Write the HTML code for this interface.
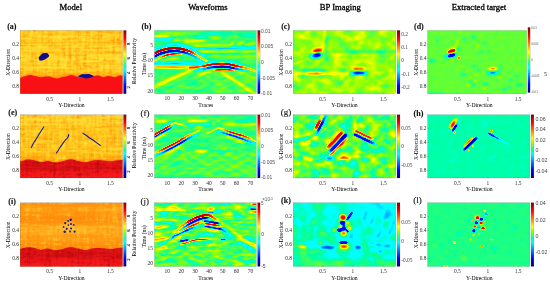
<!DOCTYPE html><html><head><meta charset="utf-8"><title>Figure</title><style>html,body{margin:0;padding:0;background:#fff;overflow:hidden}svg{display:block}</style></head><body><svg width="550" height="283" viewBox="0 0 550 283"><defs><linearGradient id="jetg" x1="0" y1="1" x2="0" y2="0">
<stop offset="0" stop-color="#000080"/><stop offset="0.125" stop-color="#0000ff"/><stop offset="0.375" stop-color="#00ffff"/>
<stop offset="0.4375" stop-color="#00ffb6"/><stop offset="0.5" stop-color="#55ff55"/><stop offset="0.5625" stop-color="#adff00"/><stop offset="0.625" stop-color="#ffff00"/><stop offset="0.875" stop-color="#ff0000"/><stop offset="1" stop-color="#800000"/>
</linearGradient><filter id="b0" filterUnits="userSpaceOnUse" x="0" y="0" width="550" height="283" color-interpolation-filters="sRGB"><feGaussianBlur stdDeviation="0.3"/></filter><filter id="b1" filterUnits="userSpaceOnUse" x="0" y="0" width="550" height="283" color-interpolation-filters="sRGB"><feGaussianBlur stdDeviation="0.5"/></filter><filter id="b2" filterUnits="userSpaceOnUse" x="0" y="0" width="550" height="283" color-interpolation-filters="sRGB"><feGaussianBlur stdDeviation="0.8"/></filter><filter id="b3" filterUnits="userSpaceOnUse" x="0" y="0" width="550" height="283" color-interpolation-filters="sRGB"><feGaussianBlur stdDeviation="1.2"/></filter><filter id="b4" filterUnits="userSpaceOnUse" x="0" y="0" width="550" height="283" color-interpolation-filters="sRGB"><feGaussianBlur stdDeviation="1.8"/></filter><filter id="b5" filterUnits="userSpaceOnUse" x="0" y="0" width="550" height="283" color-interpolation-filters="sRGB"><feGaussianBlur stdDeviation="2.5"/></filter><filter id="nzY" x="0" y="0" width="100%" height="100%" color-interpolation-filters="sRGB">
<feTurbulence type="fractalNoise" baseFrequency="0.32 0.04" numOctaves="2" seed="3"/>
<feColorMatrix type="matrix" values="1 0 0 0 0  1 0 0 0 0  1 0 0 0 0  0 0 0 0 1" result="a"/>
<feTurbulence type="fractalNoise" baseFrequency="0.04 0.42" numOctaves="2" seed="8"/>
<feColorMatrix type="matrix" values="1 0 0 0 0  1 0 0 0 0  1 0 0 0 0  0 0 0 0 1" result="b"/>
<feTurbulence type="fractalNoise" baseFrequency="0.3 0.35" numOctaves="1" seed="12"/>
<feColorMatrix type="matrix" values="1 0 0 0 0  1 0 0 0 0  1 0 0 0 0  0 0 0 0 1" result="c"/>
<feComposite in="a" in2="b" operator="arithmetic" k1="0" k2="0.5" k3="0.5" k4="0" result="ab"/>
<feComposite in="ab" in2="c" operator="arithmetic" k1="0" k2="0.7" k3="0.3" k4="0" result="n"/>
<feColorMatrix in="n" type="matrix" values="0 0 0 0 1  0 0 0 0 0.93  0 0 0 0 0.22  5.0 0 0 0 -2.5"/>
</filter><filter id="nzO" x="0" y="0" width="100%" height="100%" color-interpolation-filters="sRGB">
<feTurbulence type="fractalNoise" baseFrequency="0.32 0.04" numOctaves="2" seed="3"/>
<feColorMatrix type="matrix" values="1 0 0 0 0  1 0 0 0 0  1 0 0 0 0  0 0 0 0 1" result="a"/>
<feTurbulence type="fractalNoise" baseFrequency="0.04 0.42" numOctaves="2" seed="8"/>
<feColorMatrix type="matrix" values="1 0 0 0 0  1 0 0 0 0  1 0 0 0 0  0 0 0 0 1" result="b"/>
<feTurbulence type="fractalNoise" baseFrequency="0.3 0.35" numOctaves="1" seed="12"/>
<feColorMatrix type="matrix" values="1 0 0 0 0  1 0 0 0 0  1 0 0 0 0  0 0 0 0 1" result="c"/>
<feComposite in="a" in2="b" operator="arithmetic" k1="0" k2="0.5" k3="0.5" k4="0" result="ab"/>
<feComposite in="ab" in2="c" operator="arithmetic" k1="0" k2="0.7" k3="0.3" k4="0" result="n"/>
<feColorMatrix in="n" type="matrix" values="0 0 0 0 1  0 0 0 0 0.56  0 0 0 0 0.03  -5.0 0 0 0 2.5"/>
</filter><filter id="nzR" x="0" y="0" width="100%" height="100%" color-interpolation-filters="sRGB">
<feTurbulence type="fractalNoise" baseFrequency="0.32 0.04" numOctaves="2" seed="11"/>
<feColorMatrix type="matrix" values="1 0 0 0 0  1 0 0 0 0  1 0 0 0 0  0 0 0 0 1" result="a"/>
<feTurbulence type="fractalNoise" baseFrequency="0.04 0.42" numOctaves="2" seed="16"/>
<feColorMatrix type="matrix" values="1 0 0 0 0  1 0 0 0 0  1 0 0 0 0  0 0 0 0 1" result="b"/>
<feTurbulence type="fractalNoise" baseFrequency="0.3 0.35" numOctaves="1" seed="20"/>
<feColorMatrix type="matrix" values="1 0 0 0 0  1 0 0 0 0  1 0 0 0 0  0 0 0 0 1" result="c"/>
<feComposite in="a" in2="b" operator="arithmetic" k1="0" k2="0.5" k3="0.5" k4="0" result="ab"/>
<feComposite in="ab" in2="c" operator="arithmetic" k1="0" k2="0.7" k3="0.3" k4="0" result="n"/>
<feColorMatrix in="n" type="matrix" values="0 0 0 0 1  0 0 0 0 0.16  0 0 0 0 0.12  4.0 0 0 0 -2.0"/>
</filter><filter id="nzD" x="0" y="0" width="100%" height="100%" color-interpolation-filters="sRGB">
<feTurbulence type="fractalNoise" baseFrequency="0.32 0.04" numOctaves="2" seed="11"/>
<feColorMatrix type="matrix" values="1 0 0 0 0  1 0 0 0 0  1 0 0 0 0  0 0 0 0 1" result="a"/>
<feTurbulence type="fractalNoise" baseFrequency="0.04 0.42" numOctaves="2" seed="16"/>
<feColorMatrix type="matrix" values="1 0 0 0 0  1 0 0 0 0  1 0 0 0 0  0 0 0 0 1" result="b"/>
<feTurbulence type="fractalNoise" baseFrequency="0.3 0.35" numOctaves="1" seed="20"/>
<feColorMatrix type="matrix" values="1 0 0 0 0  1 0 0 0 0  1 0 0 0 0  0 0 0 0 1" result="c"/>
<feComposite in="a" in2="b" operator="arithmetic" k1="0" k2="0.5" k3="0.5" k4="0" result="ab"/>
<feComposite in="ab" in2="c" operator="arithmetic" k1="0" k2="0.7" k3="0.3" k4="0" result="n"/>
<feColorMatrix in="n" type="matrix" values="0 0 0 0 0.62  0 0 0 0 0  0 0 0 0 0  -4.0 0 0 0 2.0"/>
</filter><clipPath id="cp1"><rect x="20.2" y="30.4" width="102.3" height="63.4"/></clipPath><linearGradient id="ga" gradientUnits="userSpaceOnUse" x1="0" y1="30.4" x2="0" y2="93.8"><stop offset="0.000" stop-color="#ffc21a"/><stop offset="0.041" stop-color="#ffc81e"/><stop offset="0.088" stop-color="#ffd42a"/><stop offset="0.167" stop-color="#ffcc22"/><stop offset="0.191" stop-color="#ffbe18"/><stop offset="0.230" stop-color="#ffd228"/><stop offset="0.309" stop-color="#ffd62e"/><stop offset="0.347" stop-color="#ffc21a"/><stop offset="0.388" stop-color="#ffd42a"/><stop offset="0.467" stop-color="#ffd830"/><stop offset="0.530" stop-color="#ffca20"/><stop offset="0.593" stop-color="#ffd42a"/><stop offset="0.648" stop-color="#ffc61c"/><stop offset="0.688" stop-color="#ffb214"/><stop offset="0.751" stop-color="#ffaa10"/></linearGradient><clipPath id="rr1"><path d="M20.00 78.20 C20.67 77.93 22.33 77.13 24.00 76.60 C25.67 76.07 28.17 75.10 30.00 75.00 C31.83 74.90 33.17 75.63 35.00 76.00 C36.83 76.37 38.75 77.12 41.00 77.20 C43.25 77.28 45.97 76.30 48.50 76.50 C51.03 76.70 53.95 78.28 56.20 78.40 C58.45 78.52 60.30 77.52 62.00 77.20 C63.70 76.88 64.82 76.87 66.40 76.50 C67.98 76.13 69.90 75.00 71.50 75.00 C73.10 75.00 74.58 76.12 76.00 76.50 C77.42 76.88 78.33 77.13 80.00 77.30 C81.67 77.47 83.65 77.67 86.00 77.50 C88.35 77.33 92.10 76.63 94.10 76.30 C96.10 75.97 96.47 75.35 98.00 75.50 C99.53 75.65 101.57 77.12 103.30 77.20 C105.03 77.28 106.50 76.00 108.40 76.00 C110.30 76.00 112.80 77.28 114.70 77.20 C116.60 77.12 118.42 75.70 119.80 75.50 C121.18 75.30 122.47 75.92 123.00 76.00 L123.5 94.8 L19.2 94.8 Z"/></clipPath><clipPath id="cp2"><rect x="20.2" y="114.7" width="102.3" height="63.3"/></clipPath><linearGradient id="ge" gradientUnits="userSpaceOnUse" x1="0" y1="114.7" x2="0" y2="178.0"><stop offset="0.000" stop-color="#ffc41c"/><stop offset="0.036" stop-color="#ffd22c"/><stop offset="0.131" stop-color="#ffd430"/><stop offset="0.194" stop-color="#ffc21a"/><stop offset="0.273" stop-color="#ffca22"/><stop offset="0.352" stop-color="#ffc01a"/><stop offset="0.431" stop-color="#ffcc26"/><stop offset="0.510" stop-color="#ffc41e"/><stop offset="0.589" stop-color="#ffc820"/><stop offset="0.652" stop-color="#ffb616"/><stop offset="0.716" stop-color="#ffaa10"/></linearGradient><linearGradient id="gre" gradientUnits="userSpaceOnUse" x1="0" y1="114.7" x2="0" y2="178.0"><stop offset="0.700" stop-color="#e21216"/><stop offset="0.810" stop-color="#dc1014"/><stop offset="0.858" stop-color="#d40e12"/><stop offset="0.905" stop-color="#ee161a"/><stop offset="1.000" stop-color="#f8181c"/></linearGradient><clipPath id="rr2"><path d="M20.00 161.50 C20.67 161.32 22.63 160.72 24.00 160.40 C25.37 160.08 26.45 159.62 28.20 159.60 C29.95 159.58 32.38 159.87 34.50 160.30 C36.62 160.73 38.77 162.10 40.90 162.20 C43.03 162.30 44.97 160.83 47.30 160.90 C49.63 160.97 52.37 162.53 54.90 162.60 C57.43 162.67 60.48 161.73 62.50 161.30 C64.52 160.87 65.62 160.33 67.00 160.00 C68.38 159.67 69.55 159.30 70.80 159.30 C72.05 159.30 73.33 159.73 74.50 160.00 C75.67 160.27 76.18 160.53 77.80 160.90 C79.42 161.27 82.72 161.98 84.20 162.20 C85.68 162.42 85.57 162.40 86.70 162.20 C87.83 162.00 89.52 161.32 91.00 161.00 C92.48 160.68 94.27 160.43 95.60 160.30 C96.93 160.17 97.72 160.17 99.00 160.20 C100.28 160.23 101.32 160.32 103.30 160.50 C105.28 160.68 109.12 161.22 110.90 161.30 C112.68 161.38 112.93 161.17 114.00 161.00 C115.07 160.83 115.80 160.47 117.30 160.30 C118.80 160.13 122.05 160.05 123.00 160.00 L123.5 179.0 L19.2 179.0 Z"/></clipPath><clipPath id="cp3"><rect x="20.2" y="202.7" width="102.3" height="63.69999999999999"/></clipPath><linearGradient id="gi" gradientUnits="userSpaceOnUse" x1="0" y1="202.7" x2="0" y2="266.4"><stop offset="0.000" stop-color="#ff9010"/><stop offset="0.052" stop-color="#ff9412"/><stop offset="0.115" stop-color="#ffa218"/><stop offset="0.162" stop-color="#ff9812"/><stop offset="0.240" stop-color="#ff8c0e"/><stop offset="0.319" stop-color="#ff9210"/><stop offset="0.381" stop-color="#ffac20"/><stop offset="0.460" stop-color="#ffb024"/><stop offset="0.523" stop-color="#ff9a14"/><stop offset="0.586" stop-color="#ffa018"/><stop offset="0.648" stop-color="#ff900e"/><stop offset="0.727" stop-color="#ff860a"/></linearGradient><linearGradient id="gri" gradientUnits="userSpaceOnUse" x1="0" y1="202.7" x2="0" y2="266.4"><stop offset="0.695" stop-color="#dc1216"/><stop offset="0.790" stop-color="#d81014"/><stop offset="0.837" stop-color="#d00e12"/><stop offset="0.884" stop-color="#ea1418"/><stop offset="0.994" stop-color="#f4181c"/></linearGradient><clipPath id="rr3"><path d="M20.00 249.20 C20.67 249.02 22.63 248.42 24.00 248.10 C25.37 247.78 26.45 247.32 28.20 247.30 C29.95 247.28 32.38 247.57 34.50 248.00 C36.62 248.43 38.77 249.80 40.90 249.90 C43.03 250.00 44.97 248.53 47.30 248.60 C49.63 248.67 52.37 250.23 54.90 250.30 C57.43 250.37 60.48 249.43 62.50 249.00 C64.52 248.57 65.62 248.03 67.00 247.70 C68.38 247.37 69.55 247.00 70.80 247.00 C72.05 247.00 73.33 247.43 74.50 247.70 C75.67 247.97 76.18 248.23 77.80 248.60 C79.42 248.97 82.72 249.68 84.20 249.90 C85.68 250.12 85.57 250.10 86.70 249.90 C87.83 249.70 89.52 249.02 91.00 248.70 C92.48 248.38 94.27 248.13 95.60 248.00 C96.93 247.87 97.72 247.87 99.00 247.90 C100.28 247.93 101.32 248.02 103.30 248.20 C105.28 248.38 109.12 248.92 110.90 249.00 C112.68 249.08 112.93 248.87 114.00 248.70 C115.07 248.53 115.80 248.17 117.30 248.00 C118.80 247.83 122.05 247.75 123.00 247.70 L123.5 267.4 L19.2 267.4 Z"/></clipPath><clipPath id="cp4"><rect x="154.5" y="30.4" width="101.80000000000001" height="63.4"/></clipPath><filter id="jf4" filterUnits="userSpaceOnUse" x="153.5" y="29.4" width="103.80000000000001" height="65.4" color-interpolation-filters="sRGB">
<feTurbulence type="fractalNoise" baseFrequency="0.07 0.28" numOctaves="2" seed="4" result="n"/>
<feColorMatrix in="n" type="matrix" values="0.13 0 0 0 0.435  0.13 0 0 0 0.435  0.13 0 0 0 0.435  0 0 0 0 1" result="ng"/>
<feComposite in="SourceGraphic" in2="ng" operator="arithmetic" k1="0" k2="1" k3="1" k4="-0.5" result="s"/>
<feComponentTransfer in="s">
<feFuncR type="table" tableValues="0 0 0 0 0.5 1 1 1 0.5"/>
<feFuncG type="table" tableValues="0 0 0.5 1 1 1 0.5 0 0"/>
<feFuncB type="table" tableValues="0.5 1 1 1 0.5 0 0 0 0"/>
<feFuncA type="linear" slope="0" intercept="1"/>
</feComponentTransfer><feColorMatrix type="saturate" values="1.55"/></filter><linearGradient id="tg1" gradientUnits="userSpaceOnUse" x1="153" y1="0" x2="172" y2="0"><stop offset="0.000" stop-color="#cbcbcb" stop-opacity="0.6"/><stop offset="0.263" stop-color="#cbcbcb" stop-opacity="1"/><stop offset="0.684" stop-color="#cbcbcb" stop-opacity="1"/><stop offset="1.000" stop-color="#cbcbcb" stop-opacity="0"/></linearGradient><linearGradient id="tg2" gradientUnits="userSpaceOnUse" x1="153" y1="0" x2="184" y2="0"><stop offset="0.000" stop-color="#3b3b3b" stop-opacity="0.8"/><stop offset="0.710" stop-color="#3b3b3b" stop-opacity="0.8"/><stop offset="1.000" stop-color="#3b3b3b" stop-opacity="0"/></linearGradient><linearGradient id="tg3" gradientUnits="userSpaceOnUse" x1="171" y1="0" x2="182" y2="0"><stop offset="0.000" stop-color="#b1b1b1" stop-opacity="0"/><stop offset="0.273" stop-color="#b1b1b1" stop-opacity="1"/><stop offset="0.727" stop-color="#b1b1b1" stop-opacity="1"/><stop offset="1.000" stop-color="#b1b1b1" stop-opacity="0"/></linearGradient><linearGradient id="tg4" gradientUnits="userSpaceOnUse" x1="182" y1="0" x2="207" y2="0"><stop offset="0.000" stop-color="#b1b1b1" stop-opacity="0"/><stop offset="0.160" stop-color="#b1b1b1" stop-opacity="1"/><stop offset="0.800" stop-color="#b1b1b1" stop-opacity="1"/><stop offset="1.000" stop-color="#b1b1b1" stop-opacity="0"/></linearGradient><linearGradient id="tg5" gradientUnits="userSpaceOnUse" x1="194" y1="0" x2="209" y2="0"><stop offset="0.000" stop-color="#484848" stop-opacity="0"/><stop offset="0.267" stop-color="#484848" stop-opacity="0.8"/><stop offset="0.733" stop-color="#484848" stop-opacity="0.8"/><stop offset="1.000" stop-color="#484848" stop-opacity="0"/></linearGradient><linearGradient id="tg6" gradientUnits="userSpaceOnUse" x1="210" y1="0" x2="222" y2="0"><stop offset="0.000" stop-color="#b1b1b1" stop-opacity="0"/><stop offset="0.333" stop-color="#b1b1b1" stop-opacity="0.7"/><stop offset="0.667" stop-color="#b1b1b1" stop-opacity="0.7"/><stop offset="1.000" stop-color="#b1b1b1" stop-opacity="0"/></linearGradient><linearGradient id="tg7" gradientUnits="userSpaceOnUse" x1="224" y1="0" x2="241" y2="0"><stop offset="0.000" stop-color="#b1b1b1" stop-opacity="0"/><stop offset="0.353" stop-color="#b1b1b1" stop-opacity="0.5"/><stop offset="0.706" stop-color="#b1b1b1" stop-opacity="0.5"/><stop offset="1.000" stop-color="#b1b1b1" stop-opacity="0"/></linearGradient><linearGradient id="tg8" gradientUnits="userSpaceOnUse" x1="158" y1="0" x2="202" y2="0"><stop offset="0.000" stop-color="#a9a9a9" stop-opacity="0"/><stop offset="0.159" stop-color="#a9a9a9" stop-opacity="0.7"/><stop offset="0.841" stop-color="#a9a9a9" stop-opacity="0.7"/><stop offset="1.000" stop-color="#a9a9a9" stop-opacity="0"/></linearGradient><linearGradient id="tg9" gradientUnits="userSpaceOnUse" x1="204" y1="0" x2="257" y2="0"><stop offset="0.000" stop-color="#5d5d5d" stop-opacity="0"/><stop offset="0.151" stop-color="#5d5d5d" stop-opacity="0.7"/><stop offset="1.000" stop-color="#5d5d5d" stop-opacity="0.7"/></linearGradient><linearGradient id="tg10" gradientUnits="userSpaceOnUse" x1="178" y1="0" x2="202" y2="0"><stop offset="0.000" stop-color="#a9a9a9" stop-opacity="0"/><stop offset="0.250" stop-color="#a9a9a9" stop-opacity="0.7"/><stop offset="0.750" stop-color="#a9a9a9" stop-opacity="0.7"/><stop offset="1.000" stop-color="#a9a9a9" stop-opacity="0"/></linearGradient><linearGradient id="tg11" gradientUnits="userSpaceOnUse" x1="188" y1="0" x2="258" y2="0"><stop offset="0.000" stop-color="#454545" stop-opacity="0"/><stop offset="0.114" stop-color="#454545" stop-opacity="0.8"/><stop offset="0.386" stop-color="#454545" stop-opacity="1"/><stop offset="0.743" stop-color="#454545" stop-opacity="1"/><stop offset="1.000" stop-color="#454545" stop-opacity="0.8"/></linearGradient><linearGradient id="tg12" gradientUnits="userSpaceOnUse" x1="190" y1="0" x2="234" y2="0"><stop offset="0.000" stop-color="#b1b1b1" stop-opacity="0"/><stop offset="0.136" stop-color="#b1b1b1" stop-opacity="1"/><stop offset="1.000" stop-color="#b1b1b1" stop-opacity="0.8"/></linearGradient><linearGradient id="tg13" gradientUnits="userSpaceOnUse" x1="192" y1="0" x2="258" y2="0"><stop offset="0.000" stop-color="#b5b5b5" stop-opacity="0"/><stop offset="0.091" stop-color="#b5b5b5" stop-opacity="1"/><stop offset="1.000" stop-color="#b5b5b5" stop-opacity="1"/></linearGradient><linearGradient id="tg14" gradientUnits="userSpaceOnUse" x1="192" y1="0" x2="258" y2="0"><stop offset="0.000" stop-color="#4f4f4f" stop-opacity="0"/><stop offset="0.091" stop-color="#4f4f4f" stop-opacity="0.8"/><stop offset="1.000" stop-color="#4f4f4f" stop-opacity="0.8"/></linearGradient><linearGradient id="tg15" gradientUnits="userSpaceOnUse" x1="208" y1="0" x2="258" y2="0"><stop offset="0.000" stop-color="#acacac" stop-opacity="0"/><stop offset="0.120" stop-color="#acacac" stop-opacity="0.8"/><stop offset="1.000" stop-color="#acacac" stop-opacity="0.8"/></linearGradient><linearGradient id="tg16" gradientUnits="userSpaceOnUse" x1="150" y1="0" x2="211" y2="0"><stop offset="0.000" stop-color="#454545" stop-opacity="0.9"/><stop offset="0.689" stop-color="#454545" stop-opacity="0.9"/><stop offset="0.885" stop-color="#454545" stop-opacity="0.6"/><stop offset="1.000" stop-color="#454545" stop-opacity="0"/></linearGradient><linearGradient id="tg17" gradientUnits="userSpaceOnUse" x1="150" y1="0" x2="206" y2="0"><stop offset="0.000" stop-color="#000000" stop-opacity="1"/><stop offset="0.482" stop-color="#000000" stop-opacity="1"/><stop offset="0.607" stop-color="#000000" stop-opacity="0.7"/><stop offset="0.750" stop-color="#000000" stop-opacity="0.4"/><stop offset="0.857" stop-color="#000000" stop-opacity="0.3"/><stop offset="1.000" stop-color="#000000" stop-opacity="0"/></linearGradient><linearGradient id="tg18" gradientUnits="userSpaceOnUse" x1="150" y1="0" x2="211" y2="0"><stop offset="0.000" stop-color="#ffffff" stop-opacity="1"/><stop offset="0.574" stop-color="#ffffff" stop-opacity="1"/><stop offset="0.689" stop-color="#ffffff" stop-opacity="0.75"/><stop offset="0.787" stop-color="#ffffff" stop-opacity="0.42"/><stop offset="0.934" stop-color="#ffffff" stop-opacity="0.38"/><stop offset="1.000" stop-color="#ffffff" stop-opacity="0"/></linearGradient><linearGradient id="tg19" gradientUnits="userSpaceOnUse" x1="150" y1="0" x2="183" y2="0"><stop offset="0.000" stop-color="#ffffff" stop-opacity="0.35"/><stop offset="0.303" stop-color="#ffffff" stop-opacity="0.42"/><stop offset="0.424" stop-color="#ffffff" stop-opacity="0.65"/><stop offset="0.576" stop-color="#ffffff" stop-opacity="0.9"/><stop offset="0.788" stop-color="#ffffff" stop-opacity="0.85"/><stop offset="0.909" stop-color="#ffffff" stop-opacity="0.5"/><stop offset="1.000" stop-color="#ffffff" stop-opacity="0"/></linearGradient><linearGradient id="tg20" gradientUnits="userSpaceOnUse" x1="150" y1="0" x2="183" y2="0"><stop offset="0.000" stop-color="#3b3b3b" stop-opacity="0.3"/><stop offset="0.303" stop-color="#3b3b3b" stop-opacity="0.4"/><stop offset="0.758" stop-color="#3b3b3b" stop-opacity="0.4"/><stop offset="1.000" stop-color="#3b3b3b" stop-opacity="0"/></linearGradient><linearGradient id="tg21" gradientUnits="userSpaceOnUse" x1="154" y1="0" x2="184" y2="0"><stop offset="0.000" stop-color="#b0b0b0" stop-opacity="0.3"/><stop offset="0.200" stop-color="#b0b0b0" stop-opacity="0.8"/><stop offset="0.733" stop-color="#b0b0b0" stop-opacity="0.8"/><stop offset="1.000" stop-color="#b0b0b0" stop-opacity="0"/></linearGradient><linearGradient id="tg22" gradientUnits="userSpaceOnUse" x1="152" y1="0" x2="210" y2="0"><stop offset="0.000" stop-color="#3b3b3b" stop-opacity="0.7"/><stop offset="0.103" stop-color="#3b3b3b" stop-opacity="1"/><stop offset="0.448" stop-color="#3b3b3b" stop-opacity="1"/><stop offset="0.621" stop-color="#3b3b3b" stop-opacity="0.7"/><stop offset="0.828" stop-color="#3b3b3b" stop-opacity="0.6"/><stop offset="1.000" stop-color="#3b3b3b" stop-opacity="0"/></linearGradient><linearGradient id="tg23" gradientUnits="userSpaceOnUse" x1="152" y1="0" x2="196" y2="0"><stop offset="0.000" stop-color="#d9d9d9" stop-opacity="0.5"/><stop offset="0.136" stop-color="#d9d9d9" stop-opacity="1"/><stop offset="0.682" stop-color="#d9d9d9" stop-opacity="1"/><stop offset="0.864" stop-color="#d9d9d9" stop-opacity="0.6"/><stop offset="1.000" stop-color="#d9d9d9" stop-opacity="0.5"/></linearGradient><linearGradient id="tg24" gradientUnits="userSpaceOnUse" x1="152" y1="0" x2="192" y2="0"><stop offset="0.000" stop-color="#5d5d5d" stop-opacity="0.6"/><stop offset="0.825" stop-color="#5d5d5d" stop-opacity="0.6"/><stop offset="1.000" stop-color="#5d5d5d" stop-opacity="0"/></linearGradient><linearGradient id="tg25" gradientUnits="userSpaceOnUse" x1="196" y1="0" x2="248" y2="0"><stop offset="0.000" stop-color="#4f4f4f" stop-opacity="0"/><stop offset="0.135" stop-color="#4f4f4f" stop-opacity="0.8"/><stop offset="0.846" stop-color="#4f4f4f" stop-opacity="0.8"/><stop offset="1.000" stop-color="#4f4f4f" stop-opacity="0"/></linearGradient><linearGradient id="tg26" gradientUnits="userSpaceOnUse" x1="190" y1="0" x2="250" y2="0"><stop offset="0.000" stop-color="#000000" stop-opacity="0.25"/><stop offset="0.233" stop-color="#000000" stop-opacity="0.4"/><stop offset="0.367" stop-color="#000000" stop-opacity="0.8"/><stop offset="0.433" stop-color="#000000" stop-opacity="1"/><stop offset="0.667" stop-color="#000000" stop-opacity="1"/><stop offset="0.750" stop-color="#000000" stop-opacity="0.7"/><stop offset="0.867" stop-color="#000000" stop-opacity="0.35"/><stop offset="1.000" stop-color="#000000" stop-opacity="0"/></linearGradient><linearGradient id="tg27" gradientUnits="userSpaceOnUse" x1="190" y1="0" x2="259" y2="0"><stop offset="0.000" stop-color="#ffffff" stop-opacity="0.5"/><stop offset="0.145" stop-color="#ffffff" stop-opacity="0.6"/><stop offset="0.232" stop-color="#ffffff" stop-opacity="0.8"/><stop offset="0.304" stop-color="#ffffff" stop-opacity="0.95"/><stop offset="0.638" stop-color="#ffffff" stop-opacity="0.95"/><stop offset="0.710" stop-color="#ffffff" stop-opacity="0.75"/><stop offset="0.783" stop-color="#ffffff" stop-opacity="0.5"/><stop offset="0.870" stop-color="#ffffff" stop-opacity="0.38"/><stop offset="1.000" stop-color="#ffffff" stop-opacity="0.35"/></linearGradient><linearGradient id="tg28" gradientUnits="userSpaceOnUse" x1="212" y1="0" x2="236" y2="0"><stop offset="0.000" stop-color="#ffffff" stop-opacity="0"/><stop offset="0.167" stop-color="#ffffff" stop-opacity="0.7"/><stop offset="0.333" stop-color="#ffffff" stop-opacity="0.9"/><stop offset="0.708" stop-color="#ffffff" stop-opacity="0.9"/><stop offset="0.875" stop-color="#ffffff" stop-opacity="0.5"/><stop offset="1.000" stop-color="#ffffff" stop-opacity="0"/></linearGradient><linearGradient id="tg29" gradientUnits="userSpaceOnUse" x1="153" y1="0" x2="196" y2="0"><stop offset="0.000" stop-color="#b5b5b5" stop-opacity="0.5"/><stop offset="0.279" stop-color="#b5b5b5" stop-opacity="0.9"/><stop offset="0.860" stop-color="#b5b5b5" stop-opacity="1"/><stop offset="1.000" stop-color="#b5b5b5" stop-opacity="0.6"/></linearGradient><linearGradient id="tg30" gradientUnits="userSpaceOnUse" x1="220" y1="0" x2="255" y2="0"><stop offset="0.000" stop-color="#b5b5b5" stop-opacity="0.3"/><stop offset="0.171" stop-color="#b5b5b5" stop-opacity="1"/><stop offset="1.000" stop-color="#b5b5b5" stop-opacity="0.9"/></linearGradient><clipPath id="cp5"><rect x="154.5" y="114.7" width="101.80000000000001" height="63.3"/></clipPath><filter id="jf5" filterUnits="userSpaceOnUse" x="153.5" y="113.7" width="103.80000000000001" height="65.3" color-interpolation-filters="sRGB">
<feTurbulence type="fractalNoise" baseFrequency="0.07 0.28" numOctaves="2" seed="11" result="n"/>
<feColorMatrix in="n" type="matrix" values="0.13 0 0 0 0.435  0.13 0 0 0 0.435  0.13 0 0 0 0.435  0 0 0 0 1" result="ng"/>
<feComposite in="SourceGraphic" in2="ng" operator="arithmetic" k1="0" k2="1" k3="1" k4="-0.5" result="s"/>
<feComponentTransfer in="s">
<feFuncR type="table" tableValues="0 0 0 0 0.5 1 1 1 0.5"/>
<feFuncG type="table" tableValues="0 0 0.5 1 1 1 0.5 0 0"/>
<feFuncB type="table" tableValues="0.5 1 1 1 0.5 0 0 0 0"/>
<feFuncA type="linear" slope="0" intercept="1"/>
</feComponentTransfer><feColorMatrix type="saturate" values="1.55"/></filter><linearGradient id="tg31" gradientUnits="userSpaceOnUse" x1="154" y1="0" x2="170" y2="0"><stop offset="0.000" stop-color="#b3b3b3" stop-opacity="0"/><stop offset="0.188" stop-color="#b3b3b3" stop-opacity="1"/><stop offset="0.750" stop-color="#b3b3b3" stop-opacity="1"/><stop offset="1.000" stop-color="#b3b3b3" stop-opacity="0"/></linearGradient><linearGradient id="tg32" gradientUnits="userSpaceOnUse" x1="186" y1="0" x2="210" y2="0"><stop offset="0.000" stop-color="#bdbdbd" stop-opacity="0"/><stop offset="0.167" stop-color="#bdbdbd" stop-opacity="1"/><stop offset="0.833" stop-color="#bdbdbd" stop-opacity="1"/><stop offset="1.000" stop-color="#bdbdbd" stop-opacity="0"/></linearGradient><linearGradient id="tg33" gradientUnits="userSpaceOnUse" x1="184" y1="0" x2="212" y2="0"><stop offset="0.000" stop-color="#4c4c4c" stop-opacity="0"/><stop offset="0.179" stop-color="#4c4c4c" stop-opacity="0.9"/><stop offset="0.857" stop-color="#4c4c4c" stop-opacity="0.9"/><stop offset="1.000" stop-color="#4c4c4c" stop-opacity="0"/></linearGradient><linearGradient id="tg34" gradientUnits="userSpaceOnUse" x1="193" y1="0" x2="205" y2="0"><stop offset="0.000" stop-color="#a9a9a9" stop-opacity="0"/><stop offset="0.333" stop-color="#a9a9a9" stop-opacity="0.8"/><stop offset="0.667" stop-color="#a9a9a9" stop-opacity="0.8"/><stop offset="1.000" stop-color="#a9a9a9" stop-opacity="0"/></linearGradient><linearGradient id="tg35" gradientUnits="userSpaceOnUse" x1="220" y1="0" x2="258" y2="0"><stop offset="0.000" stop-color="#acacac" stop-opacity="0"/><stop offset="0.132" stop-color="#acacac" stop-opacity="0.9"/><stop offset="1.000" stop-color="#acacac" stop-opacity="0.8"/></linearGradient><linearGradient id="tg36" gradientUnits="userSpaceOnUse" x1="232" y1="0" x2="258" y2="0"><stop offset="0.000" stop-color="#565656" stop-opacity="0"/><stop offset="0.231" stop-color="#565656" stop-opacity="0.8"/><stop offset="1.000" stop-color="#565656" stop-opacity="0.8"/></linearGradient><linearGradient id="tg37" gradientUnits="userSpaceOnUse" x1="195" y1="0" x2="204" y2="0"><stop offset="0.000" stop-color="#a9a9a9" stop-opacity="0.7"/><stop offset="0.556" stop-color="#a9a9a9" stop-opacity="0.7"/><stop offset="1.000" stop-color="#a9a9a9" stop-opacity="0"/></linearGradient><linearGradient id="tg38" gradientUnits="userSpaceOnUse" x1="154" y1="0" x2="200" y2="0"><stop offset="0.000" stop-color="#949494" stop-opacity="0.6"/><stop offset="1.000" stop-color="#949494" stop-opacity="0.6"/></linearGradient><linearGradient id="tg39" gradientUnits="userSpaceOnUse" x1="158" y1="0" x2="173" y2="0"><stop offset="0.000" stop-color="#4f4f4f" stop-opacity="0"/><stop offset="0.333" stop-color="#4f4f4f" stop-opacity="0.9"/><stop offset="0.733" stop-color="#4f4f4f" stop-opacity="0.9"/><stop offset="1.000" stop-color="#4f4f4f" stop-opacity="0"/></linearGradient><linearGradient id="tg40" gradientUnits="userSpaceOnUse" x1="150" y1="0" x2="178" y2="0"><stop offset="0.000" stop-color="#141414" stop-opacity="1"/><stop offset="0.500" stop-color="#141414" stop-opacity="1"/><stop offset="0.679" stop-color="#141414" stop-opacity="0.7"/><stop offset="0.821" stop-color="#141414" stop-opacity="0.35"/><stop offset="1.000" stop-color="#141414" stop-opacity="0"/></linearGradient><linearGradient id="tg41" gradientUnits="userSpaceOnUse" x1="150" y1="0" x2="186" y2="0"><stop offset="0.000" stop-color="#ebebeb" stop-opacity="1"/><stop offset="0.417" stop-color="#ebebeb" stop-opacity="1"/><stop offset="0.528" stop-color="#ebebeb" stop-opacity="0.7"/><stop offset="0.611" stop-color="#ebebeb" stop-opacity="0.4"/><stop offset="0.833" stop-color="#ebebeb" stop-opacity="0.35"/><stop offset="1.000" stop-color="#ebebeb" stop-opacity="0.2"/></linearGradient><linearGradient id="tg42" gradientUnits="userSpaceOnUse" x1="150" y1="0" x2="170" y2="0"><stop offset="0.000" stop-color="#b7b7b7" stop-opacity="0.9"/><stop offset="0.500" stop-color="#b7b7b7" stop-opacity="0.9"/><stop offset="0.800" stop-color="#b7b7b7" stop-opacity="0.4"/><stop offset="1.000" stop-color="#b7b7b7" stop-opacity="0"/></linearGradient><linearGradient id="tg43" gradientUnits="userSpaceOnUse" x1="150" y1="0" x2="199" y2="0"><stop offset="0.000" stop-color="#141414" stop-opacity="0.3"/><stop offset="0.204" stop-color="#141414" stop-opacity="0.4"/><stop offset="0.306" stop-color="#141414" stop-opacity="0.8"/><stop offset="0.367" stop-color="#141414" stop-opacity="1"/><stop offset="0.673" stop-color="#141414" stop-opacity="1"/><stop offset="0.755" stop-color="#141414" stop-opacity="0.65"/><stop offset="0.857" stop-color="#141414" stop-opacity="0.4"/><stop offset="0.939" stop-color="#141414" stop-opacity="0.25"/><stop offset="1.000" stop-color="#141414" stop-opacity="0"/></linearGradient><linearGradient id="tg44" gradientUnits="userSpaceOnUse" x1="150" y1="0" x2="199" y2="0"><stop offset="0.000" stop-color="#ebebeb" stop-opacity="0.3"/><stop offset="0.163" stop-color="#ebebeb" stop-opacity="0.4"/><stop offset="0.245" stop-color="#ebebeb" stop-opacity="0.7"/><stop offset="0.306" stop-color="#ebebeb" stop-opacity="0.95"/><stop offset="0.592" stop-color="#ebebeb" stop-opacity="0.95"/><stop offset="0.694" stop-color="#ebebeb" stop-opacity="0.72"/><stop offset="0.796" stop-color="#ebebeb" stop-opacity="0.5"/><stop offset="0.898" stop-color="#ebebeb" stop-opacity="0.38"/><stop offset="1.000" stop-color="#ebebeb" stop-opacity="0.3"/></linearGradient><linearGradient id="tg45" gradientUnits="userSpaceOnUse" x1="150" y1="0" x2="184" y2="0"><stop offset="0.000" stop-color="#b7b7b7" stop-opacity="0.3"/><stop offset="0.441" stop-color="#b7b7b7" stop-opacity="0.5"/><stop offset="0.588" stop-color="#b7b7b7" stop-opacity="0.9"/><stop offset="0.824" stop-color="#b7b7b7" stop-opacity="0.9"/><stop offset="1.000" stop-color="#b7b7b7" stop-opacity="0"/></linearGradient><linearGradient id="tg46" gradientUnits="userSpaceOnUse" x1="207" y1="0" x2="259" y2="0"><stop offset="0.000" stop-color="#e6e6e6" stop-opacity="0.25"/><stop offset="0.173" stop-color="#e6e6e6" stop-opacity="0.35"/><stop offset="0.288" stop-color="#e6e6e6" stop-opacity="0.4"/><stop offset="0.385" stop-color="#e6e6e6" stop-opacity="0.75"/><stop offset="0.481" stop-color="#e6e6e6" stop-opacity="0.9"/><stop offset="0.712" stop-color="#e6e6e6" stop-opacity="0.9"/><stop offset="0.788" stop-color="#e6e6e6" stop-opacity="0.6"/><stop offset="0.885" stop-color="#e6e6e6" stop-opacity="0.4"/><stop offset="1.000" stop-color="#e6e6e6" stop-opacity="0.35"/></linearGradient><linearGradient id="tg47" gradientUnits="userSpaceOnUse" x1="213" y1="0" x2="259" y2="0"><stop offset="0.000" stop-color="#1a1a1a" stop-opacity="0"/><stop offset="0.109" stop-color="#1a1a1a" stop-opacity="0.3"/><stop offset="0.239" stop-color="#1a1a1a" stop-opacity="0.6"/><stop offset="0.370" stop-color="#1a1a1a" stop-opacity="0.9"/><stop offset="0.652" stop-color="#1a1a1a" stop-opacity="0.9"/><stop offset="0.739" stop-color="#1a1a1a" stop-opacity="0.6"/><stop offset="0.848" stop-color="#1a1a1a" stop-opacity="0.35"/><stop offset="1.000" stop-color="#1a1a1a" stop-opacity="0.3"/></linearGradient><linearGradient id="tg48" gradientUnits="userSpaceOnUse" x1="224" y1="0" x2="247" y2="0"><stop offset="0.000" stop-color="#b0b0b0" stop-opacity="0"/><stop offset="0.217" stop-color="#b0b0b0" stop-opacity="0.9"/><stop offset="0.783" stop-color="#b0b0b0" stop-opacity="0.9"/><stop offset="1.000" stop-color="#b0b0b0" stop-opacity="0"/></linearGradient><linearGradient id="tg49" gradientUnits="userSpaceOnUse" x1="194" y1="0" x2="209" y2="0"><stop offset="0.000" stop-color="#b3b3b3" stop-opacity="0"/><stop offset="0.267" stop-color="#b3b3b3" stop-opacity="1"/><stop offset="0.733" stop-color="#b3b3b3" stop-opacity="1"/><stop offset="1.000" stop-color="#b3b3b3" stop-opacity="0"/></linearGradient><clipPath id="cp6"><rect x="154.5" y="202.7" width="101.80000000000001" height="63.69999999999999"/></clipPath><filter id="jf6" filterUnits="userSpaceOnUse" x="153.5" y="201.7" width="103.80000000000001" height="65.69999999999999" color-interpolation-filters="sRGB">
<feTurbulence type="fractalNoise" baseFrequency="0.09 0.3" numOctaves="2" seed="23" result="n"/>
<feColorMatrix in="n" type="matrix" values="0.31 0 0 0 0.345  0.31 0 0 0 0.345  0.31 0 0 0 0.345  0 0 0 0 1" result="ng"/>
<feComposite in="SourceGraphic" in2="ng" operator="arithmetic" k1="0" k2="1" k3="1" k4="-0.5" result="s"/>
<feComponentTransfer in="s">
<feFuncR type="table" tableValues="0 0 0 0 0.5 1 1 1 0.5"/>
<feFuncG type="table" tableValues="0 0 0.5 1 1 1 0.5 0 0"/>
<feFuncB type="table" tableValues="0.5 1 1 1 0.5 0 0 0 0"/>
<feFuncA type="linear" slope="0" intercept="1"/>
</feComponentTransfer><feColorMatrix type="saturate" values="1.55"/></filter><linearGradient id="tg50" gradientUnits="userSpaceOnUse" x1="154" y1="0" x2="182" y2="0"><stop offset="0.000" stop-color="#b0b0b0" stop-opacity="0.5"/><stop offset="0.143" stop-color="#b0b0b0" stop-opacity="1"/><stop offset="0.786" stop-color="#b0b0b0" stop-opacity="0.9"/><stop offset="1.000" stop-color="#b0b0b0" stop-opacity="0"/></linearGradient><linearGradient id="tg51" gradientUnits="userSpaceOnUse" x1="156" y1="0" x2="180" y2="0"><stop offset="0.000" stop-color="#4f4f4f" stop-opacity="0"/><stop offset="0.167" stop-color="#4f4f4f" stop-opacity="0.9"/><stop offset="0.792" stop-color="#4f4f4f" stop-opacity="0.9"/><stop offset="1.000" stop-color="#4f4f4f" stop-opacity="0"/></linearGradient><linearGradient id="tg52" gradientUnits="userSpaceOnUse" x1="154" y1="0" x2="182" y2="0"><stop offset="0.000" stop-color="#b3b3b3" stop-opacity="0.8"/><stop offset="0.786" stop-color="#b3b3b3" stop-opacity="0.9"/><stop offset="1.000" stop-color="#b3b3b3" stop-opacity="0"/></linearGradient><linearGradient id="tg53" gradientUnits="userSpaceOnUse" x1="154" y1="0" x2="178" y2="0"><stop offset="0.000" stop-color="#4f4f4f" stop-opacity="0.8"/><stop offset="0.750" stop-color="#4f4f4f" stop-opacity="0.8"/><stop offset="1.000" stop-color="#4f4f4f" stop-opacity="0"/></linearGradient><linearGradient id="tg54" gradientUnits="userSpaceOnUse" x1="154" y1="0" x2="174" y2="0"><stop offset="0.000" stop-color="#b3b3b3" stop-opacity="0.9"/><stop offset="0.700" stop-color="#b3b3b3" stop-opacity="0.9"/><stop offset="1.000" stop-color="#b3b3b3" stop-opacity="0"/></linearGradient><linearGradient id="tg55" gradientUnits="userSpaceOnUse" x1="154" y1="0" x2="172" y2="0"><stop offset="0.000" stop-color="#565656" stop-opacity="0.8"/><stop offset="0.667" stop-color="#565656" stop-opacity="0.8"/><stop offset="1.000" stop-color="#565656" stop-opacity="0"/></linearGradient><linearGradient id="tg56" gradientUnits="userSpaceOnUse" x1="154" y1="0" x2="170" y2="0"><stop offset="0.000" stop-color="#a9a9a9" stop-opacity="0.8"/><stop offset="0.625" stop-color="#a9a9a9" stop-opacity="0.8"/><stop offset="1.000" stop-color="#a9a9a9" stop-opacity="0"/></linearGradient><linearGradient id="tg57" gradientUnits="userSpaceOnUse" x1="158" y1="0" x2="178" y2="0"><stop offset="0.000" stop-color="#5d5d5d" stop-opacity="0"/><stop offset="0.200" stop-color="#5d5d5d" stop-opacity="0.8"/><stop offset="0.800" stop-color="#5d5d5d" stop-opacity="0.8"/><stop offset="1.000" stop-color="#5d5d5d" stop-opacity="0"/></linearGradient><linearGradient id="tg58" gradientUnits="userSpaceOnUse" x1="186" y1="0" x2="200" y2="0"><stop offset="0.000" stop-color="#a9a9a9" stop-opacity="0"/><stop offset="0.286" stop-color="#a9a9a9" stop-opacity="0.8"/><stop offset="0.714" stop-color="#a9a9a9" stop-opacity="0.8"/><stop offset="1.000" stop-color="#a9a9a9" stop-opacity="0"/></linearGradient><linearGradient id="tg59" gradientUnits="userSpaceOnUse" x1="184" y1="0" x2="198" y2="0"><stop offset="0.000" stop-color="#5d5d5d" stop-opacity="0"/><stop offset="0.286" stop-color="#5d5d5d" stop-opacity="0.8"/><stop offset="0.714" stop-color="#5d5d5d" stop-opacity="0.8"/><stop offset="1.000" stop-color="#5d5d5d" stop-opacity="0"/></linearGradient><linearGradient id="tg60" gradientUnits="userSpaceOnUse" x1="220" y1="0" x2="250" y2="0"><stop offset="0.000" stop-color="#a2a2a2" stop-opacity="0"/><stop offset="0.200" stop-color="#a2a2a2" stop-opacity="0.7"/><stop offset="0.800" stop-color="#a2a2a2" stop-opacity="0.7"/><stop offset="1.000" stop-color="#a2a2a2" stop-opacity="0"/></linearGradient><linearGradient id="tg61" gradientUnits="userSpaceOnUse" x1="212" y1="0" x2="255" y2="0"><stop offset="0.000" stop-color="#484848" stop-opacity="0"/><stop offset="0.186" stop-color="#484848" stop-opacity="0.9"/><stop offset="1.000" stop-color="#484848" stop-opacity="0.9"/></linearGradient><linearGradient id="tg62" gradientUnits="userSpaceOnUse" x1="154" y1="0" x2="199" y2="0"><stop offset="0.000" stop-color="#000000" stop-opacity="0.2"/><stop offset="0.244" stop-color="#000000" stop-opacity="0.35"/><stop offset="0.400" stop-color="#000000" stop-opacity="0.5"/><stop offset="0.489" stop-color="#000000" stop-opacity="0.6"/><stop offset="0.711" stop-color="#000000" stop-opacity="0.65"/><stop offset="0.867" stop-color="#000000" stop-opacity="0.5"/><stop offset="1.000" stop-color="#000000" stop-opacity="0.3"/></linearGradient><linearGradient id="tg63" gradientUnits="userSpaceOnUse" x1="176" y1="0" x2="204" y2="0"><stop offset="0.000" stop-color="#ffffff" stop-opacity="0.2"/><stop offset="0.179" stop-color="#ffffff" stop-opacity="0.4"/><stop offset="0.429" stop-color="#ffffff" stop-opacity="0.55"/><stop offset="0.786" stop-color="#ffffff" stop-opacity="0.55"/><stop offset="1.000" stop-color="#ffffff" stop-opacity="0.3"/></linearGradient><linearGradient id="tg64" gradientUnits="userSpaceOnUse" x1="176" y1="0" x2="210" y2="0"><stop offset="0.000" stop-color="#000000" stop-opacity="0"/><stop offset="0.147" stop-color="#000000" stop-opacity="0.3"/><stop offset="0.294" stop-color="#000000" stop-opacity="0.5"/><stop offset="0.412" stop-color="#000000" stop-opacity="0.8"/><stop offset="0.529" stop-color="#000000" stop-opacity="1"/><stop offset="0.853" stop-color="#000000" stop-opacity="1"/><stop offset="0.941" stop-color="#000000" stop-opacity="0.6"/><stop offset="1.000" stop-color="#000000" stop-opacity="0"/></linearGradient><linearGradient id="tg65" gradientUnits="userSpaceOnUse" x1="166" y1="0" x2="216" y2="0"><stop offset="0.000" stop-color="#ffffff" stop-opacity="0"/><stop offset="0.120" stop-color="#ffffff" stop-opacity="0.2"/><stop offset="0.240" stop-color="#ffffff" stop-opacity="0.3"/><stop offset="0.340" stop-color="#ffffff" stop-opacity="0.42"/><stop offset="0.420" stop-color="#ffffff" stop-opacity="0.62"/><stop offset="0.500" stop-color="#ffffff" stop-opacity="0.9"/><stop offset="0.560" stop-color="#ffffff" stop-opacity="1"/><stop offset="0.820" stop-color="#ffffff" stop-opacity="1"/><stop offset="0.900" stop-color="#ffffff" stop-opacity="0.65"/><stop offset="1.000" stop-color="#ffffff" stop-opacity="0.42"/></linearGradient><linearGradient id="tg66" gradientUnits="userSpaceOnUse" x1="212" y1="0" x2="259" y2="0"><stop offset="0.000" stop-color="#ffffff" stop-opacity="0.42"/><stop offset="0.277" stop-color="#ffffff" stop-opacity="0.42"/><stop offset="0.596" stop-color="#ffffff" stop-opacity="0.38"/><stop offset="0.702" stop-color="#ffffff" stop-opacity="0.52"/><stop offset="0.830" stop-color="#ffffff" stop-opacity="0.52"/><stop offset="0.936" stop-color="#ffffff" stop-opacity="0.38"/><stop offset="1.000" stop-color="#ffffff" stop-opacity="0.38"/></linearGradient><linearGradient id="tg67" gradientUnits="userSpaceOnUse" x1="202" y1="0" x2="222" y2="0"><stop offset="0.000" stop-color="#000000" stop-opacity="0"/><stop offset="0.150" stop-color="#000000" stop-opacity="0.9"/><stop offset="0.750" stop-color="#000000" stop-opacity="0.95"/><stop offset="1.000" stop-color="#000000" stop-opacity="0"/></linearGradient><linearGradient id="tg68" gradientUnits="userSpaceOnUse" x1="203" y1="0" x2="223" y2="0"><stop offset="0.000" stop-color="#ffffff" stop-opacity="0"/><stop offset="0.150" stop-color="#ffffff" stop-opacity="0.8"/><stop offset="0.700" stop-color="#ffffff" stop-opacity="0.85"/><stop offset="1.000" stop-color="#ffffff" stop-opacity="0"/></linearGradient><linearGradient id="tg69" gradientUnits="userSpaceOnUse" x1="203" y1="0" x2="228" y2="0"><stop offset="0.000" stop-color="#000000" stop-opacity="0"/><stop offset="0.120" stop-color="#000000" stop-opacity="0.85"/><stop offset="0.640" stop-color="#000000" stop-opacity="0.9"/><stop offset="0.800" stop-color="#000000" stop-opacity="0.35"/><stop offset="1.000" stop-color="#000000" stop-opacity="0"/></linearGradient><linearGradient id="tg70" gradientUnits="userSpaceOnUse" x1="200" y1="0" x2="218" y2="0"><stop offset="0.000" stop-color="#b7b7b7" stop-opacity="0"/><stop offset="0.167" stop-color="#b7b7b7" stop-opacity="0.9"/><stop offset="0.778" stop-color="#b7b7b7" stop-opacity="0.9"/><stop offset="1.000" stop-color="#b7b7b7" stop-opacity="0"/></linearGradient><linearGradient id="tg71" gradientUnits="userSpaceOnUse" x1="207" y1="0" x2="216" y2="0"><stop offset="0.000" stop-color="#e7e7e7" stop-opacity="0"/><stop offset="0.278" stop-color="#e7e7e7" stop-opacity="1"/><stop offset="0.722" stop-color="#e7e7e7" stop-opacity="1"/><stop offset="1.000" stop-color="#e7e7e7" stop-opacity="0"/></linearGradient><linearGradient id="tg72" gradientUnits="userSpaceOnUse" x1="206" y1="0" x2="215" y2="0"><stop offset="0.000" stop-color="#333333" stop-opacity="0"/><stop offset="0.278" stop-color="#333333" stop-opacity="1"/><stop offset="0.722" stop-color="#333333" stop-opacity="1"/><stop offset="1.000" stop-color="#333333" stop-opacity="0"/></linearGradient><linearGradient id="tg73" gradientUnits="userSpaceOnUse" x1="249" y1="0" x2="258" y2="0"><stop offset="0.000" stop-color="#1f1f1f" stop-opacity="0"/><stop offset="0.278" stop-color="#1f1f1f" stop-opacity="1"/><stop offset="1.000" stop-color="#1f1f1f" stop-opacity="1"/></linearGradient><linearGradient id="tg74" gradientUnits="userSpaceOnUse" x1="248" y1="0" x2="258" y2="0"><stop offset="0.000" stop-color="#e0e0e0" stop-opacity="0"/><stop offset="0.300" stop-color="#e0e0e0" stop-opacity="1"/><stop offset="1.000" stop-color="#e0e0e0" stop-opacity="1"/></linearGradient><linearGradient id="tg75" gradientUnits="userSpaceOnUse" x1="250" y1="0" x2="258" y2="0"><stop offset="0.000" stop-color="#d9d9d9" stop-opacity="0"/><stop offset="0.375" stop-color="#d9d9d9" stop-opacity="1"/><stop offset="1.000" stop-color="#d9d9d9" stop-opacity="1"/></linearGradient><linearGradient id="tg76" gradientUnits="userSpaceOnUse" x1="232" y1="0" x2="246" y2="0"><stop offset="0.000" stop-color="#5d5d5d" stop-opacity="0"/><stop offset="0.286" stop-color="#5d5d5d" stop-opacity="0.8"/><stop offset="0.714" stop-color="#5d5d5d" stop-opacity="0.8"/><stop offset="1.000" stop-color="#5d5d5d" stop-opacity="0"/></linearGradient><linearGradient id="tg77" gradientUnits="userSpaceOnUse" x1="153" y1="0" x2="168" y2="0"><stop offset="0.000" stop-color="#e7e7e7" stop-opacity="0.6"/><stop offset="0.200" stop-color="#e7e7e7" stop-opacity="1"/><stop offset="0.667" stop-color="#e7e7e7" stop-opacity="1"/><stop offset="1.000" stop-color="#e7e7e7" stop-opacity="0"/></linearGradient><linearGradient id="tg78" gradientUnits="userSpaceOnUse" x1="164" y1="0" x2="178" y2="0"><stop offset="0.000" stop-color="#b3b3b3" stop-opacity="0"/><stop offset="0.214" stop-color="#b3b3b3" stop-opacity="0.9"/><stop offset="0.714" stop-color="#b3b3b3" stop-opacity="0.9"/><stop offset="1.000" stop-color="#b3b3b3" stop-opacity="0"/></linearGradient><linearGradient id="tg79" gradientUnits="userSpaceOnUse" x1="178" y1="0" x2="190" y2="0"><stop offset="0.000" stop-color="#000000" stop-opacity="0"/><stop offset="0.208" stop-color="#000000" stop-opacity="0.9"/><stop offset="0.750" stop-color="#000000" stop-opacity="0.9"/><stop offset="1.000" stop-color="#000000" stop-opacity="0"/></linearGradient><linearGradient id="tg80" gradientUnits="userSpaceOnUse" x1="179" y1="0" x2="214" y2="0"><stop offset="0.000" stop-color="#ffffff" stop-opacity="0"/><stop offset="0.086" stop-color="#ffffff" stop-opacity="0.55"/><stop offset="0.314" stop-color="#ffffff" stop-opacity="0.6"/><stop offset="0.486" stop-color="#ffffff" stop-opacity="0.7"/><stop offset="0.714" stop-color="#ffffff" stop-opacity="0.7"/><stop offset="0.857" stop-color="#ffffff" stop-opacity="0.4"/><stop offset="1.000" stop-color="#ffffff" stop-opacity="0"/></linearGradient><linearGradient id="tg81" gradientUnits="userSpaceOnUse" x1="194" y1="0" x2="216" y2="0"><stop offset="0.000" stop-color="#535353" stop-opacity="0"/><stop offset="0.182" stop-color="#535353" stop-opacity="0.8"/><stop offset="0.818" stop-color="#535353" stop-opacity="0.8"/><stop offset="1.000" stop-color="#535353" stop-opacity="0"/></linearGradient><linearGradient id="tg82" gradientUnits="userSpaceOnUse" x1="199" y1="0" x2="216" y2="0"><stop offset="0.000" stop-color="#565656" stop-opacity="0"/><stop offset="0.235" stop-color="#565656" stop-opacity="0.8"/><stop offset="0.765" stop-color="#565656" stop-opacity="0.8"/><stop offset="1.000" stop-color="#565656" stop-opacity="0"/></linearGradient><linearGradient id="tg83" gradientUnits="userSpaceOnUse" x1="220" y1="0" x2="226" y2="0"><stop offset="0.000" stop-color="#0d0d0d" stop-opacity="0"/><stop offset="0.250" stop-color="#0d0d0d" stop-opacity="0.9"/><stop offset="0.750" stop-color="#0d0d0d" stop-opacity="0.9"/><stop offset="1.000" stop-color="#0d0d0d" stop-opacity="0"/></linearGradient><clipPath id="cp7"><rect x="293.2" y="30.4" width="102.60000000000002" height="63.4"/></clipPath><filter id="jf7" filterUnits="userSpaceOnUse" x="292.2" y="29.4" width="104.60000000000002" height="65.4" color-interpolation-filters="sRGB">
<feTurbulence type="fractalNoise" baseFrequency="0.09 0.12" numOctaves="2" seed="5" result="n"/>
<feColorMatrix in="n" type="matrix" values="0.2 0 0 0 0.4  0.2 0 0 0 0.4  0.2 0 0 0 0.4  0 0 0 0 1" result="ng"/>
<feComposite in="SourceGraphic" in2="ng" operator="arithmetic" k1="0" k2="1" k3="1" k4="-0.5" result="s"/>
<feComponentTransfer in="s">
<feFuncR type="table" tableValues="0 0 0 0 0.5 1 1 1 0.5"/>
<feFuncG type="table" tableValues="0 0 0.5 1 1 1 0.5 0 0"/>
<feFuncB type="table" tableValues="0.5 1 1 1 0.5 0 0 0 0"/>
<feFuncA type="linear" slope="0" intercept="1"/>
</feComponentTransfer><feColorMatrix type="saturate" values="1.55"/></filter><linearGradient id="tg84" gradientUnits="userSpaceOnUse" x1="328" y1="0" x2="397" y2="0"><stop offset="0.000" stop-color="#6e6e6e" stop-opacity="0"/><stop offset="0.087" stop-color="#6e6e6e" stop-opacity="0.9"/><stop offset="1.000" stop-color="#6e6e6e" stop-opacity="0.9"/></linearGradient><linearGradient id="tg85" gradientUnits="userSpaceOnUse" x1="328" y1="0" x2="390" y2="0"><stop offset="0.000" stop-color="#9e9e9e" stop-opacity="0"/><stop offset="0.097" stop-color="#9e9e9e" stop-opacity="0.8"/><stop offset="0.355" stop-color="#9e9e9e" stop-opacity="1"/><stop offset="0.645" stop-color="#9e9e9e" stop-opacity="0.8"/><stop offset="0.903" stop-color="#9e9e9e" stop-opacity="0.6"/><stop offset="1.000" stop-color="#9e9e9e" stop-opacity="0"/></linearGradient><linearGradient id="tg86" gradientUnits="userSpaceOnUse" x1="294" y1="0" x2="350" y2="0"><stop offset="0.000" stop-color="#b7b7b7" stop-opacity="0"/><stop offset="0.071" stop-color="#b7b7b7" stop-opacity="0.9"/><stop offset="0.214" stop-color="#b7b7b7" stop-opacity="1"/><stop offset="0.643" stop-color="#b7b7b7" stop-opacity="0.9"/><stop offset="0.929" stop-color="#b7b7b7" stop-opacity="0.8"/><stop offset="1.000" stop-color="#b7b7b7" stop-opacity="0"/></linearGradient><linearGradient id="tg87" gradientUnits="userSpaceOnUse" x1="304" y1="0" x2="326" y2="0"><stop offset="0.000" stop-color="#cbcbcb" stop-opacity="0"/><stop offset="0.273" stop-color="#cbcbcb" stop-opacity="1"/><stop offset="0.636" stop-color="#cbcbcb" stop-opacity="1"/><stop offset="1.000" stop-color="#cbcbcb" stop-opacity="0"/></linearGradient><linearGradient id="tg88" gradientUnits="userSpaceOnUse" x1="300" y1="0" x2="329" y2="0"><stop offset="0.000" stop-color="#646464" stop-opacity="0"/><stop offset="0.138" stop-color="#646464" stop-opacity="0.9"/><stop offset="0.828" stop-color="#646464" stop-opacity="0.9"/><stop offset="1.000" stop-color="#646464" stop-opacity="0"/></linearGradient><linearGradient id="tg89" gradientUnits="userSpaceOnUse" x1="338" y1="0" x2="349" y2="0"><stop offset="0.000" stop-color="#676767" stop-opacity="0"/><stop offset="0.273" stop-color="#676767" stop-opacity="0.9"/><stop offset="0.727" stop-color="#676767" stop-opacity="0.9"/><stop offset="1.000" stop-color="#676767" stop-opacity="0"/></linearGradient><linearGradient id="tg90" gradientUnits="userSpaceOnUse" x1="295" y1="0" x2="334" y2="0"><stop offset="0.000" stop-color="#6b6b6b" stop-opacity="0"/><stop offset="0.103" stop-color="#6b6b6b" stop-opacity="0.8"/><stop offset="0.436" stop-color="#6b6b6b" stop-opacity="0.5"/><stop offset="0.590" stop-color="#6b6b6b" stop-opacity="0.9"/><stop offset="0.872" stop-color="#6b6b6b" stop-opacity="0.9"/><stop offset="1.000" stop-color="#6b6b6b" stop-opacity="0"/></linearGradient><linearGradient id="tg91" gradientUnits="userSpaceOnUse" x1="367" y1="0" x2="388" y2="0"><stop offset="0.000" stop-color="#a2a2a2" stop-opacity="0"/><stop offset="0.190" stop-color="#a2a2a2" stop-opacity="0.9"/><stop offset="0.714" stop-color="#a2a2a2" stop-opacity="0.7"/><stop offset="1.000" stop-color="#a2a2a2" stop-opacity="0"/></linearGradient><clipPath id="cp8"><rect x="293.2" y="114.7" width="102.60000000000002" height="63.3"/></clipPath><filter id="jf8" filterUnits="userSpaceOnUse" x="292.2" y="113.7" width="104.60000000000002" height="65.3" color-interpolation-filters="sRGB">
<feTurbulence type="fractalNoise" baseFrequency="0.1 0.13" numOctaves="2" seed="8" result="n"/>
<feColorMatrix in="n" type="matrix" values="0.36 0 0 0 0.32  0.36 0 0 0 0.32  0.36 0 0 0 0.32  0 0 0 0 1" result="ng"/>
<feComposite in="SourceGraphic" in2="ng" operator="arithmetic" k1="0" k2="1" k3="1" k4="-0.5" result="s"/>
<feComponentTransfer in="s">
<feFuncR type="table" tableValues="0 0 0 0 0.5 1 1 1 0.5"/>
<feFuncG type="table" tableValues="0 0 0.5 1 1 1 0.5 0 0"/>
<feFuncB type="table" tableValues="0.5 1 1 1 0.5 0 0 0 0"/>
<feFuncA type="linear" slope="0" intercept="1"/>
</feComponentTransfer><feColorMatrix type="saturate" values="1.55"/></filter><linearGradient id="tg92" gradientUnits="userSpaceOnUse" x1="314.6" y1="130.6" x2="322.6" y2="115.4"><stop offset="0.000" stop-color="#e6e6e6" stop-opacity="0"/><stop offset="0.120" stop-color="#e6e6e6" stop-opacity="0.5"/><stop offset="0.300" stop-color="#e6e6e6" stop-opacity="1"/><stop offset="0.600" stop-color="#e6e6e6" stop-opacity="1"/><stop offset="0.780" stop-color="#e6e6e6" stop-opacity="0.5"/><stop offset="1.000" stop-color="#e6e6e6" stop-opacity="0.25"/></linearGradient><linearGradient id="tg93" gradientUnits="userSpaceOnUse" x1="315.4" y1="135.8" x2="326.4" y2="114.8"><stop offset="0.000" stop-color="#141414" stop-opacity="0.2"/><stop offset="0.150" stop-color="#141414" stop-opacity="0.45"/><stop offset="0.300" stop-color="#141414" stop-opacity="1"/><stop offset="0.600" stop-color="#141414" stop-opacity="1"/><stop offset="0.720" stop-color="#141414" stop-opacity="0.5"/><stop offset="1.000" stop-color="#141414" stop-opacity="0.3"/></linearGradient><linearGradient id="tg94" gradientUnits="userSpaceOnUse" x1="326.3" y1="143.8" x2="339.8" y2="129.4"><stop offset="0.000" stop-color="#adadad" stop-opacity="0"/><stop offset="0.200" stop-color="#adadad" stop-opacity="0.9"/><stop offset="0.800" stop-color="#adadad" stop-opacity="0.9"/><stop offset="1.000" stop-color="#adadad" stop-opacity="0"/></linearGradient><linearGradient id="tg95" gradientUnits="userSpaceOnUse" x1="326.2" y1="149.2" x2="343.4" y2="131.2"><stop offset="0.000" stop-color="#e6e6e6" stop-opacity="0"/><stop offset="0.100" stop-color="#e6e6e6" stop-opacity="0.6"/><stop offset="0.200" stop-color="#e6e6e6" stop-opacity="1"/><stop offset="0.850" stop-color="#e6e6e6" stop-opacity="1"/><stop offset="1.000" stop-color="#e6e6e6" stop-opacity="0.3"/></linearGradient><linearGradient id="tg96" gradientUnits="userSpaceOnUse" x1="327.2" y1="154.2" x2="347.4" y2="133.4"><stop offset="0.000" stop-color="#0f0f0f" stop-opacity="0"/><stop offset="0.100" stop-color="#0f0f0f" stop-opacity="0.3"/><stop offset="0.220" stop-color="#0f0f0f" stop-opacity="1"/><stop offset="0.900" stop-color="#0f0f0f" stop-opacity="1"/><stop offset="1.000" stop-color="#0f0f0f" stop-opacity="0.3"/></linearGradient><linearGradient id="tg97" gradientUnits="userSpaceOnUse" x1="328.8" y1="156.8" x2="349.0" y2="136.8"><stop offset="0.000" stop-color="#cccccc" stop-opacity="0"/><stop offset="0.080" stop-color="#cccccc" stop-opacity="0.9"/><stop offset="0.200" stop-color="#cccccc" stop-opacity="1"/><stop offset="0.850" stop-color="#cccccc" stop-opacity="0.9"/><stop offset="1.000" stop-color="#cccccc" stop-opacity="0"/></linearGradient><linearGradient id="tg98" gradientUnits="userSpaceOnUse" x1="354.0" y1="130.1" x2="375" y2="140.3"><stop offset="0.000" stop-color="#d6d6d6" stop-opacity="0"/><stop offset="0.120" stop-color="#d6d6d6" stop-opacity="0.9"/><stop offset="0.800" stop-color="#d6d6d6" stop-opacity="0.9"/><stop offset="1.000" stop-color="#d6d6d6" stop-opacity="0"/></linearGradient><linearGradient id="tg99" gradientUnits="userSpaceOnUse" x1="352.4" y1="133.4" x2="377" y2="145.2"><stop offset="0.000" stop-color="#0d0d0d" stop-opacity="0"/><stop offset="0.100" stop-color="#0d0d0d" stop-opacity="1"/><stop offset="0.500" stop-color="#0d0d0d" stop-opacity="0.9"/><stop offset="0.800" stop-color="#0d0d0d" stop-opacity="0.6"/><stop offset="1.000" stop-color="#0d0d0d" stop-opacity="0.2"/></linearGradient><linearGradient id="tg100" gradientUnits="userSpaceOnUse" x1="351" y1="136.6" x2="367" y2="144.6"><stop offset="0.000" stop-color="#a3a3a3" stop-opacity="0"/><stop offset="0.150" stop-color="#a3a3a3" stop-opacity="0.9"/><stop offset="0.850" stop-color="#a3a3a3" stop-opacity="0.9"/><stop offset="1.000" stop-color="#a3a3a3" stop-opacity="0"/></linearGradient><clipPath id="cp9"><rect x="293.2" y="202.7" width="102.60000000000002" height="63.69999999999999"/></clipPath><filter id="jf9" filterUnits="userSpaceOnUse" x="292.2" y="201.7" width="104.60000000000002" height="65.69999999999999" color-interpolation-filters="sRGB">
<feTurbulence type="fractalNoise" baseFrequency="0.08 0.1" numOctaves="2" seed="15" result="n"/>
<feColorMatrix in="n" type="matrix" values="0.2 0 0 0 0.4  0.2 0 0 0 0.4  0.2 0 0 0 0.4  0 0 0 0 1" result="ng"/>
<feComposite in="SourceGraphic" in2="ng" operator="arithmetic" k1="0" k2="1" k3="1" k4="-0.5" result="s"/>
<feComponentTransfer in="s">
<feFuncR type="table" tableValues="0 0 0 0 0.5 1 1 1 0.5"/>
<feFuncG type="table" tableValues="0 0 0.5 1 1 1 0.5 0 0"/>
<feFuncB type="table" tableValues="0.5 1 1 1 0.5 0 0 0 0"/>
<feFuncA type="linear" slope="0" intercept="1"/>
</feComponentTransfer><feColorMatrix type="saturate" values="1.55"/></filter><linearGradient id="gk" x1="0" y1="1" x2="1" y2="0"><stop offset="0" stop-color="#777777"/><stop offset="0.5" stop-color="#6e6e6e"/><stop offset="1" stop-color="#5c5c5c"/></linearGradient><linearGradient id="tg101" gradientUnits="userSpaceOnUse" x1="320" y1="247.2" x2="335" y2="247.6"><stop offset="0.000" stop-color="#1a1a1a" stop-opacity="0"/><stop offset="0.150" stop-color="#1a1a1a" stop-opacity="1"/><stop offset="0.850" stop-color="#1a1a1a" stop-opacity="1"/><stop offset="1.000" stop-color="#1a1a1a" stop-opacity="0"/></linearGradient><linearGradient id="tg102" gradientUnits="userSpaceOnUse" x1="353.0" y1="211.2" x2="346.4" y2="220.6"><stop offset="0.000" stop-color="#0d0d0d" stop-opacity="0"/><stop offset="0.200" stop-color="#0d0d0d" stop-opacity="1"/><stop offset="0.800" stop-color="#0d0d0d" stop-opacity="1"/><stop offset="1.000" stop-color="#0d0d0d" stop-opacity="0.5"/></linearGradient><clipPath id="cp10"><rect x="427.6" y="30.4" width="99.0" height="63.4"/></clipPath><filter id="jf10" filterUnits="userSpaceOnUse" x="426.6" y="29.4" width="101.0" height="65.4" color-interpolation-filters="sRGB">
<feTurbulence type="fractalNoise" baseFrequency="0.2 0.25" numOctaves="2" seed="2" result="n"/>
<feColorMatrix in="n" type="matrix" values="0.035 0 0 0 0.4825  0.035 0 0 0 0.4825  0.035 0 0 0 0.4825  0 0 0 0 1" result="ng"/>
<feComposite in="SourceGraphic" in2="ng" operator="arithmetic" k1="0" k2="1" k3="1" k4="-0.5" result="s"/>
<feComponentTransfer in="s">
<feFuncR type="table" tableValues="0 0 0 0 0.5 1 1 1 0.5"/>
<feFuncG type="table" tableValues="0 0 0.5 1 1 1 0.5 0 0"/>
<feFuncB type="table" tableValues="0.5 1 1 1 0.5 0 0 0 0"/>
<feFuncA type="linear" slope="0" intercept="1"/>
</feComponentTransfer><feColorMatrix type="saturate" values="1.55"/></filter><linearGradient id="tg103" gradientUnits="userSpaceOnUse" x1="427" y1="0" x2="445" y2="0"><stop offset="0.000" stop-color="#6b6b6b" stop-opacity="0.9"/><stop offset="0.722" stop-color="#6b6b6b" stop-opacity="0.9"/><stop offset="1.000" stop-color="#6b6b6b" stop-opacity="0"/></linearGradient><clipPath id="cp11"><rect x="427.6" y="114.7" width="102.19999999999993" height="63.3"/></clipPath><filter id="jf11" filterUnits="userSpaceOnUse" x="426.6" y="113.7" width="104.19999999999993" height="65.3" color-interpolation-filters="sRGB">
<feTurbulence type="fractalNoise" baseFrequency="0.15 0.2" numOctaves="2" seed="3" result="n"/>
<feColorMatrix in="n" type="matrix" values="0.03 0 0 0 0.485  0.03 0 0 0 0.485  0.03 0 0 0 0.485  0 0 0 0 1" result="ng"/>
<feComposite in="SourceGraphic" in2="ng" operator="arithmetic" k1="0" k2="1" k3="1" k4="-0.5" result="s"/>
<feComponentTransfer in="s">
<feFuncR type="table" tableValues="0 0 0 0 0.5 1 1 1 0.5"/>
<feFuncG type="table" tableValues="0 0 0.5 1 1 1 0.5 0 0"/>
<feFuncB type="table" tableValues="0.5 1 1 1 0.5 0 0 0 0"/>
<feFuncA type="linear" slope="0" intercept="1"/>
</feComponentTransfer><feColorMatrix type="saturate" values="1.55"/></filter><linearGradient id="tg104" gradientUnits="userSpaceOnUse" x1="450.0" y1="129.3" x2="457.6" y2="116.6"><stop offset="0.000" stop-color="#f2f2f2" stop-opacity="0"/><stop offset="0.100" stop-color="#f2f2f2" stop-opacity="0.45"/><stop offset="0.200" stop-color="#f2f2f2" stop-opacity="1"/><stop offset="0.520" stop-color="#f2f2f2" stop-opacity="1"/><stop offset="0.640" stop-color="#f2f2f2" stop-opacity="0.6"/><stop offset="0.780" stop-color="#f2f2f2" stop-opacity="0.35"/><stop offset="1.000" stop-color="#f2f2f2" stop-opacity="0"/></linearGradient><linearGradient id="tg105" gradientUnits="userSpaceOnUse" x1="451.6" y1="132.4" x2="460.2" y2="119.6"><stop offset="0.000" stop-color="#050505" stop-opacity="0"/><stop offset="0.120" stop-color="#050505" stop-opacity="0.6"/><stop offset="0.250" stop-color="#050505" stop-opacity="1"/><stop offset="0.500" stop-color="#050505" stop-opacity="0.95"/><stop offset="0.620" stop-color="#050505" stop-opacity="0.4"/><stop offset="0.850" stop-color="#050505" stop-opacity="0.2"/><stop offset="1.000" stop-color="#050505" stop-opacity="0"/></linearGradient><linearGradient id="tg106" gradientUnits="userSpaceOnUse" x1="463.0" y1="147.9" x2="473.6" y2="137.0"><stop offset="0.000" stop-color="#cccccc" stop-opacity="0"/><stop offset="0.100" stop-color="#cccccc" stop-opacity="0.4"/><stop offset="0.300" stop-color="#cccccc" stop-opacity="0.7"/><stop offset="0.600" stop-color="#cccccc" stop-opacity="0.9"/><stop offset="0.850" stop-color="#cccccc" stop-opacity="0.6"/><stop offset="1.000" stop-color="#cccccc" stop-opacity="0"/></linearGradient><linearGradient id="tg107" gradientUnits="userSpaceOnUse" x1="461.8" y1="152.0" x2="478.2" y2="136.3"><stop offset="0.000" stop-color="#000000" stop-opacity="0"/><stop offset="0.080" stop-color="#000000" stop-opacity="0.3"/><stop offset="0.220" stop-color="#000000" stop-opacity="0.8"/><stop offset="0.350" stop-color="#000000" stop-opacity="1"/><stop offset="0.800" stop-color="#000000" stop-opacity="1"/><stop offset="0.920" stop-color="#000000" stop-opacity="0.5"/><stop offset="1.000" stop-color="#000000" stop-opacity="0"/></linearGradient><linearGradient id="tg108" gradientUnits="userSpaceOnUse" x1="487.6" y1="132.8" x2="510" y2="145.3"><stop offset="0.000" stop-color="#000000" stop-opacity="0"/><stop offset="0.060" stop-color="#000000" stop-opacity="0.9"/><stop offset="0.250" stop-color="#000000" stop-opacity="0.9"/><stop offset="0.330" stop-color="#000000" stop-opacity="0.45"/><stop offset="0.420" stop-color="#000000" stop-opacity="0.6"/><stop offset="0.520" stop-color="#000000" stop-opacity="0.3"/><stop offset="0.700" stop-color="#000000" stop-opacity="0.22"/><stop offset="0.900" stop-color="#000000" stop-opacity="0.15"/><stop offset="1.000" stop-color="#000000" stop-opacity="0"/></linearGradient><clipPath id="cp12"><rect x="427.6" y="202.7" width="102.19999999999993" height="63.69999999999999"/></clipPath><filter id="jf12" filterUnits="userSpaceOnUse" x="426.6" y="201.7" width="104.19999999999993" height="65.69999999999999" color-interpolation-filters="sRGB">
<feTurbulence type="fractalNoise" baseFrequency="0.15 0.2" numOctaves="2" seed="6" result="n"/>
<feColorMatrix in="n" type="matrix" values="0.03 0 0 0 0.485  0.03 0 0 0 0.485  0.03 0 0 0 0.485  0 0 0 0 1" result="ng"/>
<feComposite in="SourceGraphic" in2="ng" operator="arithmetic" k1="0" k2="1" k3="1" k4="-0.5" result="s"/>
<feComponentTransfer in="s">
<feFuncR type="table" tableValues="0 0 0 0 0.5 1 1 1 0.5"/>
<feFuncG type="table" tableValues="0 0 0.5 1 1 1 0.5 0 0"/>
<feFuncB type="table" tableValues="0.5 1 1 1 0.5 0 0 0 0"/>
<feFuncA type="linear" slope="0" intercept="1"/>
</feComponentTransfer><feColorMatrix type="saturate" values="1.55"/></filter></defs><rect width="550" height="283" fill="#fff"/><text x="70.8" y="10.2" font-size="8.6" text-anchor="middle" font-family="Liberation Serif, serif" font-weight="normal" fill="#000" stroke="#000" stroke-width="0.3">Model</text>
<text x="207.9" y="10.2" font-size="8.6" text-anchor="middle" font-family="Liberation Serif, serif" font-weight="normal" fill="#000" stroke="#000" stroke-width="0.3">Waveforms</text>
<text x="340.3" y="10.2" font-size="8.6" text-anchor="middle" font-family="Liberation Serif, serif" font-weight="normal" fill="#000" stroke="#000" stroke-width="0.3">BP Imaging</text>
<text x="479.0" y="10.2" font-size="8.6" text-anchor="middle" font-family="Liberation Serif, serif" font-weight="normal" fill="#000" stroke="#000" stroke-width="0.3">Extracted target</text>
<g clip-path="url(#cp1)">
<rect x="20.2" y="30.4" width="102.3" height="63.4" fill="#ffc71a"/>
<rect x="20.2" y="30.4" width="102.3" height="63.4" fill="url(#ga)"/>
<rect x="20.2" y="30.4" width="102.3" height="63.4" filter="url(#nzY)" opacity="0.8"/>
<rect x="20.2" y="30.4" width="102.3" height="63.4" filter="url(#nzO)" opacity="0.8"/>
<path d="M20.00 78.20 C20.67 77.93 22.33 77.13 24.00 76.60 C25.67 76.07 28.17 75.10 30.00 75.00 C31.83 74.90 33.17 75.63 35.00 76.00 C36.83 76.37 38.75 77.12 41.00 77.20 C43.25 77.28 45.97 76.30 48.50 76.50 C51.03 76.70 53.95 78.28 56.20 78.40 C58.45 78.52 60.30 77.52 62.00 77.20 C63.70 76.88 64.82 76.87 66.40 76.50 C67.98 76.13 69.90 75.00 71.50 75.00 C73.10 75.00 74.58 76.12 76.00 76.50 C77.42 76.88 78.33 77.13 80.00 77.30 C81.67 77.47 83.65 77.67 86.00 77.50 C88.35 77.33 92.10 76.63 94.10 76.30 C96.10 75.97 96.47 75.35 98.00 75.50 C99.53 75.65 101.57 77.12 103.30 77.20 C105.03 77.28 106.50 76.00 108.40 76.00 C110.30 76.00 112.80 77.28 114.70 77.20 C116.60 77.12 118.42 75.70 119.80 75.50 C121.18 75.30 122.47 75.92 123.00 76.00" fill="none" stroke="#ff8410" stroke-width="2.2" stroke-opacity="0.75" filter="url(#b1)"/>
<path d="M20.00 78.20 C20.67 77.93 22.33 77.13 24.00 76.60 C25.67 76.07 28.17 75.10 30.00 75.00 C31.83 74.90 33.17 75.63 35.00 76.00 C36.83 76.37 38.75 77.12 41.00 77.20 C43.25 77.28 45.97 76.30 48.50 76.50 C51.03 76.70 53.95 78.28 56.20 78.40 C58.45 78.52 60.30 77.52 62.00 77.20 C63.70 76.88 64.82 76.87 66.40 76.50 C67.98 76.13 69.90 75.00 71.50 75.00 C73.10 75.00 74.58 76.12 76.00 76.50 C77.42 76.88 78.33 77.13 80.00 77.30 C81.67 77.47 83.65 77.67 86.00 77.50 C88.35 77.33 92.10 76.63 94.10 76.30 C96.10 75.97 96.47 75.35 98.00 75.50 C99.53 75.65 101.57 77.12 103.30 77.20 C105.03 77.28 106.50 76.00 108.40 76.00 C110.30 76.00 112.80 77.28 114.70 77.20 C116.60 77.12 118.42 75.70 119.80 75.50 C121.18 75.30 122.47 75.92 123.00 76.00 L123.5 94.8 L19.2 94.8 Z" fill="#f81014"/>
<path d="M38.7 57.2 L42.3 53.6 L44 52.9 L47.2 52.9 L49.2 55.4 L48.6 57 L45 59.6 L41.2 60.8 L39.2 60.2 Z" fill="#0c0c92"/>
<path d="M77.6 76.6 L81.5 74.2 L89.5 74.0 L94.2 76.2 L91 77.6 L86.5 78.6 L82 77.6 Z" fill="#0c0c92"/>
</g>
<rect x="20.2" y="30.4" width="102.3" height="63.4" fill="none" stroke="#333" stroke-width="0.25" stroke-opacity="0.6"/>
<g clip-path="url(#cp2)">
<rect x="20.2" y="114.7" width="102.3" height="63.3" fill="#ffc21a"/>
<rect x="20.2" y="114.7" width="102.3" height="63.3" fill="url(#ge)"/>
<rect x="20.2" y="114.7" width="102.3" height="63.3" filter="url(#nzY)" opacity="0.8"/>
<rect x="20.2" y="114.7" width="102.3" height="63.3" filter="url(#nzO)" opacity="0.8"/>
<path d="M20.00 161.50 C20.67 161.32 22.63 160.72 24.00 160.40 C25.37 160.08 26.45 159.62 28.20 159.60 C29.95 159.58 32.38 159.87 34.50 160.30 C36.62 160.73 38.77 162.10 40.90 162.20 C43.03 162.30 44.97 160.83 47.30 160.90 C49.63 160.97 52.37 162.53 54.90 162.60 C57.43 162.67 60.48 161.73 62.50 161.30 C64.52 160.87 65.62 160.33 67.00 160.00 C68.38 159.67 69.55 159.30 70.80 159.30 C72.05 159.30 73.33 159.73 74.50 160.00 C75.67 160.27 76.18 160.53 77.80 160.90 C79.42 161.27 82.72 161.98 84.20 162.20 C85.68 162.42 85.57 162.40 86.70 162.20 C87.83 162.00 89.52 161.32 91.00 161.00 C92.48 160.68 94.27 160.43 95.60 160.30 C96.93 160.17 97.72 160.17 99.00 160.20 C100.28 160.23 101.32 160.32 103.30 160.50 C105.28 160.68 109.12 161.22 110.90 161.30 C112.68 161.38 112.93 161.17 114.00 161.00 C115.07 160.83 115.80 160.47 117.30 160.30 C118.80 160.13 122.05 160.05 123.00 160.00" fill="none" stroke="#ff8410" stroke-width="2.2" stroke-opacity="0.75" filter="url(#b1)"/>
<path d="M20.00 161.50 C20.67 161.32 22.63 160.72 24.00 160.40 C25.37 160.08 26.45 159.62 28.20 159.60 C29.95 159.58 32.38 159.87 34.50 160.30 C36.62 160.73 38.77 162.10 40.90 162.20 C43.03 162.30 44.97 160.83 47.30 160.90 C49.63 160.97 52.37 162.53 54.90 162.60 C57.43 162.67 60.48 161.73 62.50 161.30 C64.52 160.87 65.62 160.33 67.00 160.00 C68.38 159.67 69.55 159.30 70.80 159.30 C72.05 159.30 73.33 159.73 74.50 160.00 C75.67 160.27 76.18 160.53 77.80 160.90 C79.42 161.27 82.72 161.98 84.20 162.20 C85.68 162.42 85.57 162.40 86.70 162.20 C87.83 162.00 89.52 161.32 91.00 161.00 C92.48 160.68 94.27 160.43 95.60 160.30 C96.93 160.17 97.72 160.17 99.00 160.20 C100.28 160.23 101.32 160.32 103.30 160.50 C105.28 160.68 109.12 161.22 110.90 161.30 C112.68 161.38 112.93 161.17 114.00 161.00 C115.07 160.83 115.80 160.47 117.30 160.30 C118.80 160.13 122.05 160.05 123.00 160.00 L123.5 179.0 L19.2 179.0 Z" fill="url(#gre)"/>
<g clip-path="url(#rr2)"><rect x="20.2" y="154.7" width="102.3" height="23.299999999999997" filter="url(#nzD)" opacity="0.7"/><rect x="20.2" y="154.7" width="102.3" height="23.299999999999997" filter="url(#nzR)" opacity="0.5"/></g>
<path d="M43.80 126.80 C43.42 127.42 42.38 129.13 41.50 130.50 C40.62 131.87 39.38 133.58 38.50 135.00 C37.62 136.42 37.03 137.63 36.20 139.00 C35.37 140.37 34.33 141.77 33.50 143.20 C32.67 144.63 31.58 146.87 31.20 147.60" fill="none" stroke="#1a1a92" stroke-width="1.1" stroke-opacity="1" stroke-linecap="round" stroke-linejoin="round"/>
<path d="M68.80 134.40 C68.63 134.92 68.43 136.48 67.80 137.50 C67.17 138.52 65.88 139.42 65.00 140.50 C64.12 141.58 63.33 142.83 62.50 144.00 C61.67 145.17 60.72 146.42 60.00 147.50 C59.28 148.58 58.78 149.58 58.20 150.50 C57.62 151.42 56.78 152.58 56.50 153.00" fill="none" stroke="#1a1a92" stroke-width="1.1" stroke-opacity="1" stroke-linecap="round" stroke-linejoin="round"/>
<path d="M82.80 133.30 C83.33 133.62 84.80 134.38 86.00 135.20 C87.20 136.02 88.67 137.27 90.00 138.20 C91.33 139.13 92.75 139.93 94.00 140.80 C95.25 141.67 96.43 142.63 97.50 143.40 C98.57 144.17 99.92 145.07 100.40 145.40" fill="none" stroke="#1a1a92" stroke-width="1.1" stroke-opacity="1" stroke-linecap="round" stroke-linejoin="round"/>
</g>
<rect x="20.2" y="114.7" width="102.3" height="63.3" fill="none" stroke="#333" stroke-width="0.25" stroke-opacity="0.6"/>
<g clip-path="url(#cp3)">
<rect x="20.2" y="202.7" width="102.3" height="63.69999999999999" fill="#ffa616"/>
<rect x="20.2" y="202.7" width="102.3" height="63.69999999999999" fill="url(#gi)"/>
<rect x="20.2" y="202.7" width="102.3" height="63.69999999999999" filter="url(#nzY)" opacity="0.45"/>
<rect x="20.2" y="202.7" width="102.3" height="63.69999999999999" filter="url(#nzO)" opacity="0.8"/>
<path d="M20.00 249.20 C20.67 249.02 22.63 248.42 24.00 248.10 C25.37 247.78 26.45 247.32 28.20 247.30 C29.95 247.28 32.38 247.57 34.50 248.00 C36.62 248.43 38.77 249.80 40.90 249.90 C43.03 250.00 44.97 248.53 47.30 248.60 C49.63 248.67 52.37 250.23 54.90 250.30 C57.43 250.37 60.48 249.43 62.50 249.00 C64.52 248.57 65.62 248.03 67.00 247.70 C68.38 247.37 69.55 247.00 70.80 247.00 C72.05 247.00 73.33 247.43 74.50 247.70 C75.67 247.97 76.18 248.23 77.80 248.60 C79.42 248.97 82.72 249.68 84.20 249.90 C85.68 250.12 85.57 250.10 86.70 249.90 C87.83 249.70 89.52 249.02 91.00 248.70 C92.48 248.38 94.27 248.13 95.60 248.00 C96.93 247.87 97.72 247.87 99.00 247.90 C100.28 247.93 101.32 248.02 103.30 248.20 C105.28 248.38 109.12 248.92 110.90 249.00 C112.68 249.08 112.93 248.87 114.00 248.70 C115.07 248.53 115.80 248.17 117.30 248.00 C118.80 247.83 122.05 247.75 123.00 247.70" fill="none" stroke="#ff8410" stroke-width="2.2" stroke-opacity="0.75" filter="url(#b1)"/>
<path d="M20.00 249.20 C20.67 249.02 22.63 248.42 24.00 248.10 C25.37 247.78 26.45 247.32 28.20 247.30 C29.95 247.28 32.38 247.57 34.50 248.00 C36.62 248.43 38.77 249.80 40.90 249.90 C43.03 250.00 44.97 248.53 47.30 248.60 C49.63 248.67 52.37 250.23 54.90 250.30 C57.43 250.37 60.48 249.43 62.50 249.00 C64.52 248.57 65.62 248.03 67.00 247.70 C68.38 247.37 69.55 247.00 70.80 247.00 C72.05 247.00 73.33 247.43 74.50 247.70 C75.67 247.97 76.18 248.23 77.80 248.60 C79.42 248.97 82.72 249.68 84.20 249.90 C85.68 250.12 85.57 250.10 86.70 249.90 C87.83 249.70 89.52 249.02 91.00 248.70 C92.48 248.38 94.27 248.13 95.60 248.00 C96.93 247.87 97.72 247.87 99.00 247.90 C100.28 247.93 101.32 248.02 103.30 248.20 C105.28 248.38 109.12 248.92 110.90 249.00 C112.68 249.08 112.93 248.87 114.00 248.70 C115.07 248.53 115.80 248.17 117.30 248.00 C118.80 247.83 122.05 247.75 123.00 247.70 L123.5 267.4 L19.2 267.4 Z" fill="url(#gri)"/>
<g clip-path="url(#rr3)"><rect x="20.2" y="242.7" width="102.3" height="23.69999999999999" filter="url(#nzD)" opacity="0.7"/><rect x="20.2" y="242.7" width="102.3" height="23.69999999999999" filter="url(#nzR)" opacity="0.5"/></g>
<ellipse cx="68.5" cy="227" rx="7" ry="6" fill="#ffd040" fill-opacity="0.45" filter="url(#b4)"/>
<ellipse cx="70.7" cy="219.8" rx="1.2075" ry="1.26" fill="#14148e" fill-opacity="1"/>
<ellipse cx="68.1" cy="220.9" rx="0.9199999999999999" ry="0.96" fill="#14148e" fill-opacity="1"/>
<ellipse cx="65.2" cy="223.2" rx="1.035" ry="1.08" fill="#14148e" fill-opacity="1"/>
<ellipse cx="71.0" cy="224.0" rx="1.035" ry="1.08" fill="#14148e" fill-opacity="1"/>
<ellipse cx="68.4" cy="225.1" rx="0.8049999999999999" ry="0.84" fill="#14148e" fill-opacity="1"/>
<ellipse cx="73.7" cy="224.9" rx="0.9199999999999999" ry="0.96" fill="#14148e" fill-opacity="1"/>
<ellipse cx="63.6" cy="227.0" rx="0.8624999999999999" ry="0.8999999999999999" fill="#14148e" fill-opacity="1"/>
<ellipse cx="66.8" cy="228.8" rx="1.035" ry="1.08" fill="#14148e" fill-opacity="1"/>
<ellipse cx="71.1" cy="228.6" rx="0.9774999999999999" ry="1.02" fill="#14148e" fill-opacity="1"/>
<ellipse cx="64.7" cy="231.8" rx="1.2075" ry="1.26" fill="#14148e" fill-opacity="1"/>
<ellipse cx="70.0" cy="231.6" rx="0.9774999999999999" ry="1.02" fill="#14148e" fill-opacity="1"/>
<ellipse cx="74.6" cy="231.6" rx="1.035" ry="1.08" fill="#14148e" fill-opacity="1"/>
</g>
<rect x="20.2" y="202.7" width="102.3" height="63.69999999999999" fill="none" stroke="#333" stroke-width="0.25" stroke-opacity="0.6"/>
<text x="19.0" y="46.05" font-size="5.4" text-anchor="end" font-family="Liberation Serif, serif" font-weight="normal" fill="#2a2a2a" stroke="#2a2a2a" stroke-width="0">0.2</text>
<path d="M20.2 44.3 h1" stroke="#333" stroke-width="0.25"/>
<text x="19.0" y="59.95" font-size="5.4" text-anchor="end" font-family="Liberation Serif, serif" font-weight="normal" fill="#2a2a2a" stroke="#2a2a2a" stroke-width="0">0.4</text>
<path d="M20.2 58.2 h1" stroke="#333" stroke-width="0.25"/>
<text x="19.0" y="73.85" font-size="5.4" text-anchor="end" font-family="Liberation Serif, serif" font-weight="normal" fill="#2a2a2a" stroke="#2a2a2a" stroke-width="0">0.6</text>
<path d="M20.2 72.1 h1" stroke="#333" stroke-width="0.25"/>
<text x="19.0" y="87.75" font-size="5.4" text-anchor="end" font-family="Liberation Serif, serif" font-weight="normal" fill="#2a2a2a" stroke="#2a2a2a" stroke-width="0">0.8</text>
<path d="M20.2 86.0 h1" stroke="#333" stroke-width="0.25"/>
<text x="49.55" y="100.7" font-size="5.4" text-anchor="middle" font-family="Liberation Serif, serif" font-weight="normal" fill="#2a2a2a" stroke="#2a2a2a" stroke-width="0">0.5</text>
<path d="M49.55 93.8 v-1" stroke="#333" stroke-width="0.25"/>
<text x="79.9" y="100.7" font-size="5.4" text-anchor="middle" font-family="Liberation Serif, serif" font-weight="normal" fill="#2a2a2a" stroke="#2a2a2a" stroke-width="0">1</text>
<path d="M79.9 93.8 v-1" stroke="#333" stroke-width="0.25"/>
<text x="110.25000000000001" y="100.7" font-size="5.4" text-anchor="middle" font-family="Liberation Serif, serif" font-weight="normal" fill="#2a2a2a" stroke="#2a2a2a" stroke-width="0">1.5</text>
<path d="M110.25000000000001 93.8 v-1" stroke="#333" stroke-width="0.25"/>
<text x="71.4" y="106.89999999999999" font-size="5.6" text-anchor="middle" font-family="Liberation Serif, serif" font-weight="normal" fill="#111" stroke="#111" stroke-width="0.03">Y-Direction</text>
<text x="10.299999999999999" y="62.39999999999999" font-size="5.5" text-anchor="middle" font-family="Liberation Serif, serif" font-weight="normal" fill="#111" stroke="#111" stroke-width="0.03" transform="rotate(-90 10.299999999999999 62.39999999999999)">X-Direction</text>
<rect x="123.5" y="30.4" width="2.700000000000003" height="63.4" fill="url(#jetg)"/>
<rect x="123.5" y="30.4" width="2.700000000000003" height="63.4" fill="none" stroke="#333" stroke-width="0.2" stroke-opacity="0.6"/>
<text x="129.8" y="43.9" font-size="4.6" text-anchor="middle" font-family="Liberation Serif, serif" font-weight="normal" fill="#000" stroke="#000" stroke-width="0.12" transform="rotate(-90 129.8 43.9)">8</text>
<text x="129.8" y="58.4" font-size="4.6" text-anchor="middle" font-family="Liberation Serif, serif" font-weight="normal" fill="#000" stroke="#000" stroke-width="0.12" transform="rotate(-90 129.8 58.4)">6</text>
<text x="129.8" y="72.9" font-size="4.6" text-anchor="middle" font-family="Liberation Serif, serif" font-weight="normal" fill="#000" stroke="#000" stroke-width="0.12" transform="rotate(-90 129.8 72.9)">4</text>
<text x="129.8" y="87.4" font-size="4.6" text-anchor="middle" font-family="Liberation Serif, serif" font-weight="normal" fill="#000" stroke="#000" stroke-width="0.12" transform="rotate(-90 129.8 87.4)">2</text>
<text x="135.8" y="61.099999999999994" font-size="5.5" text-anchor="middle" font-family="Liberation Serif, serif" font-weight="normal" fill="#111" stroke="#111" stroke-width="0.03" transform="rotate(-90 135.8 61.099999999999994)">Relative Permittivity</text>
<text x="19.0" y="130.35" font-size="5.4" text-anchor="end" font-family="Liberation Serif, serif" font-weight="normal" fill="#2a2a2a" stroke="#2a2a2a" stroke-width="0">0.2</text>
<path d="M20.2 128.6 h1" stroke="#333" stroke-width="0.25"/>
<text x="19.0" y="144.25" font-size="5.4" text-anchor="end" font-family="Liberation Serif, serif" font-weight="normal" fill="#2a2a2a" stroke="#2a2a2a" stroke-width="0">0.4</text>
<path d="M20.2 142.5 h1" stroke="#333" stroke-width="0.25"/>
<text x="19.0" y="158.15" font-size="5.4" text-anchor="end" font-family="Liberation Serif, serif" font-weight="normal" fill="#2a2a2a" stroke="#2a2a2a" stroke-width="0">0.6</text>
<path d="M20.2 156.4 h1" stroke="#333" stroke-width="0.25"/>
<text x="19.0" y="172.05" font-size="5.4" text-anchor="end" font-family="Liberation Serif, serif" font-weight="normal" fill="#2a2a2a" stroke="#2a2a2a" stroke-width="0">0.8</text>
<path d="M20.2 170.3 h1" stroke="#333" stroke-width="0.25"/>
<text x="49.55" y="184.9" font-size="5.4" text-anchor="middle" font-family="Liberation Serif, serif" font-weight="normal" fill="#2a2a2a" stroke="#2a2a2a" stroke-width="0">0.5</text>
<path d="M49.55 178.0 v-1" stroke="#333" stroke-width="0.25"/>
<text x="79.9" y="184.9" font-size="5.4" text-anchor="middle" font-family="Liberation Serif, serif" font-weight="normal" fill="#2a2a2a" stroke="#2a2a2a" stroke-width="0">1</text>
<path d="M79.9 178.0 v-1" stroke="#333" stroke-width="0.25"/>
<text x="110.25000000000001" y="184.9" font-size="5.4" text-anchor="middle" font-family="Liberation Serif, serif" font-weight="normal" fill="#2a2a2a" stroke="#2a2a2a" stroke-width="0">1.5</text>
<path d="M110.25000000000001 178.0 v-1" stroke="#333" stroke-width="0.25"/>
<text x="71.4" y="191.1" font-size="5.6" text-anchor="middle" font-family="Liberation Serif, serif" font-weight="normal" fill="#111" stroke="#111" stroke-width="0.03">Y-Direction</text>
<text x="10.299999999999999" y="146.65" font-size="5.5" text-anchor="middle" font-family="Liberation Serif, serif" font-weight="normal" fill="#111" stroke="#111" stroke-width="0.03" transform="rotate(-90 10.299999999999999 146.65)">X-Direction</text>
<rect x="123.5" y="114.7" width="2.700000000000003" height="63.3" fill="url(#jetg)"/>
<rect x="123.5" y="114.7" width="2.700000000000003" height="63.3" fill="none" stroke="#333" stroke-width="0.2" stroke-opacity="0.6"/>
<text x="129.8" y="128.2" font-size="4.6" text-anchor="middle" font-family="Liberation Serif, serif" font-weight="normal" fill="#000" stroke="#000" stroke-width="0.12" transform="rotate(-90 129.8 128.2)">8</text>
<text x="129.8" y="142.7" font-size="4.6" text-anchor="middle" font-family="Liberation Serif, serif" font-weight="normal" fill="#000" stroke="#000" stroke-width="0.12" transform="rotate(-90 129.8 142.7)">6</text>
<text x="129.8" y="157.2" font-size="4.6" text-anchor="middle" font-family="Liberation Serif, serif" font-weight="normal" fill="#000" stroke="#000" stroke-width="0.12" transform="rotate(-90 129.8 157.2)">4</text>
<text x="129.8" y="171.7" font-size="4.6" text-anchor="middle" font-family="Liberation Serif, serif" font-weight="normal" fill="#000" stroke="#000" stroke-width="0.12" transform="rotate(-90 129.8 171.7)">2</text>
<text x="135.8" y="145.35" font-size="5.5" text-anchor="middle" font-family="Liberation Serif, serif" font-weight="normal" fill="#111" stroke="#111" stroke-width="0.03" transform="rotate(-90 135.8 145.35)">Relative Permittivity</text>
<text x="19.0" y="218.35" font-size="5.4" text-anchor="end" font-family="Liberation Serif, serif" font-weight="normal" fill="#2a2a2a" stroke="#2a2a2a" stroke-width="0">0.2</text>
<path d="M20.2 216.6 h1" stroke="#333" stroke-width="0.25"/>
<text x="19.0" y="232.25" font-size="5.4" text-anchor="end" font-family="Liberation Serif, serif" font-weight="normal" fill="#2a2a2a" stroke="#2a2a2a" stroke-width="0">0.4</text>
<path d="M20.2 230.5 h1" stroke="#333" stroke-width="0.25"/>
<text x="19.0" y="246.14999999999998" font-size="5.4" text-anchor="end" font-family="Liberation Serif, serif" font-weight="normal" fill="#2a2a2a" stroke="#2a2a2a" stroke-width="0">0.6</text>
<path d="M20.2 244.39999999999998 h1" stroke="#333" stroke-width="0.25"/>
<text x="19.0" y="260.05" font-size="5.4" text-anchor="end" font-family="Liberation Serif, serif" font-weight="normal" fill="#2a2a2a" stroke="#2a2a2a" stroke-width="0">0.8</text>
<path d="M20.2 258.3 h1" stroke="#333" stroke-width="0.25"/>
<text x="49.55" y="273.29999999999995" font-size="5.4" text-anchor="middle" font-family="Liberation Serif, serif" font-weight="normal" fill="#2a2a2a" stroke="#2a2a2a" stroke-width="0">0.5</text>
<path d="M49.55 266.4 v-1" stroke="#333" stroke-width="0.25"/>
<text x="79.9" y="273.29999999999995" font-size="5.4" text-anchor="middle" font-family="Liberation Serif, serif" font-weight="normal" fill="#2a2a2a" stroke="#2a2a2a" stroke-width="0">1</text>
<path d="M79.9 266.4 v-1" stroke="#333" stroke-width="0.25"/>
<text x="110.25000000000001" y="273.29999999999995" font-size="5.4" text-anchor="middle" font-family="Liberation Serif, serif" font-weight="normal" fill="#2a2a2a" stroke="#2a2a2a" stroke-width="0">1.5</text>
<path d="M110.25000000000001 266.4 v-1" stroke="#333" stroke-width="0.25"/>
<text x="71.4" y="279.5" font-size="5.6" text-anchor="middle" font-family="Liberation Serif, serif" font-weight="normal" fill="#111" stroke="#111" stroke-width="0.03">Y-Direction</text>
<text x="10.299999999999999" y="234.85" font-size="5.5" text-anchor="middle" font-family="Liberation Serif, serif" font-weight="normal" fill="#111" stroke="#111" stroke-width="0.03" transform="rotate(-90 10.299999999999999 234.85)">X-Direction</text>
<rect x="123.5" y="202.7" width="2.700000000000003" height="63.69999999999999" fill="url(#jetg)"/>
<rect x="123.5" y="202.7" width="2.700000000000003" height="63.69999999999999" fill="none" stroke="#333" stroke-width="0.2" stroke-opacity="0.6"/>
<text x="129.8" y="216.2" font-size="4.6" text-anchor="middle" font-family="Liberation Serif, serif" font-weight="normal" fill="#000" stroke="#000" stroke-width="0.12" transform="rotate(-90 129.8 216.2)">8</text>
<text x="129.8" y="230.7" font-size="4.6" text-anchor="middle" font-family="Liberation Serif, serif" font-weight="normal" fill="#000" stroke="#000" stroke-width="0.12" transform="rotate(-90 129.8 230.7)">6</text>
<text x="129.8" y="245.2" font-size="4.6" text-anchor="middle" font-family="Liberation Serif, serif" font-weight="normal" fill="#000" stroke="#000" stroke-width="0.12" transform="rotate(-90 129.8 245.2)">4</text>
<text x="129.8" y="259.7" font-size="4.6" text-anchor="middle" font-family="Liberation Serif, serif" font-weight="normal" fill="#000" stroke="#000" stroke-width="0.12" transform="rotate(-90 129.8 259.7)">2</text>
<text x="135.8" y="233.54999999999998" font-size="5.5" text-anchor="middle" font-family="Liberation Serif, serif" font-weight="normal" fill="#111" stroke="#111" stroke-width="0.03" transform="rotate(-90 135.8 233.54999999999998)">Relative Permittivity</text>
<text x="11.8" y="29.4" font-size="8" text-anchor="middle" font-family="Liberation Serif, serif" font-weight="bold" fill="#111" stroke="#111" stroke-width="0.12">(a)</text>
<text x="12.7" y="114.8" font-size="8" text-anchor="middle" font-family="Liberation Serif, serif" font-weight="bold" fill="#111" stroke="#111" stroke-width="0.12">(e)</text>
<text x="12.1" y="203.6" font-size="8" text-anchor="middle" font-family="Liberation Serif, serif" font-weight="bold" fill="#111" stroke="#111" stroke-width="0.12">(i)</text>
<g clip-path="url(#cp4)"><g filter="url(#jf4)">
<rect x="152.5" y="28.4" width="105.80000000000001" height="67.4" fill="#7a7a7a"/>
<path d="M182 72 L142 93" fill="none" stroke="#999999" stroke-width="1.3" stroke-opacity="0.5" stroke-linecap="round" stroke-linejoin="round" filter="url(#b2)"/>
<path d="M194 72 L154 93" fill="none" stroke="#999999" stroke-width="1.3" stroke-opacity="0.5" stroke-linecap="round" stroke-linejoin="round" filter="url(#b2)"/>
<path d="M206 72 L166 93" fill="none" stroke="#999999" stroke-width="1.3" stroke-opacity="0.5" stroke-linecap="round" stroke-linejoin="round" filter="url(#b2)"/>
<path d="M218 72 L178 93" fill="none" stroke="#999999" stroke-width="1.3" stroke-opacity="0.5" stroke-linecap="round" stroke-linejoin="round" filter="url(#b2)"/>
<path d="M230 72 L190 93" fill="none" stroke="#999999" stroke-width="1.3" stroke-opacity="0.5" stroke-linecap="round" stroke-linejoin="round" filter="url(#b2)"/>
<path d="M242 72 L202 93" fill="none" stroke="#999999" stroke-width="1.3" stroke-opacity="0.5" stroke-linecap="round" stroke-linejoin="round" filter="url(#b2)"/>
<path d="M254 72 L214 93" fill="none" stroke="#999999" stroke-width="1.3" stroke-opacity="0.5" stroke-linecap="round" stroke-linejoin="round" filter="url(#b2)"/>
<path d="M266 72 L226 93" fill="none" stroke="#999999" stroke-width="1.3" stroke-opacity="0.5" stroke-linecap="round" stroke-linejoin="round" filter="url(#b2)"/>
<path d="M278 72 L238 93" fill="none" stroke="#999999" stroke-width="1.3" stroke-opacity="0.5" stroke-linecap="round" stroke-linejoin="round" filter="url(#b2)"/>
<path d="M191 74 L221 93" fill="none" stroke="#999999" stroke-width="1.1" stroke-opacity="0.45" stroke-linecap="round" stroke-linejoin="round" filter="url(#b2)"/>
<path d="M203 74 L233 93" fill="none" stroke="#999999" stroke-width="1.1" stroke-opacity="0.45" stroke-linecap="round" stroke-linejoin="round" filter="url(#b2)"/>
<path d="M215 74 L245 93" fill="none" stroke="#999999" stroke-width="1.1" stroke-opacity="0.45" stroke-linecap="round" stroke-linejoin="round" filter="url(#b2)"/>
<path d="M227 74 L257 93" fill="none" stroke="#999999" stroke-width="1.1" stroke-opacity="0.45" stroke-linecap="round" stroke-linejoin="round" filter="url(#b2)"/>
<path d="M239 74 L269 93" fill="none" stroke="#999999" stroke-width="1.1" stroke-opacity="0.45" stroke-linecap="round" stroke-linejoin="round" filter="url(#b2)"/>
<path d="M153.00 36.90 C154.58 36.90 159.33 36.91 162.50 36.91 C165.67 36.91 170.42 36.90 172.00 36.90" fill="none" stroke="url(#tg1)" stroke-width="2.2399999999999998" stroke-opacity="1" stroke-linecap="round" stroke-linejoin="round" filter="url(#b2)"/>
<path d="M153.00 38.90 C155.58 38.90 163.33 38.91 168.50 38.91 C173.67 38.91 181.42 38.90 184.00 38.90" fill="none" stroke="url(#tg2)" stroke-width="1.9599999999999997" stroke-opacity="1" stroke-linecap="round" stroke-linejoin="round" filter="url(#b2)"/>
<path d="M171.00 39.90 C171.92 39.90 174.67 39.91 176.50 39.91 C178.33 39.91 181.08 39.90 182.00 39.90" fill="none" stroke="url(#tg3)" stroke-width="1.9599999999999997" stroke-opacity="1" stroke-linecap="round" stroke-linejoin="round" filter="url(#b2)"/>
<path d="M182.00 40.30 C184.08 40.30 190.33 40.31 194.50 40.31 C198.67 40.31 204.92 40.30 207.00 40.30" fill="none" stroke="url(#tg4)" stroke-width="2.0999999999999996" stroke-opacity="1" stroke-linecap="round" stroke-linejoin="round" filter="url(#b2)"/>
<path d="M194.00 37.50 C195.25 37.50 199.00 37.51 201.50 37.51 C204.00 37.51 207.75 37.50 209.00 37.50" fill="none" stroke="url(#tg5)" stroke-width="1.8199999999999998" stroke-opacity="1" stroke-linecap="round" stroke-linejoin="round" filter="url(#b2)"/>
<path d="M210.00 38.20 C211.00 38.20 214.00 38.21 216.00 38.21 C218.00 38.21 221.00 38.20 222.00 38.20" fill="none" stroke="url(#tg6)" stroke-width="1.68" stroke-opacity="1" stroke-linecap="round" stroke-linejoin="round" filter="url(#b2)"/>
<path d="M224.00 36.50 C225.42 36.50 229.67 36.51 232.50 36.51 C235.33 36.51 239.58 36.50 241.00 36.50" fill="none" stroke="url(#tg7)" stroke-width="1.4" stroke-opacity="1" stroke-linecap="round" stroke-linejoin="round" filter="url(#b2)"/>
<path d="M158.00 33.50 C161.67 33.50 172.67 33.51 180.00 33.51 C187.33 33.51 198.33 33.50 202.00 33.50" fill="none" stroke="url(#tg8)" stroke-width="1.68" stroke-opacity="1" stroke-linecap="round" stroke-linejoin="round" filter="url(#b2)"/>
<path d="M204.00 34.00 C208.42 34.00 221.67 34.01 230.50 34.01 C239.33 34.01 252.58 34.00 257.00 34.00" fill="none" stroke="url(#tg9)" stroke-width="1.8199999999999998" stroke-opacity="1" stroke-linecap="round" stroke-linejoin="round" filter="url(#b2)"/>
<path d="M178.00 43.00 C180.00 43.00 186.00 43.01 190.00 43.01 C194.00 43.01 200.00 43.00 202.00 43.00" fill="none" stroke="url(#tg10)" stroke-width="1.68" stroke-opacity="1" stroke-linecap="round" stroke-linejoin="round" filter="url(#b2)"/>
<path d="M188.00 48.40 C193.83 48.40 211.33 48.41 223.00 48.41 C234.67 48.41 252.17 48.40 258.00 48.40" fill="none" stroke="url(#tg11)" stroke-width="3.36" stroke-opacity="1" stroke-linecap="round" stroke-linejoin="round" filter="url(#b2)"/>
<path d="M190.00 47.00 C193.33 46.80 203.67 46.00 210.00 45.80 C216.33 45.60 224.50 46.00 228.00 45.80 C231.50 45.60 230.08 45.17 231.00 44.60 C231.92 44.03 233.08 42.77 233.50 42.40" fill="none" stroke="url(#tg12)" stroke-width="2.0999999999999996" stroke-opacity="1" stroke-linecap="round" stroke-linejoin="round" filter="url(#b2)"/>
<path d="M237.50 45.00 C238.08 44.77 239.92 44.03 241.00 43.60 C242.08 43.17 243.50 42.60 244.00 42.40" fill="none" stroke="#b1b1b1" stroke-width="1.8199999999999998" stroke-opacity="0.8" stroke-linecap="round" stroke-linejoin="round" filter="url(#b2)"/>
<path d="M246.00 45.00 C246.67 44.77 248.67 44.10 250.00 43.60 C251.33 43.10 253.33 42.27 254.00 42.00" fill="none" stroke="#b1b1b1" stroke-width="1.8199999999999998" stroke-opacity="0.7" stroke-linecap="round" stroke-linejoin="round" filter="url(#b2)"/>
<path d="M192.00 51.90 C197.50 51.90 214.00 51.91 225.00 51.91 C236.00 51.91 252.50 51.90 258.00 51.90" fill="none" stroke="url(#tg13)" stroke-width="2.38" stroke-opacity="1" stroke-linecap="round" stroke-linejoin="round" filter="url(#b2)"/>
<path d="M192.00 54.00 C197.50 54.00 214.00 54.01 225.00 54.01 C236.00 54.01 252.50 54.00 258.00 54.00" fill="none" stroke="url(#tg14)" stroke-width="1.8199999999999998" stroke-opacity="1" stroke-linecap="round" stroke-linejoin="round" filter="url(#b2)"/>
<path d="M208.00 55.70 C212.17 55.70 224.67 55.71 233.00 55.71 C241.33 55.71 253.83 55.70 258.00 55.70" fill="none" stroke="url(#tg15)" stroke-width="1.8199999999999998" stroke-opacity="1" stroke-linecap="round" stroke-linejoin="round" filter="url(#b2)"/>
<path d="M150.00 53.00 C150.50 52.72 152.00 51.83 153.00 51.30 C154.00 50.77 154.83 50.35 156.00 49.80 C157.17 49.25 158.50 48.55 160.00 48.00 C161.50 47.45 163.33 46.90 165.00 46.50 C166.67 46.10 168.37 45.80 170.00 45.60 C171.63 45.40 173.13 45.27 174.80 45.30 C176.47 45.33 178.30 45.53 180.00 45.80 C181.70 46.07 183.33 46.43 185.00 46.90 C186.67 47.37 188.67 48.08 190.00 48.60 C191.33 49.12 191.83 49.37 193.00 50.00 C194.17 50.63 195.67 51.60 197.00 52.40 C198.33 53.20 199.67 53.97 201.00 54.80 C202.33 55.63 203.83 56.67 205.00 57.40 C206.17 58.13 207.00 58.60 208.00 59.20 C209.00 59.80 210.50 60.70 211.00 61.00" fill="none" stroke="url(#tg16)" stroke-width="2.52" stroke-opacity="1" stroke-linecap="round" stroke-linejoin="round" filter="url(#b2)"/>
<path d="M150.00 58.70 C150.50 58.42 152.00 57.53 153.00 57.00 C154.00 56.47 154.83 56.05 156.00 55.50 C157.17 54.95 158.50 54.25 160.00 53.70 C161.50 53.15 163.33 52.60 165.00 52.20 C166.67 51.80 168.37 51.50 170.00 51.30 C171.63 51.10 173.13 50.97 174.80 51.00 C176.47 51.03 178.30 51.23 180.00 51.50 C181.70 51.77 183.33 52.13 185.00 52.60 C186.67 53.07 188.67 53.78 190.00 54.30 C191.33 54.82 191.83 55.07 193.00 55.70 C194.17 56.33 195.67 57.30 197.00 58.10 C198.33 58.90 199.67 59.67 201.00 60.50 C202.33 61.33 203.83 62.37 205.00 63.10 C206.17 63.83 207.00 64.30 208.00 64.90 C209.00 65.50 210.50 66.40 211.00 66.70" fill="none" stroke="url(#tg17)" stroke-width="2.6" stroke-opacity="1" stroke-linecap="round" stroke-linejoin="round" filter="url(#b1)"/>
<path d="M150.00 55.80 C150.50 55.52 152.00 54.63 153.00 54.10 C154.00 53.57 154.83 53.15 156.00 52.60 C157.17 52.05 158.50 51.35 160.00 50.80 C161.50 50.25 163.33 49.70 165.00 49.30 C166.67 48.90 168.37 48.60 170.00 48.40 C171.63 48.20 173.13 48.07 174.80 48.10 C176.47 48.13 178.30 48.33 180.00 48.60 C181.70 48.87 183.33 49.23 185.00 49.70 C186.67 50.17 188.67 50.88 190.00 51.40 C191.33 51.92 191.83 52.17 193.00 52.80 C194.17 53.43 195.67 54.40 197.00 55.20 C198.33 56.00 199.67 56.77 201.00 57.60 C202.33 58.43 203.83 59.47 205.00 60.20 C206.17 60.93 207.00 61.40 208.00 62.00 C209.00 62.60 210.50 63.50 211.00 63.80" fill="none" stroke="url(#tg18)" stroke-width="2.6" stroke-opacity="1" stroke-linecap="round" stroke-linejoin="round" filter="url(#b1)"/>
<path d="M150.00 63.80 C150.50 63.50 151.83 62.67 153.00 62.00 C154.17 61.33 155.67 60.53 157.00 59.80 C158.33 59.07 159.83 58.20 161.00 57.60 C162.17 57.00 163.00 56.62 164.00 56.20 C165.00 55.78 165.67 55.45 167.00 55.10 C168.33 54.75 170.25 54.33 172.00 54.10 C173.75 53.87 175.83 53.70 177.50 53.70 C179.17 53.70 181.25 54.03 182.00 54.10" fill="none" stroke="url(#tg19)" stroke-width="1.8" stroke-opacity="1" stroke-linecap="round" stroke-linejoin="round" filter="url(#b1)"/>
<path d="M150.00 66.40 C150.50 66.10 151.83 65.27 153.00 64.60 C154.17 63.93 155.67 63.13 157.00 62.40 C158.33 61.67 159.83 60.80 161.00 60.20 C162.17 59.60 163.00 59.22 164.00 58.80 C165.00 58.38 165.67 58.05 167.00 57.70 C168.33 57.35 170.25 56.93 172.00 56.70 C173.75 56.47 175.83 56.30 177.50 56.30 C179.17 56.30 181.25 56.63 182.00 56.70" fill="none" stroke="url(#tg20)" stroke-width="1.68" stroke-opacity="1" stroke-linecap="round" stroke-linejoin="round" filter="url(#b2)"/>
<path d="M154.00 66.00 C154.67 65.58 156.67 64.30 158.00 63.50 C159.33 62.70 160.33 61.90 162.00 61.20 C163.67 60.50 166.00 59.83 168.00 59.30 C170.00 58.77 171.67 58.28 174.00 58.00 C176.33 57.72 180.67 57.67 182.00 57.60" fill="none" stroke="url(#tg21)" stroke-width="1.8199999999999998" stroke-opacity="1" stroke-linecap="round" stroke-linejoin="round" filter="url(#b2)"/>
<path d="M152.00 63.70 C156.83 63.70 171.33 63.71 181.00 63.71 C190.67 63.71 205.17 63.70 210.00 63.70" fill="none" stroke="url(#tg22)" stroke-width="2.52" stroke-opacity="1" stroke-linecap="round" stroke-linejoin="round" filter="url(#b2)"/>
<path d="M152.00 67.20 C155.67 67.20 166.67 67.21 174.00 67.21 C181.33 67.21 192.33 67.20 196.00 67.20" fill="none" stroke="url(#tg23)" stroke-width="2.52" stroke-opacity="1" stroke-linecap="round" stroke-linejoin="round" filter="url(#b2)"/>
<path d="M152.00 69.50 C155.33 69.50 165.33 69.51 172.00 69.51 C178.67 69.51 188.67 69.50 192.00 69.50" fill="none" stroke="url(#tg24)" stroke-width="1.54" stroke-opacity="1" stroke-linecap="round" stroke-linejoin="round" filter="url(#b2)"/>
<path d="M190.00 65.40 C191.17 65.30 194.83 65.05 197.00 64.80 C199.17 64.55 200.78 64.28 203.00 63.90 C205.22 63.52 208.13 62.85 210.30 62.50 C212.47 62.15 213.98 61.97 216.00 61.80 C218.02 61.63 220.40 61.47 222.40 61.50 C224.40 61.53 226.23 61.77 228.00 62.00 C229.77 62.23 231.50 62.60 233.00 62.90 C234.50 63.20 235.50 63.47 237.00 63.80 C238.50 64.13 240.50 64.57 242.00 64.90 C243.50 65.23 244.50 65.40 246.00 65.80 C247.50 66.20 249.33 66.77 251.00 67.30 C252.67 67.83 254.67 68.53 256.00 69.00 C257.33 69.47 258.50 69.92 259.00 70.10" fill="none" stroke="url(#tg25)" stroke-width="1.8199999999999998" stroke-opacity="1" stroke-linecap="round" stroke-linejoin="round" filter="url(#b2)"/>
<path d="M190.00 70.60 C191.17 70.50 194.83 70.25 197.00 70.00 C199.17 69.75 200.78 69.48 203.00 69.10 C205.22 68.72 208.13 68.05 210.30 67.70 C212.47 67.35 213.98 67.17 216.00 67.00 C218.02 66.83 220.40 66.67 222.40 66.70 C224.40 66.73 226.23 66.97 228.00 67.20 C229.77 67.43 231.50 67.80 233.00 68.10 C234.50 68.40 235.50 68.67 237.00 69.00 C238.50 69.33 240.50 69.77 242.00 70.10 C243.50 70.43 244.50 70.60 246.00 71.00 C247.50 71.40 249.33 71.97 251.00 72.50 C252.67 73.03 254.67 73.73 256.00 74.20 C257.33 74.67 258.50 75.12 259.00 75.30" fill="none" stroke="url(#tg26)" stroke-width="2.2" stroke-opacity="1" stroke-linecap="round" stroke-linejoin="round" filter="url(#b1)"/>
<path d="M190.00 67.60 C191.17 67.50 194.83 67.25 197.00 67.00 C199.17 66.75 200.78 66.48 203.00 66.10 C205.22 65.72 208.13 65.05 210.30 64.70 C212.47 64.35 213.98 64.17 216.00 64.00 C218.02 63.83 220.40 63.67 222.40 63.70 C224.40 63.73 226.23 63.97 228.00 64.20 C229.77 64.43 231.50 64.80 233.00 65.10 C234.50 65.40 235.50 65.67 237.00 66.00 C238.50 66.33 240.50 66.77 242.00 67.10 C243.50 67.43 244.50 67.60 246.00 68.00 C247.50 68.40 249.33 68.97 251.00 69.50 C252.67 70.03 254.67 70.73 256.00 71.20 C257.33 71.67 258.50 72.12 259.00 72.30" fill="none" stroke="url(#tg27)" stroke-width="2.2" stroke-opacity="1" stroke-linecap="round" stroke-linejoin="round" filter="url(#b1)"/>
<path d="M212.00 70.20 C212.67 70.15 214.33 69.98 216.00 69.90 C217.67 69.82 220.00 69.72 222.00 69.70 C224.00 69.68 225.83 69.68 228.00 69.80 C230.17 69.92 233.83 70.30 235.00 70.40" fill="none" stroke="url(#tg28)" stroke-width="1.5" stroke-opacity="1" stroke-linecap="round" stroke-linejoin="round" filter="url(#b1)"/>
<path d="M195.00 68.60 C193.33 69.33 188.33 71.53 185.00 73.00 C181.67 74.47 177.83 76.13 175.00 77.40 C172.17 78.67 170.25 79.58 168.00 80.60 C165.75 81.62 164.00 82.27 161.50 83.50 C159.00 84.73 154.42 87.25 153.00 88.00" fill="none" stroke="url(#tg29)" stroke-width="2.2399999999999998" stroke-opacity="1" stroke-linecap="round" stroke-linejoin="round" filter="url(#b2)"/>
<path d="M211.00 71.20 C210.00 71.50 207.03 72.33 205.00 73.00 C202.97 73.67 199.83 74.83 198.80 75.20" fill="none" stroke="#b3b3b3" stroke-width="2.0999999999999996" stroke-opacity="0.9" stroke-linecap="round" stroke-linejoin="round" filter="url(#b2)"/>
<path d="M220.00 71.20 C221.67 72.27 226.67 75.43 230.00 77.60 C233.33 79.77 236.92 82.17 240.00 84.20 C243.08 86.23 246.00 88.13 248.50 89.80 C251.00 91.47 253.92 93.47 255.00 94.20" fill="none" stroke="url(#tg30)" stroke-width="2.0999999999999996" stroke-opacity="1" stroke-linecap="round" stroke-linejoin="round" filter="url(#b2)"/>
<path d="M236.00 70.50 C237.50 71.08 241.67 72.58 245.00 74.00 C248.33 75.42 254.17 78.17 256.00 79.00" fill="none" stroke="#a9a9a9" stroke-width="1.68" stroke-opacity="0.7" stroke-linecap="round" stroke-linejoin="round" filter="url(#b2)"/>
</g></g>
<rect x="154.5" y="30.4" width="101.80000000000001" height="63.4" fill="none" stroke="#333" stroke-width="0.25" stroke-opacity="0.6"/>
<g clip-path="url(#cp5)"><g filter="url(#jf5)">
<rect x="152.5" y="112.7" width="105.80000000000001" height="67.3" fill="#7a7a7a"/>
<path d="M176 152 L134 176" fill="none" stroke="#9e9e9e" stroke-width="1.3" stroke-opacity="0.6" stroke-linecap="round" stroke-linejoin="round" filter="url(#b2)"/>
<path d="M190 152 L148 176" fill="none" stroke="#9e9e9e" stroke-width="1.3" stroke-opacity="0.6" stroke-linecap="round" stroke-linejoin="round" filter="url(#b2)"/>
<path d="M204 152 L162 176" fill="none" stroke="#9e9e9e" stroke-width="1.3" stroke-opacity="0.6" stroke-linecap="round" stroke-linejoin="round" filter="url(#b2)"/>
<path d="M218 152 L176 176" fill="none" stroke="#9e9e9e" stroke-width="1.3" stroke-opacity="0.6" stroke-linecap="round" stroke-linejoin="round" filter="url(#b2)"/>
<path d="M232 152 L190 176" fill="none" stroke="#9e9e9e" stroke-width="1.3" stroke-opacity="0.6" stroke-linecap="round" stroke-linejoin="round" filter="url(#b2)"/>
<path d="M246 152 L204 176" fill="none" stroke="#9e9e9e" stroke-width="1.3" stroke-opacity="0.6" stroke-linecap="round" stroke-linejoin="round" filter="url(#b2)"/>
<path d="M260 152 L218 176" fill="none" stroke="#9e9e9e" stroke-width="1.3" stroke-opacity="0.6" stroke-linecap="round" stroke-linejoin="round" filter="url(#b2)"/>
<path d="M274 152 L232 176" fill="none" stroke="#9e9e9e" stroke-width="1.3" stroke-opacity="0.6" stroke-linecap="round" stroke-linejoin="round" filter="url(#b2)"/>
<path d="M176 154 L212 176" fill="none" stroke="#9e9e9e" stroke-width="1.1" stroke-opacity="0.55" stroke-linecap="round" stroke-linejoin="round" filter="url(#b2)"/>
<path d="M189 154 L225 176" fill="none" stroke="#9e9e9e" stroke-width="1.1" stroke-opacity="0.55" stroke-linecap="round" stroke-linejoin="round" filter="url(#b2)"/>
<path d="M202 154 L238 176" fill="none" stroke="#9e9e9e" stroke-width="1.1" stroke-opacity="0.55" stroke-linecap="round" stroke-linejoin="round" filter="url(#b2)"/>
<path d="M215 154 L251 176" fill="none" stroke="#9e9e9e" stroke-width="1.1" stroke-opacity="0.55" stroke-linecap="round" stroke-linejoin="round" filter="url(#b2)"/>
<path d="M228 154 L264 176" fill="none" stroke="#9e9e9e" stroke-width="1.1" stroke-opacity="0.55" stroke-linecap="round" stroke-linejoin="round" filter="url(#b2)"/>
<path d="M241 154 L277 176" fill="none" stroke="#9e9e9e" stroke-width="1.1" stroke-opacity="0.55" stroke-linecap="round" stroke-linejoin="round" filter="url(#b2)"/>
<path d="M154.00 121.20 C155.33 121.20 159.33 121.21 162.00 121.21 C164.67 121.21 168.67 121.20 170.00 121.20" fill="none" stroke="url(#tg31)" stroke-width="1.9599999999999997" stroke-opacity="1" stroke-linecap="round" stroke-linejoin="round" filter="url(#b2)"/>
<path d="M186.00 121.20 C188.00 121.20 194.00 121.21 198.00 121.21 C202.00 121.21 208.00 121.20 210.00 121.20" fill="none" stroke="url(#tg32)" stroke-width="2.0999999999999996" stroke-opacity="1" stroke-linecap="round" stroke-linejoin="round" filter="url(#b2)"/>
<path d="M184.00 124.00 C186.33 124.00 193.33 124.01 198.00 124.01 C202.67 124.01 209.67 124.00 212.00 124.00" fill="none" stroke="url(#tg33)" stroke-width="2.0999999999999996" stroke-opacity="1" stroke-linecap="round" stroke-linejoin="round" filter="url(#b2)"/>
<path d="M193.00 126.70 C194.00 126.70 197.00 126.71 199.00 126.71 C201.00 126.71 204.00 126.70 205.00 126.70" fill="none" stroke="url(#tg34)" stroke-width="1.68" stroke-opacity="1" stroke-linecap="round" stroke-linejoin="round" filter="url(#b2)"/>
<ellipse cx="213.8" cy="123.4" rx="1.6" ry="0.9" fill="#a8a8a8" fill-opacity="1" filter="url(#b2)"/>
<ellipse cx="218.5" cy="121.0" rx="1.6" ry="0.9" fill="#a3a3a3" fill-opacity="1" filter="url(#b2)"/>
<path d="M220.00 124.20 C223.17 124.20 232.67 124.21 239.00 124.21 C245.33 124.21 254.83 124.20 258.00 124.20" fill="none" stroke="url(#tg35)" stroke-width="1.9599999999999997" stroke-opacity="1" stroke-linecap="round" stroke-linejoin="round" filter="url(#b2)"/>
<path d="M232.00 121.60 C234.17 121.60 240.67 121.61 245.00 121.61 C249.33 121.61 255.83 121.60 258.00 121.60" fill="none" stroke="url(#tg36)" stroke-width="1.8199999999999998" stroke-opacity="1" stroke-linecap="round" stroke-linejoin="round" filter="url(#b2)"/>
<path d="M195.00 127.00 C195.75 127.00 198.00 127.01 199.50 127.01 C201.00 127.01 203.25 127.00 204.00 127.00" fill="none" stroke="url(#tg37)" stroke-width="1.54" stroke-opacity="1" stroke-linecap="round" stroke-linejoin="round" filter="url(#b2)"/>
<path d="M154.00 118.00 C157.83 118.00 169.33 118.01 177.00 118.01 C184.67 118.01 196.17 118.00 200.00 118.00" fill="none" stroke="url(#tg38)" stroke-width="1.4" stroke-opacity="1" stroke-linecap="round" stroke-linejoin="round" filter="url(#b2)"/>
<path d="M150.00 135.00 C150.75 134.55 152.83 133.28 154.50 132.30 C156.17 131.32 158.25 130.12 160.00 129.10 C161.75 128.08 163.27 127.22 165.00 126.20 C166.73 125.18 168.93 123.90 170.40 123.00 C171.87 122.10 172.70 121.13 173.80 120.80 C174.90 120.47 175.67 120.73 177.00 121.00 C178.33 121.27 180.30 121.93 181.80 122.40 C183.30 122.87 185.30 123.57 186.00 123.80" fill="none" stroke="url(#tg39)" stroke-width="1.8199999999999998" stroke-opacity="1" stroke-linecap="round" stroke-linejoin="round" filter="url(#b2)"/>
<path d="M150.00 140.00 C150.75 139.55 152.83 138.28 154.50 137.30 C156.17 136.32 158.25 135.12 160.00 134.10 C161.75 133.08 163.27 132.22 165.00 131.20 C166.73 130.18 168.93 128.90 170.40 128.00 C171.87 127.10 172.70 126.13 173.80 125.80 C174.90 125.47 175.67 125.73 177.00 126.00 C178.33 126.27 180.30 126.93 181.80 127.40 C183.30 127.87 185.30 128.57 186.00 128.80" fill="none" stroke="url(#tg40)" stroke-width="2.1" stroke-opacity="1" stroke-linecap="round" stroke-linejoin="round" filter="url(#b1)"/>
<path d="M150.00 137.40 C150.75 136.95 152.83 135.68 154.50 134.70 C156.17 133.72 158.25 132.52 160.00 131.50 C161.75 130.48 163.27 129.62 165.00 128.60 C166.73 127.58 168.93 126.30 170.40 125.40 C171.87 124.50 172.70 123.53 173.80 123.20 C174.90 122.87 175.67 123.13 177.00 123.40 C178.33 123.67 180.30 124.33 181.80 124.80 C183.30 125.27 185.30 125.97 186.00 126.20" fill="none" stroke="url(#tg41)" stroke-width="2.0" stroke-opacity="1" stroke-linecap="round" stroke-linejoin="round" filter="url(#b1)"/>
<path d="M150.00 142.40 C150.75 141.95 152.83 140.68 154.50 139.70 C156.17 138.72 158.25 137.52 160.00 136.50 C161.75 135.48 163.27 134.62 165.00 133.60 C166.73 132.58 168.93 131.30 170.40 130.40 C171.87 129.50 172.70 128.53 173.80 128.20 C174.90 127.87 175.67 128.13 177.00 128.40 C178.33 128.67 180.30 129.33 181.80 129.80 C183.30 130.27 185.30 130.97 186.00 131.20" fill="none" stroke="url(#tg42)" stroke-width="2.0999999999999996" stroke-opacity="1" stroke-linecap="round" stroke-linejoin="round" filter="url(#b2)"/>
<path d="M150.00 158.40 C150.75 158.07 153.43 156.90 154.50 156.40 C155.57 155.90 155.32 155.88 156.40 155.40 C157.48 154.92 159.32 154.25 161.00 153.50 C162.68 152.75 164.67 151.80 166.50 150.90 C168.33 150.00 170.18 149.05 172.00 148.10 C173.82 147.15 175.73 146.15 177.40 145.20 C179.07 144.25 180.42 143.37 182.00 142.40 C183.58 141.43 185.40 140.25 186.90 139.40 C188.40 138.55 189.52 137.98 191.00 137.30 C192.48 136.62 194.47 135.85 195.80 135.30 C197.13 134.75 198.47 134.22 199.00 134.00" fill="none" stroke="url(#tg43)" stroke-width="2.1" stroke-opacity="1" stroke-linecap="round" stroke-linejoin="round" filter="url(#b1)"/>
<path d="M150.00 155.20 C150.75 154.87 153.43 153.70 154.50 153.20 C155.57 152.70 155.32 152.68 156.40 152.20 C157.48 151.72 159.32 151.05 161.00 150.30 C162.68 149.55 164.67 148.60 166.50 147.70 C168.33 146.80 170.18 145.85 172.00 144.90 C173.82 143.95 175.73 142.95 177.40 142.00 C179.07 141.05 180.42 140.17 182.00 139.20 C183.58 138.23 185.40 137.05 186.90 136.20 C188.40 135.35 189.52 134.78 191.00 134.10 C192.48 133.42 194.47 132.65 195.80 132.10 C197.13 131.55 198.47 131.02 199.00 130.80" fill="none" stroke="url(#tg44)" stroke-width="2.0" stroke-opacity="1" stroke-linecap="round" stroke-linejoin="round" filter="url(#b1)"/>
<path d="M150.00 161.20 C150.75 160.87 153.43 159.70 154.50 159.20 C155.57 158.70 155.32 158.68 156.40 158.20 C157.48 157.72 159.32 157.05 161.00 156.30 C162.68 155.55 164.67 154.60 166.50 153.70 C168.33 152.80 170.18 151.85 172.00 150.90 C173.82 149.95 175.73 148.95 177.40 148.00 C179.07 147.05 180.42 146.17 182.00 145.20 C183.58 144.23 185.40 143.05 186.90 142.20 C188.40 141.35 189.52 140.78 191.00 140.10 C192.48 139.42 194.47 138.65 195.80 138.10 C197.13 137.55 198.47 137.02 199.00 136.80" fill="none" stroke="url(#tg45)" stroke-width="1.9599999999999997" stroke-opacity="1" stroke-linecap="round" stroke-linejoin="round" filter="url(#b2)"/>
<path d="M207.00 133.20 C207.83 132.83 210.50 131.70 212.00 131.00 C213.50 130.30 214.92 129.52 216.00 129.00 C217.08 128.48 217.50 127.90 218.50 127.90 C219.50 127.90 220.62 128.52 222.00 129.00 C223.38 129.48 224.97 130.17 226.80 130.80 C228.63 131.43 230.80 132.10 233.00 132.80 C235.20 133.50 237.85 134.33 240.00 135.00 C242.15 135.67 244.07 136.13 245.90 136.80 C247.73 137.47 249.32 138.25 251.00 139.00 C252.68 139.75 254.67 140.70 256.00 141.30 C257.33 141.90 258.50 142.38 259.00 142.60" fill="none" stroke="url(#tg46)" stroke-width="1.9" stroke-opacity="1" stroke-linecap="round" stroke-linejoin="round" filter="url(#b1)"/>
<path d="M213.00 131.60 C213.83 131.63 216.12 131.53 218.00 131.80 C219.88 132.07 222.30 132.67 224.30 133.20 C226.30 133.73 227.88 134.33 230.00 135.00 C232.12 135.67 234.77 136.47 237.00 137.20 C239.23 137.93 241.23 138.63 243.40 139.40 C245.57 140.17 247.90 141.07 250.00 141.80 C252.10 142.53 254.50 143.30 256.00 143.80 C257.50 144.30 258.50 144.63 259.00 144.80" fill="none" stroke="url(#tg47)" stroke-width="2.0" stroke-opacity="1" stroke-linecap="round" stroke-linejoin="round" filter="url(#b1)"/>
<path d="M213.00 134.50 C213.83 134.53 216.12 134.43 218.00 134.70 C219.88 134.97 222.30 135.57 224.30 136.10 C226.30 136.63 227.88 137.23 230.00 137.90 C232.12 138.57 234.77 139.37 237.00 140.10 C239.23 140.83 241.23 141.53 243.40 142.30 C245.57 143.07 247.90 143.97 250.00 144.70 C252.10 145.43 254.50 146.20 256.00 146.70 C257.50 147.20 258.50 147.53 259.00 147.70" fill="none" stroke="url(#tg48)" stroke-width="1.8199999999999998" stroke-opacity="1" stroke-linecap="round" stroke-linejoin="round" filter="url(#b2)"/>
<ellipse cx="182.5" cy="149.6" rx="1.8" ry="0.9" fill="#a8a8a8" fill-opacity="1" filter="url(#b2)"/>
<ellipse cx="180" cy="151.5" rx="1.6" ry="0.8" fill="#5c5c5c" fill-opacity="1" filter="url(#b2)"/>
<ellipse cx="183" cy="154.7" rx="1.8" ry="0.9" fill="#a6a6a6" fill-opacity="1" filter="url(#b2)"/>
<path d="M194.00 151.20 C195.25 151.20 199.00 151.21 201.50 151.21 C204.00 151.21 207.75 151.20 209.00 151.20" fill="none" stroke="url(#tg49)" stroke-width="1.9599999999999997" stroke-opacity="1" stroke-linecap="round" stroke-linejoin="round" filter="url(#b2)"/>
<ellipse cx="224" cy="148.4" rx="2.2" ry="0.8" fill="#a1a1a1" fill-opacity="1" filter="url(#b2)"/>
<ellipse cx="227" cy="154" rx="2.4" ry="0.8" fill="#a1a1a1" fill-opacity="1" filter="url(#b2)"/>
<ellipse cx="239.5" cy="151.5" rx="2.0" ry="0.8" fill="#a1a1a1" fill-opacity="1" filter="url(#b2)"/>
<ellipse cx="252" cy="154" rx="2.2" ry="0.8" fill="#a1a1a1" fill-opacity="1" filter="url(#b2)"/>
<ellipse cx="220.5" cy="151" rx="2.0" ry="0.8" fill="#616161" fill-opacity="1" filter="url(#b2)"/>
<ellipse cx="206.5" cy="154.7" rx="2.0" ry="0.8" fill="#616161" fill-opacity="1" filter="url(#b2)"/>
</g></g>
<rect x="154.5" y="114.7" width="101.80000000000001" height="63.3" fill="none" stroke="#333" stroke-width="0.25" stroke-opacity="0.6"/>
<g clip-path="url(#cp6)"><g filter="url(#jf6)">
<rect x="152.5" y="200.7" width="105.80000000000001" height="67.69999999999999" fill="#7e7e7e"/>
<path d="M174 246 L136 264" fill="none" stroke="#949494" stroke-width="1.3" stroke-opacity="0.45" stroke-linecap="round" stroke-linejoin="round" filter="url(#b2)"/>
<path d="M188 246 L150 264" fill="none" stroke="#949494" stroke-width="1.3" stroke-opacity="0.45" stroke-linecap="round" stroke-linejoin="round" filter="url(#b2)"/>
<path d="M202 246 L164 264" fill="none" stroke="#949494" stroke-width="1.3" stroke-opacity="0.45" stroke-linecap="round" stroke-linejoin="round" filter="url(#b2)"/>
<path d="M216 246 L178 264" fill="none" stroke="#949494" stroke-width="1.3" stroke-opacity="0.45" stroke-linecap="round" stroke-linejoin="round" filter="url(#b2)"/>
<path d="M230 246 L192 264" fill="none" stroke="#949494" stroke-width="1.3" stroke-opacity="0.45" stroke-linecap="round" stroke-linejoin="round" filter="url(#b2)"/>
<path d="M244 246 L206 264" fill="none" stroke="#949494" stroke-width="1.3" stroke-opacity="0.45" stroke-linecap="round" stroke-linejoin="round" filter="url(#b2)"/>
<path d="M258 246 L220 264" fill="none" stroke="#949494" stroke-width="1.3" stroke-opacity="0.45" stroke-linecap="round" stroke-linejoin="round" filter="url(#b2)"/>
<path d="M272 246 L234 264" fill="none" stroke="#949494" stroke-width="1.3" stroke-opacity="0.45" stroke-linecap="round" stroke-linejoin="round" filter="url(#b2)"/>
<path d="M181 246 L215 264" fill="none" stroke="#949494" stroke-width="1.1" stroke-opacity="0.4" stroke-linecap="round" stroke-linejoin="round" filter="url(#b2)"/>
<path d="M194 246 L228 264" fill="none" stroke="#949494" stroke-width="1.1" stroke-opacity="0.4" stroke-linecap="round" stroke-linejoin="round" filter="url(#b2)"/>
<path d="M207 246 L241 264" fill="none" stroke="#949494" stroke-width="1.1" stroke-opacity="0.4" stroke-linecap="round" stroke-linejoin="round" filter="url(#b2)"/>
<path d="M220 246 L254 264" fill="none" stroke="#949494" stroke-width="1.1" stroke-opacity="0.4" stroke-linecap="round" stroke-linejoin="round" filter="url(#b2)"/>
<path d="M233 246 L267 264" fill="none" stroke="#949494" stroke-width="1.1" stroke-opacity="0.4" stroke-linecap="round" stroke-linejoin="round" filter="url(#b2)"/>
<path d="M246 246 L280 264" fill="none" stroke="#949494" stroke-width="1.1" stroke-opacity="0.4" stroke-linecap="round" stroke-linejoin="round" filter="url(#b2)"/>
<path d="M154.00 210.00 C156.33 210.00 163.33 210.01 168.00 210.01 C172.67 210.01 179.67 210.00 182.00 210.00" fill="none" stroke="url(#tg50)" stroke-width="2.0999999999999996" stroke-opacity="1" stroke-linecap="round" stroke-linejoin="round" filter="url(#b2)"/>
<ellipse cx="159" cy="211.2" rx="2.0" ry="0.8" fill="#c2c2c2" fill-opacity="1" filter="url(#b2)"/>
<path d="M156.00 213.40 C158.00 213.40 164.00 213.41 168.00 213.41 C172.00 213.41 178.00 213.40 180.00 213.40" fill="none" stroke="url(#tg51)" stroke-width="2.0999999999999996" stroke-opacity="1" stroke-linecap="round" stroke-linejoin="round" filter="url(#b2)"/>
<path d="M166.00 208.50 C167.00 208.28 170.00 207.37 172.00 207.20 C174.00 207.03 177.00 207.45 178.00 207.50" fill="none" stroke="#a9a9a9" stroke-width="1.68" stroke-opacity="0.8" stroke-linecap="round" stroke-linejoin="round" filter="url(#b2)"/>
<path d="M170.00 213.00 C171.00 212.58 174.17 210.97 176.00 210.50 C177.83 210.03 179.33 209.95 181.00 210.20 C182.67 210.45 185.17 211.70 186.00 212.00" fill="none" stroke="#b0b0b0" stroke-width="1.8199999999999998" stroke-opacity="0.9" stroke-linecap="round" stroke-linejoin="round" filter="url(#b2)"/>
<path d="M154.00 220.40 C156.33 220.40 163.33 220.41 168.00 220.41 C172.67 220.41 179.67 220.40 182.00 220.40" fill="none" stroke="url(#tg52)" stroke-width="2.2399999999999998" stroke-opacity="1" stroke-linecap="round" stroke-linejoin="round" filter="url(#b2)"/>
<path d="M154.00 223.20 C156.00 223.20 162.00 223.21 166.00 223.21 C170.00 223.21 176.00 223.20 178.00 223.20" fill="none" stroke="url(#tg53)" stroke-width="1.9599999999999997" stroke-opacity="1" stroke-linecap="round" stroke-linejoin="round" filter="url(#b2)"/>
<path d="M154.00 227.00 C155.67 227.00 160.67 227.01 164.00 227.01 C167.33 227.01 172.33 227.00 174.00 227.00" fill="none" stroke="url(#tg54)" stroke-width="2.0999999999999996" stroke-opacity="1" stroke-linecap="round" stroke-linejoin="round" filter="url(#b2)"/>
<path d="M154.00 230.50 C155.50 230.50 160.00 230.51 163.00 230.51 C166.00 230.51 170.50 230.50 172.00 230.50" fill="none" stroke="url(#tg55)" stroke-width="1.8199999999999998" stroke-opacity="1" stroke-linecap="round" stroke-linejoin="round" filter="url(#b2)"/>
<path d="M154.00 233.50 C155.33 233.50 159.33 233.51 162.00 233.51 C164.67 233.51 168.67 233.50 170.00 233.50" fill="none" stroke="url(#tg56)" stroke-width="1.8199999999999998" stroke-opacity="1" stroke-linecap="round" stroke-linejoin="round" filter="url(#b2)"/>
<path d="M158.00 216.80 C159.67 216.80 164.67 216.81 168.00 216.81 C171.33 216.81 176.33 216.80 178.00 216.80" fill="none" stroke="url(#tg57)" stroke-width="1.8199999999999998" stroke-opacity="1" stroke-linecap="round" stroke-linejoin="round" filter="url(#b2)"/>
<path d="M186.00 208.50 C187.17 208.50 190.67 208.51 193.00 208.51 C195.33 208.51 198.83 208.50 200.00 208.50" fill="none" stroke="url(#tg58)" stroke-width="1.68" stroke-opacity="1" stroke-linecap="round" stroke-linejoin="round" filter="url(#b2)"/>
<path d="M184.00 211.50 C185.17 211.50 188.67 211.51 191.00 211.51 C193.33 211.51 196.83 211.50 198.00 211.50" fill="none" stroke="url(#tg59)" stroke-width="1.68" stroke-opacity="1" stroke-linecap="round" stroke-linejoin="round" filter="url(#b2)"/>
<path d="M220.00 206.50 C222.50 206.50 230.00 206.51 235.00 206.51 C240.00 206.51 247.50 206.50 250.00 206.50" fill="none" stroke="url(#tg60)" stroke-width="1.68" stroke-opacity="1" stroke-linecap="round" stroke-linejoin="round" filter="url(#b2)"/>
<path d="M206.00 218.80 C206.82 219.35 209.32 221.07 210.90 222.10 C212.48 223.13 214.02 224.05 215.50 225.00 C216.98 225.95 218.23 226.70 219.80 227.80 C221.37 228.90 223.42 230.50 224.90 231.60 C226.38 232.70 227.22 233.20 228.70 234.40 C230.18 235.60 231.67 237.17 233.80 238.80 C235.93 240.43 238.75 242.47 241.50 244.20 C244.25 245.93 248.13 247.97 250.30 249.20 C252.47 250.43 253.80 251.20 254.50 251.60" fill="none" stroke="url(#tg61)" stroke-width="2.0999999999999996" stroke-opacity="1" stroke-linecap="round" stroke-linejoin="round" filter="url(#b2)"/>
<path d="M160.00 245.60 C160.45 245.32 161.20 244.85 162.70 243.90 C164.20 242.95 166.87 241.27 169.00 239.90 C171.13 238.53 173.67 236.82 175.50 235.70 C177.33 234.58 178.32 234.02 180.00 233.20 C181.68 232.38 183.60 231.67 185.60 230.80 C187.60 229.93 189.87 228.78 192.00 228.00 C194.13 227.22 197.33 226.42 198.40 226.10" fill="none" stroke="url(#tg62)" stroke-width="2.2" stroke-opacity="1" stroke-linecap="round" stroke-linejoin="round" filter="url(#b1)"/>
<path d="M176.00 234.30 C176.97 233.72 179.97 231.88 181.80 230.80 C183.63 229.72 185.30 228.67 187.00 227.80 C188.70 226.93 190.33 226.30 192.00 225.60 C193.67 224.90 195.50 224.13 197.00 223.60 C198.50 223.07 199.83 222.70 201.00 222.40 C202.17 222.10 203.50 221.90 204.00 221.80" fill="none" stroke="url(#tg63)" stroke-width="1.9" stroke-opacity="1" stroke-linecap="round" stroke-linejoin="round" filter="url(#b1)"/>
<path d="M180.00 230.50 C180.67 229.97 182.63 228.30 184.00 227.30 C185.37 226.30 186.87 225.30 188.20 224.50 C189.53 223.70 190.53 223.22 192.00 222.50 C193.47 221.78 195.50 220.85 197.00 220.20 C198.50 219.55 199.50 219.05 201.00 218.60 C202.50 218.15 204.67 217.72 206.00 217.50 C207.33 217.28 208.50 217.33 209.00 217.30" fill="none" stroke="url(#tg64)" stroke-width="2.5" stroke-opacity="1" stroke-linecap="round" stroke-linejoin="round" filter="url(#b1)"/>
<path d="M166.00 239.80 C166.67 239.20 168.37 237.63 170.00 236.20 C171.63 234.77 174.13 232.63 175.80 231.20 C177.47 229.77 178.52 228.77 180.00 227.60 C181.48 226.43 183.37 225.13 184.70 224.20 C186.03 223.27 186.78 222.77 188.00 222.00 C189.22 221.23 190.50 220.37 192.00 219.60 C193.50 218.83 195.50 217.98 197.00 217.40 C198.50 216.82 199.63 216.45 201.00 216.10 C202.37 215.75 204.03 215.43 205.20 215.30 C206.37 215.17 207.12 215.22 208.00 215.30 C208.88 215.38 209.27 215.17 210.50 215.80 C211.73 216.43 214.58 218.55 215.40 219.10" fill="none" stroke="url(#tg65)" stroke-width="2.5" stroke-opacity="1" stroke-linecap="round" stroke-linejoin="round" filter="url(#b1)"/>
<path d="M215.40 219.10 C216.17 219.58 218.52 221.05 220.00 222.00 C221.48 222.95 222.73 223.70 224.30 224.80 C225.87 225.90 227.92 227.50 229.40 228.60 C230.88 229.70 231.72 230.20 233.20 231.40 C234.68 232.60 236.17 234.17 238.30 235.80 C240.43 237.43 243.25 239.47 246.00 241.20 C248.75 242.93 252.63 244.97 254.80 246.20 C256.97 247.43 258.30 248.20 259.00 248.60" fill="none" stroke="url(#tg66)" stroke-width="1.9" stroke-opacity="1" stroke-linecap="round" stroke-linejoin="round" filter="url(#b2)"/>
<path d="M202.00 220.80 C202.67 220.87 204.50 221.00 206.00 221.20 C207.50 221.40 209.02 221.65 211.00 222.00 C212.98 222.35 216.07 222.93 217.90 223.30 C219.73 223.67 221.32 224.05 222.00 224.20" fill="none" stroke="url(#tg67)" stroke-width="1.9" stroke-opacity="1" stroke-linecap="round" stroke-linejoin="round" filter="url(#b1)"/>
<path d="M203.00 223.20 C203.67 223.30 205.50 223.57 207.00 223.80 C208.50 224.03 209.97 224.25 212.00 224.60 C214.03 224.95 217.37 225.55 219.20 225.90 C221.03 226.25 222.37 226.57 223.00 226.70" fill="none" stroke="url(#tg68)" stroke-width="1.8" stroke-opacity="1" stroke-linecap="round" stroke-linejoin="round" filter="url(#b1)"/>
<path d="M203.00 226.20 C203.83 226.32 206.17 226.60 208.00 226.90 C209.83 227.20 211.92 227.62 214.00 228.00 C216.08 228.38 218.17 228.37 220.50 229.20 C222.83 230.03 226.75 232.37 228.00 233.00" fill="none" stroke="url(#tg69)" stroke-width="1.8" stroke-opacity="1" stroke-linecap="round" stroke-linejoin="round" filter="url(#b1)"/>
<path d="M200.00 228.50 C201.17 228.68 204.67 229.25 207.00 229.60 C209.33 229.95 212.17 230.33 214.00 230.60 C215.83 230.87 217.33 231.10 218.00 231.20" fill="none" stroke="url(#tg70)" stroke-width="1.8199999999999998" stroke-opacity="1" stroke-linecap="round" stroke-linejoin="round" filter="url(#b2)"/>
<path d="M207.00 209.20 C207.75 209.20 210.00 209.21 211.50 209.21 C213.00 209.21 215.25 209.20 216.00 209.20" fill="none" stroke="url(#tg71)" stroke-width="1.8199999999999998" stroke-opacity="1" stroke-linecap="round" stroke-linejoin="round" filter="url(#b2)"/>
<path d="M206.00 212.10 C206.75 212.10 209.00 212.11 210.50 212.11 C212.00 212.11 214.25 212.10 215.00 212.10" fill="none" stroke="url(#tg72)" stroke-width="1.4" stroke-opacity="1" stroke-linecap="round" stroke-linejoin="round" filter="url(#b1)"/>
<ellipse cx="218.5" cy="211.2" rx="1.6" ry="0.8" fill="#5c5c5c" fill-opacity="1" filter="url(#b2)"/>
<path d="M249.00 209.20 C249.75 209.20 252.00 209.21 253.50 209.21 C255.00 209.21 257.25 209.20 258.00 209.20" fill="none" stroke="url(#tg73)" stroke-width="1.5" stroke-opacity="1" stroke-linecap="round" stroke-linejoin="round" filter="url(#b1)"/>
<path d="M248.00 212.10 C248.83 212.10 251.33 212.11 253.00 212.11 C254.67 212.11 257.17 212.10 258.00 212.10" fill="none" stroke="url(#tg74)" stroke-width="1.9599999999999997" stroke-opacity="1" stroke-linecap="round" stroke-linejoin="round" filter="url(#b2)"/>
<path d="M250.00 204.20 C250.67 204.20 252.67 204.21 254.00 204.21 C255.33 204.21 257.33 204.20 258.00 204.20" fill="none" stroke="url(#tg75)" stroke-width="1.2" stroke-opacity="1" stroke-linecap="round" stroke-linejoin="round" filter="url(#b1)"/>
<ellipse cx="229.4" cy="212.7" rx="2.2" ry="0.8" fill="#a3a3a3" fill-opacity="1" filter="url(#b2)"/>
<ellipse cx="243.4" cy="214.3" rx="2.2" ry="0.8" fill="#a3a3a3" fill-opacity="1" filter="url(#b2)"/>
<ellipse cx="239.5" cy="222.9" rx="2.2" ry="0.8" fill="#a3a3a3" fill-opacity="1" filter="url(#b2)"/>
<ellipse cx="232" cy="218.5" rx="2.2" ry="0.8" fill="#a3a3a3" fill-opacity="1" filter="url(#b2)"/>
<ellipse cx="248.5" cy="229.3" rx="2.2" ry="0.8" fill="#a3a3a3" fill-opacity="1" filter="url(#b2)"/>
<path d="M232.00 216.50 C233.17 216.50 236.67 216.51 239.00 216.51 C241.33 216.51 244.83 216.50 246.00 216.50" fill="none" stroke="url(#tg76)" stroke-width="1.68" stroke-opacity="1" stroke-linecap="round" stroke-linejoin="round" filter="url(#b2)"/>
<path d="M153.00 239.50 C154.25 239.50 158.00 239.51 160.50 239.51 C163.00 239.51 166.75 239.50 168.00 239.50" fill="none" stroke="url(#tg77)" stroke-width="2.0999999999999996" stroke-opacity="1" stroke-linecap="round" stroke-linejoin="round" filter="url(#b2)"/>
<path d="M164.00 241.70 C165.17 241.70 168.67 241.71 171.00 241.71 C173.33 241.71 176.83 241.70 178.00 241.70" fill="none" stroke="url(#tg78)" stroke-width="1.8199999999999998" stroke-opacity="1" stroke-linecap="round" stroke-linejoin="round" filter="url(#b2)"/>
<ellipse cx="167.8" cy="235.7" rx="2.0" ry="0.8" fill="#a6a6a6" fill-opacity="1" filter="url(#b2)"/>
<path d="M175.50 238.40 L180.50 237.00" fill="none" stroke="#b7b7b7" stroke-width="1.8199999999999998" stroke-opacity="1" stroke-linecap="round" stroke-linejoin="round" filter="url(#b2)"/>
<path d="M178.00 241.80 C178.95 241.63 181.78 241.17 183.70 240.80 C185.62 240.43 188.53 239.80 189.50 239.60" fill="none" stroke="url(#tg79)" stroke-width="1.8" stroke-opacity="1" stroke-linecap="round" stroke-linejoin="round" filter="url(#b1)"/>
<path d="M179.00 244.60 C179.90 244.40 182.57 243.90 184.40 243.40 C186.23 242.90 188.23 242.17 190.00 241.60 C191.77 241.03 193.17 240.35 195.00 240.00 C196.83 239.65 199.00 239.58 201.00 239.50 C203.00 239.42 204.83 239.48 207.00 239.50 C209.17 239.52 212.83 239.58 214.00 239.60" fill="none" stroke="url(#tg80)" stroke-width="1.5" stroke-opacity="1" stroke-linecap="round" stroke-linejoin="round" filter="url(#b1)"/>
<path d="M194.00 235.70 C195.83 235.70 201.33 235.71 205.00 235.71 C208.67 235.71 214.17 235.70 216.00 235.70" fill="none" stroke="url(#tg81)" stroke-width="1.8199999999999998" stroke-opacity="1" stroke-linecap="round" stroke-linejoin="round" filter="url(#b2)"/>
<path d="M199.00 242.10 C200.42 242.10 204.67 242.11 207.50 242.11 C210.33 242.11 214.58 242.10 216.00 242.10" fill="none" stroke="url(#tg82)" stroke-width="1.68" stroke-opacity="1" stroke-linecap="round" stroke-linejoin="round" filter="url(#b2)"/>
<path d="M209.00 246.00 C209.50 245.80 211.00 245.13 212.00 244.80 C213.00 244.47 214.50 244.13 215.00 244.00" fill="none" stroke="#b3b3b3" stroke-width="1.68" stroke-opacity="1" stroke-linecap="round" stroke-linejoin="round" filter="url(#b2)"/>
<path d="M156.40 249.70 C157.17 249.48 159.32 248.93 161.00 248.40 C162.68 247.87 165.58 246.82 166.50 246.50" fill="none" stroke="#b3b3b3" stroke-width="1.8199999999999998" stroke-opacity="1" stroke-linecap="round" stroke-linejoin="round" filter="url(#b2)"/>
<path d="M220.00 239.50 C220.50 239.50 222.00 239.50 223.00 239.50 C224.00 239.50 225.50 239.50 226.00 239.50" fill="none" stroke="url(#tg83)" stroke-width="1.6" stroke-opacity="1" stroke-linecap="round" stroke-linejoin="round" filter="url(#b1)"/>
<ellipse cx="223" cy="237" rx="1.8" ry="0.7" fill="#a8a8a8" fill-opacity="1" filter="url(#b2)"/>
<ellipse cx="224.3" cy="242.7" rx="1.8" ry="0.7" fill="#a8a8a8" fill-opacity="1" filter="url(#b2)"/>
<ellipse cx="237" cy="240.2" rx="1.5" ry="0.7" fill="#bdbdbd" fill-opacity="1" filter="url(#b2)"/>
</g></g>
<rect x="154.5" y="202.7" width="101.80000000000001" height="63.69999999999999" fill="none" stroke="#333" stroke-width="0.25" stroke-opacity="0.6"/>
<text x="153.0" y="47.349999999999994" font-size="5.5" text-anchor="end" font-family="Liberation Serif, serif" font-weight="normal" fill="#2a2a2a" stroke="#2a2a2a" stroke-width="0">5</text>
<text x="153.0" y="62.4" font-size="5.5" text-anchor="end" font-family="Liberation Serif, serif" font-weight="normal" fill="#2a2a2a" stroke="#2a2a2a" stroke-width="0">10</text>
<text x="153.0" y="77.45" font-size="5.5" text-anchor="end" font-family="Liberation Serif, serif" font-weight="normal" fill="#2a2a2a" stroke="#2a2a2a" stroke-width="0">15</text>
<text x="153.0" y="92.5" font-size="5.5" text-anchor="end" font-family="Liberation Serif, serif" font-weight="normal" fill="#2a2a2a" stroke="#2a2a2a" stroke-width="0">20</text>
<text x="167.35" y="100.3" font-size="5.5" text-anchor="middle" font-family="Liberation Serif, serif" font-weight="normal" fill="#2a2a2a" stroke="#2a2a2a" stroke-width="0">10</text>
<text x="181.2" y="100.3" font-size="5.5" text-anchor="middle" font-family="Liberation Serif, serif" font-weight="normal" fill="#2a2a2a" stroke="#2a2a2a" stroke-width="0">20</text>
<text x="195.05" y="100.3" font-size="5.5" text-anchor="middle" font-family="Liberation Serif, serif" font-weight="normal" fill="#2a2a2a" stroke="#2a2a2a" stroke-width="0">30</text>
<text x="208.9" y="100.3" font-size="5.5" text-anchor="middle" font-family="Liberation Serif, serif" font-weight="normal" fill="#2a2a2a" stroke="#2a2a2a" stroke-width="0">40</text>
<text x="222.75" y="100.3" font-size="5.5" text-anchor="middle" font-family="Liberation Serif, serif" font-weight="normal" fill="#2a2a2a" stroke="#2a2a2a" stroke-width="0">50</text>
<text x="236.6" y="100.3" font-size="5.5" text-anchor="middle" font-family="Liberation Serif, serif" font-weight="normal" fill="#2a2a2a" stroke="#2a2a2a" stroke-width="0">60</text>
<text x="250.45" y="100.3" font-size="5.5" text-anchor="middle" font-family="Liberation Serif, serif" font-weight="normal" fill="#2a2a2a" stroke="#2a2a2a" stroke-width="0">70</text>
<text x="205.8" y="107.1" font-size="5.7" text-anchor="middle" font-family="Liberation Serif, serif" font-weight="normal" fill="#111" stroke="#111" stroke-width="0.03">Traces</text>
<text x="146.0" y="63.99999999999999" font-size="5.7" text-anchor="middle" font-family="Liberation Serif, serif" font-weight="normal" fill="#111" stroke="#111" stroke-width="0.03" transform="rotate(-90 146.0 63.99999999999999)">Time (ns)</text>
<rect x="257.6" y="30.4" width="2.5" height="63.4" fill="url(#jetg)"/>
<rect x="257.6" y="30.4" width="2.5" height="63.4" fill="none" stroke="#333" stroke-width="0.2" stroke-opacity="0.6"/>
<text x="153.0" y="131.65" font-size="5.5" text-anchor="end" font-family="Liberation Serif, serif" font-weight="normal" fill="#2a2a2a" stroke="#2a2a2a" stroke-width="0">5</text>
<text x="153.0" y="146.70000000000002" font-size="5.5" text-anchor="end" font-family="Liberation Serif, serif" font-weight="normal" fill="#2a2a2a" stroke="#2a2a2a" stroke-width="0">10</text>
<text x="153.0" y="161.75" font-size="5.5" text-anchor="end" font-family="Liberation Serif, serif" font-weight="normal" fill="#2a2a2a" stroke="#2a2a2a" stroke-width="0">15</text>
<text x="153.0" y="176.8" font-size="5.5" text-anchor="end" font-family="Liberation Serif, serif" font-weight="normal" fill="#2a2a2a" stroke="#2a2a2a" stroke-width="0">20</text>
<text x="167.35" y="184.5" font-size="5.5" text-anchor="middle" font-family="Liberation Serif, serif" font-weight="normal" fill="#2a2a2a" stroke="#2a2a2a" stroke-width="0">10</text>
<text x="181.2" y="184.5" font-size="5.5" text-anchor="middle" font-family="Liberation Serif, serif" font-weight="normal" fill="#2a2a2a" stroke="#2a2a2a" stroke-width="0">20</text>
<text x="195.05" y="184.5" font-size="5.5" text-anchor="middle" font-family="Liberation Serif, serif" font-weight="normal" fill="#2a2a2a" stroke="#2a2a2a" stroke-width="0">30</text>
<text x="208.9" y="184.5" font-size="5.5" text-anchor="middle" font-family="Liberation Serif, serif" font-weight="normal" fill="#2a2a2a" stroke="#2a2a2a" stroke-width="0">40</text>
<text x="222.75" y="184.5" font-size="5.5" text-anchor="middle" font-family="Liberation Serif, serif" font-weight="normal" fill="#2a2a2a" stroke="#2a2a2a" stroke-width="0">50</text>
<text x="236.6" y="184.5" font-size="5.5" text-anchor="middle" font-family="Liberation Serif, serif" font-weight="normal" fill="#2a2a2a" stroke="#2a2a2a" stroke-width="0">60</text>
<text x="250.45" y="184.5" font-size="5.5" text-anchor="middle" font-family="Liberation Serif, serif" font-weight="normal" fill="#2a2a2a" stroke="#2a2a2a" stroke-width="0">70</text>
<text x="205.8" y="191.3" font-size="5.7" text-anchor="middle" font-family="Liberation Serif, serif" font-weight="normal" fill="#111" stroke="#111" stroke-width="0.03">Traces</text>
<text x="146.0" y="148.25" font-size="5.7" text-anchor="middle" font-family="Liberation Serif, serif" font-weight="normal" fill="#111" stroke="#111" stroke-width="0.03" transform="rotate(-90 146.0 148.25)">Time (ns)</text>
<rect x="257.6" y="114.7" width="2.5" height="63.3" fill="url(#jetg)"/>
<rect x="257.6" y="114.7" width="2.5" height="63.3" fill="none" stroke="#333" stroke-width="0.2" stroke-opacity="0.6"/>
<text x="153.0" y="219.65" font-size="5.5" text-anchor="end" font-family="Liberation Serif, serif" font-weight="normal" fill="#2a2a2a" stroke="#2a2a2a" stroke-width="0">5</text>
<text x="153.0" y="234.7" font-size="5.5" text-anchor="end" font-family="Liberation Serif, serif" font-weight="normal" fill="#2a2a2a" stroke="#2a2a2a" stroke-width="0">10</text>
<text x="153.0" y="249.75" font-size="5.5" text-anchor="end" font-family="Liberation Serif, serif" font-weight="normal" fill="#2a2a2a" stroke="#2a2a2a" stroke-width="0">15</text>
<text x="153.0" y="264.8" font-size="5.5" text-anchor="end" font-family="Liberation Serif, serif" font-weight="normal" fill="#2a2a2a" stroke="#2a2a2a" stroke-width="0">20</text>
<text x="167.35" y="272.9" font-size="5.5" text-anchor="middle" font-family="Liberation Serif, serif" font-weight="normal" fill="#2a2a2a" stroke="#2a2a2a" stroke-width="0">10</text>
<text x="181.2" y="272.9" font-size="5.5" text-anchor="middle" font-family="Liberation Serif, serif" font-weight="normal" fill="#2a2a2a" stroke="#2a2a2a" stroke-width="0">20</text>
<text x="195.05" y="272.9" font-size="5.5" text-anchor="middle" font-family="Liberation Serif, serif" font-weight="normal" fill="#2a2a2a" stroke="#2a2a2a" stroke-width="0">30</text>
<text x="208.9" y="272.9" font-size="5.5" text-anchor="middle" font-family="Liberation Serif, serif" font-weight="normal" fill="#2a2a2a" stroke="#2a2a2a" stroke-width="0">40</text>
<text x="222.75" y="272.9" font-size="5.5" text-anchor="middle" font-family="Liberation Serif, serif" font-weight="normal" fill="#2a2a2a" stroke="#2a2a2a" stroke-width="0">50</text>
<text x="236.6" y="272.9" font-size="5.5" text-anchor="middle" font-family="Liberation Serif, serif" font-weight="normal" fill="#2a2a2a" stroke="#2a2a2a" stroke-width="0">60</text>
<text x="250.45" y="272.9" font-size="5.5" text-anchor="middle" font-family="Liberation Serif, serif" font-weight="normal" fill="#2a2a2a" stroke="#2a2a2a" stroke-width="0">70</text>
<text x="205.8" y="279.7" font-size="5.7" text-anchor="middle" font-family="Liberation Serif, serif" font-weight="normal" fill="#111" stroke="#111" stroke-width="0.03">Traces</text>
<text x="146.0" y="236.45" font-size="5.7" text-anchor="middle" font-family="Liberation Serif, serif" font-weight="normal" fill="#111" stroke="#111" stroke-width="0.03" transform="rotate(-90 146.0 236.45)">Time (ns)</text>
<rect x="257.6" y="202.7" width="2.5" height="63.69999999999999" fill="url(#jetg)"/>
<rect x="257.6" y="202.7" width="2.5" height="63.69999999999999" fill="none" stroke="#333" stroke-width="0.2" stroke-opacity="0.6"/>
<text x="261.0" y="32.6" font-size="4.9" text-anchor="start" font-family="Liberation Sans, sans-serif" font-weight="normal" fill="#505050" stroke="#505050" stroke-width="0">0.01</text>
<text x="261.0" y="48.1" font-size="4.9" text-anchor="start" font-family="Liberation Sans, sans-serif" font-weight="normal" fill="#505050" stroke="#505050" stroke-width="0">0.005</text>
<text x="261.0" y="63.699999999999996" font-size="4.9" text-anchor="start" font-family="Liberation Sans, sans-serif" font-weight="normal" fill="#505050" stroke="#505050" stroke-width="0">0</text>
<text x="261.0" y="79.60000000000001" font-size="4.9" text-anchor="start" font-family="Liberation Sans, sans-serif" font-weight="normal" fill="#505050" stroke="#505050" stroke-width="0">-0.005</text>
<text x="261.0" y="95.10000000000001" font-size="4.9" text-anchor="start" font-family="Liberation Sans, sans-serif" font-weight="normal" fill="#505050" stroke="#505050" stroke-width="0">-0.01</text>
<text x="261.0" y="116.9" font-size="4.9" text-anchor="start" font-family="Liberation Sans, sans-serif" font-weight="normal" fill="#505050" stroke="#505050" stroke-width="0">0.01</text>
<text x="261.0" y="132.4" font-size="4.9" text-anchor="start" font-family="Liberation Sans, sans-serif" font-weight="normal" fill="#505050" stroke="#505050" stroke-width="0">0.005</text>
<text x="261.0" y="148.0" font-size="4.9" text-anchor="start" font-family="Liberation Sans, sans-serif" font-weight="normal" fill="#505050" stroke="#505050" stroke-width="0">0</text>
<text x="261.0" y="163.8" font-size="4.9" text-anchor="start" font-family="Liberation Sans, sans-serif" font-weight="normal" fill="#505050" stroke="#505050" stroke-width="0">-0.005</text>
<text x="261.0" y="179.20000000000002" font-size="4.9" text-anchor="start" font-family="Liberation Sans, sans-serif" font-weight="normal" fill="#505050" stroke="#505050" stroke-width="0">-0.01</text>
<text x="261.0" y="205.2" font-size="4.6" text-anchor="start" font-family="Liberation Sans, sans-serif" font-weight="normal" fill="#555" stroke="#555" stroke-width="0">5</text>
<text x="262.2" y="201.4" font-size="4.6" font-family="Liberation Sans, sans-serif" fill="#555">×10<tspan dy="-1.7" font-size="3">-3</tspan></text>
<text x="261.2" y="236.2" font-size="5.0" text-anchor="start" font-family="Liberation Sans, sans-serif" font-weight="normal" fill="#444" stroke="#444" stroke-width="0">0</text>
<text x="261.2" y="268.0" font-size="5.0" text-anchor="start" font-family="Liberation Sans, sans-serif" font-weight="normal" fill="#444" stroke="#444" stroke-width="0">-5</text>
<text x="146.5" y="28.9" font-size="8" text-anchor="middle" font-family="Liberation Serif, serif" font-weight="bold" fill="#111" stroke="#111" stroke-width="0.12">(b)</text>
<text x="144.9" y="115.7" font-size="9" text-anchor="middle" font-family="Liberation Serif, serif" font-weight="normal" fill="#111" stroke="#111" stroke-width="0.12">(f)</text>
<text x="144.7" y="203.5" font-size="9" text-anchor="middle" font-family="Liberation Serif, serif" font-weight="normal" fill="#111" stroke="#111" stroke-width="0.12">(j)</text>
<g clip-path="url(#cp7)"><g filter="url(#jf7)">
<rect x="291.2" y="28.4" width="106.60000000000002" height="67.4" fill="#8c8c8c"/>
<path d="M325.00 30.00 C324.88 31.00 324.52 34.17 324.30 36.00 C324.08 37.83 324.00 39.33 323.70 41.00 C323.40 42.67 322.95 44.58 322.50 46.00 C322.05 47.42 321.25 48.92 321.00 49.50" fill="none" stroke="#ababab" stroke-width="1.9" stroke-opacity="1" stroke-linecap="round" stroke-linejoin="round" filter="url(#b2)"/>
<path d="M326.60 38.00 C326.57 39.33 326.47 43.33 326.40 46.00 C326.33 48.67 326.20 51.00 326.20 54.00 C326.20 57.00 326.37 62.33 326.40 64.00" fill="none" stroke="#737373" stroke-width="1.6" stroke-opacity="0.9" stroke-linecap="round" stroke-linejoin="round" filter="url(#b2)"/>
<path d="M322.50 61.00 L322.50 65.00" fill="none" stroke="#707070" stroke-width="2.0" stroke-opacity="0.9" stroke-linecap="round" stroke-linejoin="round" filter="url(#b2)"/>
<path d="M301.00 40.70 C301.72 40.70 303.88 40.67 305.30 40.70 C306.72 40.73 308.80 40.87 309.50 40.90" fill="none" stroke="#757575" stroke-width="1.6" stroke-opacity="0.9" stroke-linecap="round" stroke-linejoin="round" filter="url(#b2)"/>
<path d="M334.00 37.50 C334.50 37.50 336.00 37.45 337.00 37.50 C338.00 37.55 339.50 37.75 340.00 37.80" fill="none" stroke="#787878" stroke-width="1.5" stroke-opacity="0.8" stroke-linecap="round" stroke-linejoin="round" filter="url(#b2)"/>
<path d="M345.00 31.00 C345.00 32.50 344.92 37.17 345.00 40.00 C345.08 42.83 345.42 46.67 345.50 48.00" fill="none" stroke="#808080" stroke-width="1.4" stroke-opacity="0.6" stroke-linecap="round" stroke-linejoin="round" filter="url(#b2)"/>
<path d="M328.00 51.50 C333.75 51.50 351.00 51.51 362.50 51.51 C374.00 51.51 391.25 51.50 397.00 51.50" fill="none" stroke="url(#tg84)" stroke-width="1.8199999999999998" stroke-opacity="1" stroke-linecap="round" stroke-linejoin="round" filter="url(#b2)"/>
<path d="M328.00 55.00 C333.17 55.00 348.67 55.01 359.00 55.01 C369.33 55.01 384.83 55.00 390.00 55.00" fill="none" stroke="url(#tg85)" stroke-width="2.0999999999999996" stroke-opacity="1" stroke-linecap="round" stroke-linejoin="round" filter="url(#b2)"/>
<path d="M313.00 56.60 C312.33 56.97 310.08 58.23 309.00 58.80 C307.92 59.37 307.83 59.43 306.50 60.00 C305.17 60.57 302.68 61.60 301.00 62.20 C299.32 62.80 297.90 63.20 296.40 63.60 C294.90 64.00 292.73 64.43 292.00 64.60" fill="none" stroke="#ababab" stroke-width="1.9" stroke-opacity="1" stroke-linecap="round" stroke-linejoin="round" filter="url(#b2)"/>
<path d="M312.00 58.60 C311.00 59.08 308.17 60.52 306.00 61.50 C303.83 62.48 301.17 63.75 299.00 64.50 C296.83 65.25 294.00 65.75 293.00 66.00" fill="none" stroke="#757575" stroke-width="1.3" stroke-opacity="0.7" stroke-linecap="round" stroke-linejoin="round" filter="url(#b2)"/>
<ellipse cx="311" cy="57.2" rx="1.8" ry="1.2" fill="#616161" fill-opacity="0.9" filter="url(#b2)"/>
<ellipse cx="323.7" cy="56.6" rx="1.1" ry="1.1" fill="#adadad" fill-opacity="1" filter="url(#b2)"/>
<g transform="rotate(-14 317.4 51.2)">
<ellipse cx="317.6" cy="50.8" rx="5.8" ry="3.2" fill="#b0b0b0" fill-opacity="1" filter="url(#b3)"/>
<ellipse cx="317.4" cy="51.2" rx="3.9" ry="1.75" fill="#ffffff" fill-opacity="1" filter="url(#b2)"/>
</g>
<g transform="rotate(-12 316.7 55.2)">
<ellipse cx="316.4" cy="55.7" rx="5.8" ry="3.0" fill="#4f4f4f" fill-opacity="1" filter="url(#b3)"/>
<ellipse cx="316.7" cy="55.2" rx="3.8" ry="1.65" fill="#000000" fill-opacity="1" filter="url(#b2)"/>
</g>
<path d="M294.00 73.50 C298.67 73.50 312.67 73.51 322.00 73.51 C331.33 73.51 345.33 73.50 350.00 73.50" fill="none" stroke="url(#tg86)" stroke-width="2.2399999999999998" stroke-opacity="1" stroke-linecap="round" stroke-linejoin="round" filter="url(#b2)"/>
<path d="M304.00 73.50 C305.83 73.50 311.33 73.51 315.00 73.51 C318.67 73.51 324.17 73.50 326.00 73.50" fill="none" stroke="url(#tg87)" stroke-width="1.68" stroke-opacity="1" stroke-linecap="round" stroke-linejoin="round" filter="url(#b2)"/>
<path d="M346.00 73.60 C346.50 73.43 348.17 73.00 349.00 72.60 C349.83 72.20 350.67 71.43 351.00 71.20" fill="none" stroke="#a3a3a3" stroke-width="1.5" stroke-opacity="1" stroke-linecap="round" stroke-linejoin="round" filter="url(#b2)"/>
<path d="M300.00 70.30 C302.42 70.30 309.67 70.31 314.50 70.31 C319.33 70.31 326.58 70.30 329.00 70.30" fill="none" stroke="url(#tg88)" stroke-width="2.0999999999999996" stroke-opacity="1" stroke-linecap="round" stroke-linejoin="round" filter="url(#b2)"/>
<path d="M338.00 70.00 C338.92 70.00 341.67 70.01 343.50 70.01 C345.33 70.01 348.08 70.00 349.00 70.00" fill="none" stroke="url(#tg89)" stroke-width="1.9599999999999997" stroke-opacity="1" stroke-linecap="round" stroke-linejoin="round" filter="url(#b2)"/>
<path d="M295.00 76.60 C298.25 76.60 308.00 76.61 314.50 76.61 C321.00 76.61 330.75 76.60 334.00 76.60" fill="none" stroke="url(#tg90)" stroke-width="1.9599999999999997" stroke-opacity="1" stroke-linecap="round" stroke-linejoin="round" filter="url(#b2)"/>
<path d="M347.50 77.00 C346.75 77.67 344.52 79.60 343.00 81.00 C341.48 82.40 339.17 84.67 338.40 85.40" fill="none" stroke="#707070" stroke-width="1.5" stroke-opacity="0.9" stroke-linecap="round" stroke-linejoin="round" filter="url(#b2)"/>
<path d="M350.00 77.50 C349.33 78.25 347.33 80.58 346.00 82.00 C344.67 83.42 342.67 85.33 342.00 86.00" fill="none" stroke="#999999" stroke-width="1.3" stroke-opacity="0.8" stroke-linecap="round" stroke-linejoin="round" filter="url(#b2)"/>
<path d="M375.00 77.20 L379.00 78.00" fill="none" stroke="#737373" stroke-width="1.4" stroke-opacity="0.9" stroke-linecap="round" stroke-linejoin="round" filter="url(#b2)"/>
<path d="M381.00 85.50 L386.00 86.50" fill="none" stroke="#737373" stroke-width="1.4" stroke-opacity="0.9" stroke-linecap="round" stroke-linejoin="round" filter="url(#b2)"/>
<path d="M366.00 84.00 L371.00 86.00" fill="none" stroke="#757575" stroke-width="1.3" stroke-opacity="0.8" stroke-linecap="round" stroke-linejoin="round" filter="url(#b2)"/>
<ellipse cx="358.6" cy="68.8" rx="7.6" ry="2.6" fill="#a8a8a8" fill-opacity="1" filter="url(#b3)"/>
<ellipse cx="358.5" cy="69.3" rx="5.2" ry="1.25" fill="#e6e6e6" fill-opacity="1" filter="url(#b2)"/>
<ellipse cx="359" cy="73.2" rx="8.8" ry="2.4" fill="#575757" fill-opacity="1" filter="url(#b3)"/>
<ellipse cx="359" cy="73.0" rx="5.8" ry="1.3" fill="#0a0a0a" fill-opacity="1" filter="url(#b2)"/>
<ellipse cx="359.5" cy="76.9" rx="5.5" ry="1.0" fill="#a3a3a3" fill-opacity="1" filter="url(#b2)"/>
<path d="M367.00 72.80 C368.75 72.80 374.00 72.81 377.50 72.81 C381.00 72.81 386.25 72.80 388.00 72.80" fill="none" stroke="url(#tg91)" stroke-width="1.8199999999999998" stroke-opacity="1" stroke-linecap="round" stroke-linejoin="round" filter="url(#b2)"/>
</g></g>
<rect x="293.2" y="30.4" width="102.60000000000002" height="63.4" fill="none" stroke="#333" stroke-width="0.25" stroke-opacity="0.6"/>
<g clip-path="url(#cp8)"><g filter="url(#jf8)">
<rect x="291.2" y="112.7" width="106.60000000000002" height="67.3" fill="#818181"/>
<path d="M325.20 115.00 C325.10 115.67 324.87 117.67 324.60 119.00 C324.33 120.33 324.12 121.58 323.60 123.00 C323.08 124.42 322.27 126.08 321.50 127.50 C320.73 128.92 320.00 130.27 319.00 131.50 C318.00 132.73 316.75 134.00 315.50 134.90 C314.25 135.80 312.78 136.37 311.50 136.90 C310.22 137.43 309.38 137.73 307.80 138.10 C306.22 138.47 303.90 138.87 302.00 139.10 C300.10 139.33 298.07 139.45 296.40 139.50 C294.73 139.55 292.73 139.42 292.00 139.40" fill="none" stroke="#5c5c5c" stroke-width="1.7" stroke-opacity="1" stroke-linecap="round" stroke-linejoin="round" filter="url(#b2)"/>
<path d="M314.20 131.10 C313.50 131.52 311.48 132.87 310.00 133.60 C308.52 134.33 306.97 135.00 305.30 135.50 C303.63 136.00 301.88 136.35 300.00 136.60 C298.12 136.85 295.00 136.93 294.00 137.00" fill="none" stroke="#9e9e9e" stroke-width="1.4" stroke-opacity="0.9" stroke-linecap="round" stroke-linejoin="round" filter="url(#b2)"/>
<path d="M316.70 136.80 C315.92 137.20 313.70 138.45 312.00 139.20 C310.30 139.95 308.50 140.73 306.50 141.30 C304.50 141.87 301.08 142.38 300.00 142.60" fill="none" stroke="#a1a1a1" stroke-width="1.5" stroke-opacity="0.9" stroke-linecap="round" stroke-linejoin="round" filter="url(#b2)"/>
<ellipse cx="309" cy="142.4" rx="2.4" ry="1.2" fill="#c7c7c7" fill-opacity="1" filter="url(#b2)"/>
<path d="M305.00 124.70 C305.83 124.67 308.17 124.47 310.00 124.50 C311.83 124.53 315.00 124.83 316.00 124.90" fill="none" stroke="#5e5e5e" stroke-width="1.5" stroke-opacity="0.9" stroke-linecap="round" stroke-linejoin="round" filter="url(#b2)"/>
<path d="M351.00 116.00 C350.93 117.00 350.70 120.00 350.60 122.00 C350.50 124.00 350.37 126.00 350.40 128.00 C350.43 130.00 350.73 133.00 350.80 134.00" fill="none" stroke="#5e5e5e" stroke-width="1.6" stroke-opacity="0.9" stroke-linecap="round" stroke-linejoin="round" filter="url(#b2)"/>
<path d="M356.00 129.80 C355.87 128.83 355.30 125.70 355.20 124.00 C355.10 122.30 355.02 120.77 355.40 119.60 C355.78 118.43 356.65 117.67 357.50 117.00 C358.35 116.33 360.00 115.83 360.50 115.60" fill="none" stroke="#a3a3a3" stroke-width="1.4" stroke-opacity="1" stroke-linecap="round" stroke-linejoin="round" filter="url(#b2)"/>
<path d="M362.40 130.50 C362.67 130.00 363.40 128.32 364.00 127.50 C364.60 126.68 364.67 126.03 366.00 125.60 C367.33 125.17 369.10 125.05 372.00 124.90 C374.90 124.75 381.50 124.73 383.40 124.70" fill="none" stroke="#a1a1a1" stroke-width="1.3" stroke-opacity="0.9" stroke-linecap="round" stroke-linejoin="round" filter="url(#b2)"/>
<path d="M368.70 116.00 C368.73 116.67 368.93 118.67 368.90 120.00 C368.87 121.33 368.57 123.33 368.50 124.00" fill="none" stroke="#a1a1a1" stroke-width="1.3" stroke-opacity="0.9" stroke-linecap="round" stroke-linejoin="round" filter="url(#b2)"/>
<path d="M342.60 119.60 C343.00 120.25 344.15 122.22 345.00 123.50 C345.85 124.78 347.25 126.67 347.70 127.30" fill="none" stroke="#a1a1a1" stroke-width="1.3" stroke-opacity="0.9" stroke-linecap="round" stroke-linejoin="round" filter="url(#b2)"/>
<ellipse cx="307.2" cy="120.3" rx="1.8" ry="1.3" fill="#a1a1a1" fill-opacity="1" filter="url(#b2)"/>
<ellipse cx="330.7" cy="122.8" rx="1.8" ry="1.4" fill="#a1a1a1" fill-opacity="1" filter="url(#b2)"/>
<ellipse cx="340.6" cy="128.5" rx="1.8" ry="1.6" fill="#adadad" fill-opacity="1" filter="url(#b2)"/>
<path d="M314.6 130.6 L322.6 115.4" fill="none" stroke="url(#tg92)" stroke-width="2.9" stroke-opacity="1" stroke-linecap="butt" stroke-linejoin="round" filter="url(#b1)"/>
<path d="M315.4 135.8 L326.4 114.8" fill="none" stroke="url(#tg93)" stroke-width="2.6" stroke-opacity="1" stroke-linecap="butt" stroke-linejoin="round" filter="url(#b1)"/>
<ellipse cx="321.9" cy="131.7" rx="1.3" ry="1.0" fill="#b8b8b8" fill-opacity="1" filter="url(#b2)"/>
<path d="M326.3 143.8 L339.8 129.4" fill="none" stroke="url(#tg94)" stroke-width="1.9" stroke-opacity="1" stroke-linecap="butt" stroke-linejoin="round" filter="url(#b2)"/>
<path d="M326.2 149.2 L343.4 131.2" fill="none" stroke="url(#tg95)" stroke-width="3.0" stroke-opacity="1" stroke-linecap="butt" stroke-linejoin="round" filter="url(#b1)"/>
<path d="M327.2 154.2 L347.4 133.4" fill="none" stroke="url(#tg96)" stroke-width="3.0" stroke-opacity="1" stroke-linecap="butt" stroke-linejoin="round" filter="url(#b1)"/>
<path d="M328.8 156.8 L349.0 136.8" fill="none" stroke="url(#tg97)" stroke-width="2.2" stroke-opacity="1" stroke-linecap="butt" stroke-linejoin="round" filter="url(#b1)"/>
<path d="M354.0 130.1 L375 140.3" fill="none" stroke="url(#tg98)" stroke-width="2.2" stroke-opacity="1" stroke-linecap="butt" stroke-linejoin="round" filter="url(#b1)"/>
<path d="M352.4 133.4 L377 145.2" fill="none" stroke="url(#tg99)" stroke-width="2.7" stroke-opacity="1" stroke-linecap="butt" stroke-linejoin="round" filter="url(#b1)"/>
<path d="M351 136.6 L367 144.6" fill="none" stroke="url(#tg100)" stroke-width="1.5" stroke-opacity="1" stroke-linecap="butt" stroke-linejoin="round" filter="url(#b2)"/>
<ellipse cx="329.5" cy="158.5" rx="4.2" ry="1.4" fill="#474747" fill-opacity="1" filter="url(#b2)"/>
<g transform="rotate(16 307.8 158.3)">
<ellipse cx="307.8" cy="158.3" rx="5.2" ry="1.5" fill="#cccccc" fill-opacity="1" filter="url(#b2)"/>
</g>
<ellipse cx="344.7" cy="158" rx="4.6" ry="1.5" fill="#cccccc" fill-opacity="1" filter="url(#b2)"/>
<ellipse cx="343.5" cy="161.7" rx="3.5" ry="1.0" fill="#5e5e5e" fill-opacity="1" filter="url(#b2)"/>
<ellipse cx="319.3" cy="161" rx="3.5" ry="1.0" fill="#616161" fill-opacity="1" filter="url(#b2)"/>
<ellipse cx="327" cy="162.6" rx="3" ry="0.9" fill="#9e9e9e" fill-opacity="1" filter="url(#b2)"/>
<ellipse cx="357" cy="156.5" rx="3.2" ry="1.0" fill="#a8a8a8" fill-opacity="1" filter="url(#b2)"/>
<ellipse cx="365" cy="159.5" rx="3.5" ry="1.0" fill="#5c5c5c" fill-opacity="1" filter="url(#b2)"/>
<ellipse cx="344" cy="160.5" rx="2" ry="0.8" fill="#666666" fill-opacity="1" filter="url(#b2)"/>
<ellipse cx="343.5" cy="153.8" rx="3.5" ry="0.9" fill="#adadad" fill-opacity="1" filter="url(#b2)"/>
<ellipse cx="361" cy="152.5" rx="3" ry="0.9" fill="#9e9e9e" fill-opacity="1" filter="url(#b2)"/>
</g></g>
<rect x="293.2" y="114.7" width="102.60000000000002" height="63.3" fill="none" stroke="#333" stroke-width="0.25" stroke-opacity="0.6"/>
<g clip-path="url(#cp9)"><g filter="url(#jf9)">
<rect x="291.2" y="200.7" width="106.60000000000002" height="67.69999999999999" fill="#6b6b6b"/>
<rect x="291.2" y="200.7" width="106.60000000000002" height="67.69999999999999" fill="url(#gk)"/>
<path d="M327.8 244.4 A16 12.0 0 0 1 346.2 214.5" fill="none" stroke="#5c5c5c" stroke-width="1.6" stroke-opacity="0.5" filter="url(#b3)"/>
<path d="M320.2 243.6 A24 18.0 0 0 1 347.8 208.7" fill="none" stroke="#5c5c5c" stroke-width="1.6" stroke-opacity="0.45" filter="url(#b3)"/>
<path d="M311.6 242.7 A33 24.8 0 0 1 349.6 202.2" fill="none" stroke="#5c5c5c" stroke-width="1.6" stroke-opacity="0.4" filter="url(#b3)"/>
<path d="M302.1 241.7 A43 32.2 0 0 1 351.6 195.0" fill="none" stroke="#5c5c5c" stroke-width="1.6" stroke-opacity="0.35" filter="url(#b3)"/>
<path d="M388.00 209.00 L379.50 229.50" fill="none" stroke="#454545" stroke-width="1.8" stroke-opacity="0.85" stroke-linecap="round" stroke-linejoin="round" filter="url(#b3)"/>
<path d="M391.00 207.00 L386.00 219.00" fill="none" stroke="#454545" stroke-width="1.8" stroke-opacity="0.85" stroke-linecap="round" stroke-linejoin="round" filter="url(#b3)"/>
<path d="M376.00 212.00 L371.00 224.00" fill="none" stroke="#454545" stroke-width="1.8" stroke-opacity="0.85" stroke-linecap="round" stroke-linejoin="round" filter="url(#b3)"/>
<path d="M367.00 211.00 L363.00 221.00" fill="none" stroke="#454545" stroke-width="1.8" stroke-opacity="0.85" stroke-linecap="round" stroke-linejoin="round" filter="url(#b3)"/>
<path d="M394.00 222.00 L388.00 238.00" fill="none" stroke="#454545" stroke-width="1.8" stroke-opacity="0.85" stroke-linecap="round" stroke-linejoin="round" filter="url(#b3)"/>
<path d="M381.00 232.00 L375.00 241.00" fill="none" stroke="#454545" stroke-width="1.8" stroke-opacity="0.85" stroke-linecap="round" stroke-linejoin="round" filter="url(#b3)"/>
<ellipse cx="370.6" cy="243.4" rx="3.4" ry="1.1" fill="#404040" fill-opacity="1" filter="url(#b2)"/>
<ellipse cx="378.3" cy="244.6" rx="3.4" ry="1.1" fill="#404040" fill-opacity="1" filter="url(#b2)"/>
<ellipse cx="387.2" cy="246" rx="3.4" ry="1.1" fill="#404040" fill-opacity="1" filter="url(#b2)"/>
<ellipse cx="372" cy="250.4" rx="3.4" ry="1.1" fill="#404040" fill-opacity="1" filter="url(#b2)"/>
<ellipse cx="380" cy="251.5" rx="3.4" ry="1.1" fill="#404040" fill-opacity="1" filter="url(#b2)"/>
<path d="M298.00 243.60 C299.17 243.70 302.67 243.80 305.00 244.20 C307.33 244.60 309.50 245.50 312.00 246.00 C314.50 246.50 316.67 246.93 320.00 247.20 C323.33 247.47 329.00 247.87 332.00 247.60 C335.00 247.33 337.00 245.93 338.00 245.60" fill="none" stroke="#4f4f4f" stroke-width="1.7" stroke-opacity="0.9" stroke-linecap="round" stroke-linejoin="round" filter="url(#b2)"/>
<path d="M320 247.2 L335 247.6" fill="none" stroke="url(#tg101)" stroke-width="1.9" stroke-opacity="1" stroke-linecap="butt" stroke-linejoin="round" filter="url(#b2)"/>
<g transform="rotate(12 302.7 246.5)">
<ellipse cx="302.7" cy="246.5" rx="4.6" ry="1.2" fill="#b8b8b8" fill-opacity="1" filter="url(#b2)"/>
</g>
<ellipse cx="320.5" cy="242.5" rx="1.5" ry="1.0" fill="#a3a3a3" fill-opacity="1" filter="url(#b2)"/>
<ellipse cx="358.5" cy="247.2" rx="3.6" ry="1.3" fill="#242424" fill-opacity="1" filter="url(#b2)"/>
<path d="M337.50 235.40 C337.83 235.93 338.42 237.87 339.50 238.60 C340.58 239.33 342.50 239.82 344.00 239.80 C345.50 239.78 347.33 239.13 348.50 238.50 C349.67 237.87 350.48 236.98 351.00 236.00 C351.52 235.02 351.50 233.17 351.60 232.60" fill="none" stroke="#424242" stroke-width="1.5" stroke-opacity="0.9" stroke-linecap="round" stroke-linejoin="round" filter="url(#b2)"/>
<path d="M350.40 235.50 C350.67 236.08 351.73 237.67 352.00 239.00 C352.27 240.33 352.00 242.75 352.00 243.50" fill="none" stroke="#4a4a4a" stroke-width="1.3" stroke-opacity="0.8" stroke-linecap="round" stroke-linejoin="round" filter="url(#b2)"/>
<path d="M336.00 238.00 C335.83 238.67 334.92 240.83 335.00 242.00 C335.08 243.17 336.25 244.50 336.50 245.00" fill="none" stroke="#4d4d4d" stroke-width="1.3" stroke-opacity="0.7" stroke-linecap="round" stroke-linejoin="round" filter="url(#b2)"/>
<ellipse cx="343.1" cy="217.6" rx="3.4" ry="3.3" fill="#b0b0b0" fill-opacity="1" filter="url(#b3)"/>
<ellipse cx="343.1" cy="217.6" rx="2.2" ry="2.1" fill="#ffffff" fill-opacity="1" filter="url(#b2)"/>
<path d="M353.0 211.2 L346.4 220.6" fill="none" stroke="url(#tg102)" stroke-width="2.1" stroke-opacity="1" stroke-linecap="butt" stroke-linejoin="round" filter="url(#b1)"/>
<ellipse cx="342.6" cy="222.9" rx="2.7" ry="2.1" fill="#000000" fill-opacity="1" filter="url(#b1)"/>
<ellipse cx="336.7" cy="217.2" rx="0.9" ry="1.6" fill="#292929" fill-opacity="1" filter="url(#b2)"/>
<path d="M342.60 223.00 C342.78 223.62 343.97 225.60 343.70 226.70 C343.43 227.80 341.45 229.12 341.00 229.60" fill="none" stroke="#000000" stroke-width="2.4" stroke-opacity="1" stroke-linecap="round" stroke-linejoin="round" filter="url(#b1)"/>
<ellipse cx="341.0" cy="230.0" rx="4.1" ry="1.9" fill="#000000" fill-opacity="1" filter="url(#b1)"/>
<path d="M343.70 226.70 C344.08 227.18 345.32 228.78 346.00 229.60 C346.68 230.42 347.50 231.27 347.80 231.60" fill="none" stroke="#050505" stroke-width="2.0" stroke-opacity="1" stroke-linecap="round" stroke-linejoin="round" filter="url(#b1)"/>
<ellipse cx="338.3" cy="221.6" rx="1.3" ry="1.05" fill="#b3b3b3" fill-opacity="1" filter="url(#b2)"/>
<ellipse cx="347.5" cy="222.9" rx="1.6900000000000002" ry="1.3650000000000002" fill="#b8b8b8" fill-opacity="1" filter="url(#b2)"/>
<ellipse cx="340.3" cy="226.5" rx="1.56" ry="1.26" fill="#c2c2c2" fill-opacity="1" filter="url(#b2)"/>
<ellipse cx="349.5" cy="228.3" rx="1.9500000000000002" ry="1.5750000000000002" fill="#c7c7c7" fill-opacity="1" filter="url(#b2)"/>
<ellipse cx="334.2" cy="230.3" rx="1.8199999999999998" ry="1.47" fill="#b3b3b3" fill-opacity="1" filter="url(#b2)"/>
<ellipse cx="343.7" cy="233.4" rx="2.7300000000000004" ry="2.205" fill="#c2c2c2" fill-opacity="1" filter="url(#b2)"/>
<ellipse cx="343.5" cy="242.5" rx="4.2" ry="1.5" fill="#080808" fill-opacity="1" filter="url(#b1)"/>
<ellipse cx="344.2" cy="246.6" rx="5.0" ry="1.8" fill="#b3b3b3" fill-opacity="1" filter="url(#b3)"/>
<ellipse cx="344.2" cy="246.5" rx="3.0" ry="0.9" fill="#e0e0e0" fill-opacity="1" filter="url(#b2)"/>
</g></g>
<rect x="293.2" y="202.7" width="102.60000000000002" height="63.69999999999999" fill="none" stroke="#333" stroke-width="0.25" stroke-opacity="0.6"/>
<text x="292.0" y="46.05" font-size="5.4" text-anchor="end" font-family="Liberation Serif, serif" font-weight="normal" fill="#2a2a2a" stroke="#2a2a2a" stroke-width="0">0.2</text>
<path d="M293.2 44.3 h1" stroke="#333" stroke-width="0.25"/>
<text x="292.0" y="59.95" font-size="5.4" text-anchor="end" font-family="Liberation Serif, serif" font-weight="normal" fill="#2a2a2a" stroke="#2a2a2a" stroke-width="0">0.4</text>
<path d="M293.2 58.2 h1" stroke="#333" stroke-width="0.25"/>
<text x="292.0" y="73.85" font-size="5.4" text-anchor="end" font-family="Liberation Serif, serif" font-weight="normal" fill="#2a2a2a" stroke="#2a2a2a" stroke-width="0">0.6</text>
<path d="M293.2 72.1 h1" stroke="#333" stroke-width="0.25"/>
<text x="292.0" y="87.75" font-size="5.4" text-anchor="end" font-family="Liberation Serif, serif" font-weight="normal" fill="#2a2a2a" stroke="#2a2a2a" stroke-width="0">0.8</text>
<path d="M293.2 86.0 h1" stroke="#333" stroke-width="0.25"/>
<text x="322.55" y="100.7" font-size="5.4" text-anchor="middle" font-family="Liberation Serif, serif" font-weight="normal" fill="#2a2a2a" stroke="#2a2a2a" stroke-width="0">0.5</text>
<path d="M322.55 93.8 v-1" stroke="#333" stroke-width="0.25"/>
<text x="352.9" y="100.7" font-size="5.4" text-anchor="middle" font-family="Liberation Serif, serif" font-weight="normal" fill="#2a2a2a" stroke="#2a2a2a" stroke-width="0">1</text>
<path d="M352.9 93.8 v-1" stroke="#333" stroke-width="0.25"/>
<text x="383.25" y="100.7" font-size="5.4" text-anchor="middle" font-family="Liberation Serif, serif" font-weight="normal" fill="#2a2a2a" stroke="#2a2a2a" stroke-width="0">1.5</text>
<path d="M383.25 93.8 v-1" stroke="#333" stroke-width="0.25"/>
<text x="344.4" y="106.89999999999999" font-size="5.6" text-anchor="middle" font-family="Liberation Serif, serif" font-weight="normal" fill="#111" stroke="#111" stroke-width="0.03">Y-Direction</text>
<text x="283.3" y="62.39999999999999" font-size="5.5" text-anchor="middle" font-family="Liberation Serif, serif" font-weight="normal" fill="#111" stroke="#111" stroke-width="0.03" transform="rotate(-90 283.3 62.39999999999999)">X-Direction</text>
<rect x="397.0" y="30.4" width="3.0" height="63.4" fill="url(#jetg)"/>
<rect x="397.0" y="30.4" width="3.0" height="63.4" fill="none" stroke="#333" stroke-width="0.2" stroke-opacity="0.6"/>
<text x="292.0" y="130.35" font-size="5.4" text-anchor="end" font-family="Liberation Serif, serif" font-weight="normal" fill="#2a2a2a" stroke="#2a2a2a" stroke-width="0">0.2</text>
<path d="M293.2 128.6 h1" stroke="#333" stroke-width="0.25"/>
<text x="292.0" y="144.25" font-size="5.4" text-anchor="end" font-family="Liberation Serif, serif" font-weight="normal" fill="#2a2a2a" stroke="#2a2a2a" stroke-width="0">0.4</text>
<path d="M293.2 142.5 h1" stroke="#333" stroke-width="0.25"/>
<text x="292.0" y="158.15" font-size="5.4" text-anchor="end" font-family="Liberation Serif, serif" font-weight="normal" fill="#2a2a2a" stroke="#2a2a2a" stroke-width="0">0.6</text>
<path d="M293.2 156.4 h1" stroke="#333" stroke-width="0.25"/>
<text x="292.0" y="172.05" font-size="5.4" text-anchor="end" font-family="Liberation Serif, serif" font-weight="normal" fill="#2a2a2a" stroke="#2a2a2a" stroke-width="0">0.8</text>
<path d="M293.2 170.3 h1" stroke="#333" stroke-width="0.25"/>
<text x="322.55" y="184.9" font-size="5.4" text-anchor="middle" font-family="Liberation Serif, serif" font-weight="normal" fill="#2a2a2a" stroke="#2a2a2a" stroke-width="0">0.5</text>
<path d="M322.55 178.0 v-1" stroke="#333" stroke-width="0.25"/>
<text x="352.9" y="184.9" font-size="5.4" text-anchor="middle" font-family="Liberation Serif, serif" font-weight="normal" fill="#2a2a2a" stroke="#2a2a2a" stroke-width="0">1</text>
<path d="M352.9 178.0 v-1" stroke="#333" stroke-width="0.25"/>
<text x="383.25" y="184.9" font-size="5.4" text-anchor="middle" font-family="Liberation Serif, serif" font-weight="normal" fill="#2a2a2a" stroke="#2a2a2a" stroke-width="0">1.5</text>
<path d="M383.25 178.0 v-1" stroke="#333" stroke-width="0.25"/>
<text x="344.4" y="191.1" font-size="5.6" text-anchor="middle" font-family="Liberation Serif, serif" font-weight="normal" fill="#111" stroke="#111" stroke-width="0.03">Y-Direction</text>
<text x="283.3" y="146.65" font-size="5.5" text-anchor="middle" font-family="Liberation Serif, serif" font-weight="normal" fill="#111" stroke="#111" stroke-width="0.03" transform="rotate(-90 283.3 146.65)">X-Direction</text>
<rect x="397.0" y="114.7" width="3.0" height="63.3" fill="url(#jetg)"/>
<rect x="397.0" y="114.7" width="3.0" height="63.3" fill="none" stroke="#333" stroke-width="0.2" stroke-opacity="0.6"/>
<text x="292.0" y="218.35" font-size="5.4" text-anchor="end" font-family="Liberation Serif, serif" font-weight="normal" fill="#2a2a2a" stroke="#2a2a2a" stroke-width="0">0.2</text>
<path d="M293.2 216.6 h1" stroke="#333" stroke-width="0.25"/>
<text x="292.0" y="232.25" font-size="5.4" text-anchor="end" font-family="Liberation Serif, serif" font-weight="normal" fill="#2a2a2a" stroke="#2a2a2a" stroke-width="0">0.4</text>
<path d="M293.2 230.5 h1" stroke="#333" stroke-width="0.25"/>
<text x="292.0" y="246.14999999999998" font-size="5.4" text-anchor="end" font-family="Liberation Serif, serif" font-weight="normal" fill="#2a2a2a" stroke="#2a2a2a" stroke-width="0">0.6</text>
<path d="M293.2 244.39999999999998 h1" stroke="#333" stroke-width="0.25"/>
<text x="292.0" y="260.05" font-size="5.4" text-anchor="end" font-family="Liberation Serif, serif" font-weight="normal" fill="#2a2a2a" stroke="#2a2a2a" stroke-width="0">0.8</text>
<path d="M293.2 258.3 h1" stroke="#333" stroke-width="0.25"/>
<text x="322.55" y="273.29999999999995" font-size="5.4" text-anchor="middle" font-family="Liberation Serif, serif" font-weight="normal" fill="#2a2a2a" stroke="#2a2a2a" stroke-width="0">0.5</text>
<path d="M322.55 266.4 v-1" stroke="#333" stroke-width="0.25"/>
<text x="352.9" y="273.29999999999995" font-size="5.4" text-anchor="middle" font-family="Liberation Serif, serif" font-weight="normal" fill="#2a2a2a" stroke="#2a2a2a" stroke-width="0">1</text>
<path d="M352.9 266.4 v-1" stroke="#333" stroke-width="0.25"/>
<text x="383.25" y="273.29999999999995" font-size="5.4" text-anchor="middle" font-family="Liberation Serif, serif" font-weight="normal" fill="#2a2a2a" stroke="#2a2a2a" stroke-width="0">1.5</text>
<path d="M383.25 266.4 v-1" stroke="#333" stroke-width="0.25"/>
<text x="344.4" y="279.5" font-size="5.6" text-anchor="middle" font-family="Liberation Serif, serif" font-weight="normal" fill="#111" stroke="#111" stroke-width="0.03">Y-Direction</text>
<text x="283.3" y="234.85" font-size="5.5" text-anchor="middle" font-family="Liberation Serif, serif" font-weight="normal" fill="#111" stroke="#111" stroke-width="0.03" transform="rotate(-90 283.3 234.85)">X-Direction</text>
<rect x="397.0" y="202.7" width="3.0" height="63.69999999999999" fill="url(#jetg)"/>
<rect x="397.0" y="202.7" width="3.0" height="63.69999999999999" fill="none" stroke="#333" stroke-width="0.2" stroke-opacity="0.6"/>
<text x="285.6" y="29.2" font-size="8" text-anchor="middle" font-family="Liberation Serif, serif" font-weight="bold" fill="#111" stroke="#111" stroke-width="0.12">(c)</text>
<text x="286.0" y="115.2" font-size="9" text-anchor="middle" font-family="Liberation Serif, serif" font-weight="normal" fill="#111" stroke="#111" stroke-width="0.12">(g)</text>
<text x="286.0" y="203.2" font-size="8" text-anchor="middle" font-family="Liberation Serif, serif" font-weight="bold" fill="#111" stroke="#111" stroke-width="0.12">(k)</text>
<text x="401.2" y="36.099999999999994" font-size="5.4" text-anchor="start" font-family="Liberation Serif, serif" font-weight="normal" fill="#444" stroke="#444" stroke-width="0">0.2</text>
<text x="401.2" y="49.099999999999994" font-size="5.4" text-anchor="start" font-family="Liberation Serif, serif" font-weight="normal" fill="#444" stroke="#444" stroke-width="0">0.1</text>
<text x="401.2" y="62.4" font-size="5.4" text-anchor="start" font-family="Liberation Serif, serif" font-weight="normal" fill="#444" stroke="#444" stroke-width="0">0</text>
<text x="401.2" y="76.3" font-size="5.4" text-anchor="start" font-family="Liberation Serif, serif" font-weight="normal" fill="#444" stroke="#444" stroke-width="0">-0.1</text>
<text x="401.2" y="89.39999999999999" font-size="5.4" text-anchor="start" font-family="Liberation Serif, serif" font-weight="normal" fill="#444" stroke="#444" stroke-width="0">-0.2</text>
<text x="401.2" y="129.8" font-size="5.4" text-anchor="start" font-family="Liberation Serif, serif" font-weight="normal" fill="#444" stroke="#444" stroke-width="0">0.05</text>
<text x="401.2" y="148.20000000000002" font-size="5.4" text-anchor="start" font-family="Liberation Serif, serif" font-weight="normal" fill="#444" stroke="#444" stroke-width="0">0</text>
<text x="401.2" y="166.8" font-size="5.4" text-anchor="start" font-family="Liberation Serif, serif" font-weight="normal" fill="#444" stroke="#444" stroke-width="0">-0.05</text>
<text x="401.2" y="224.4" font-size="5.4" text-anchor="start" font-family="Liberation Serif, serif" font-weight="normal" fill="#444" stroke="#444" stroke-width="0">0.05</text>
<text x="401.2" y="243.20000000000002" font-size="5.4" text-anchor="start" font-family="Liberation Serif, serif" font-weight="normal" fill="#444" stroke="#444" stroke-width="0">0</text>
<text x="401.2" y="261.8" font-size="5.4" text-anchor="start" font-family="Liberation Serif, serif" font-weight="normal" fill="#444" stroke="#444" stroke-width="0">-0.05</text>
<g clip-path="url(#cp10)"><g filter="url(#jf10)">
<rect x="425.6" y="28.4" width="103.0" height="67.4" fill="#838383"/>
<ellipse cx="473.4" cy="37.2" rx="2.08" ry="1.0" fill="#6b6b6b" fill-opacity="1" filter="url(#b2)"/>
<ellipse cx="464.5" cy="38.8" rx="1.6900000000000002" ry="1.0" fill="#6b6b6b" fill-opacity="1" filter="url(#b2)"/>
<ellipse cx="481" cy="52" rx="1.4300000000000002" ry="1.0" fill="#6b6b6b" fill-opacity="1" filter="url(#b2)"/>
<ellipse cx="488.6" cy="52" rx="1.4300000000000002" ry="1.0" fill="#6b6b6b" fill-opacity="1" filter="url(#b2)"/>
<ellipse cx="484.2" cy="43.3" rx="1.3" ry="1.0" fill="#6b6b6b" fill-opacity="1" filter="url(#b2)"/>
<ellipse cx="437.7" cy="40.7" rx="1.9500000000000002" ry="1.0" fill="#6b6b6b" fill-opacity="1" filter="url(#b2)"/>
<ellipse cx="432.6" cy="60.5" rx="2.8600000000000003" ry="1.0" fill="#6b6b6b" fill-opacity="1" filter="url(#b2)"/>
<ellipse cx="473.8" cy="66.7" rx="1.56" ry="1.0" fill="#6b6b6b" fill-opacity="1" filter="url(#b2)"/>
<ellipse cx="478.3" cy="69.7" rx="1.3" ry="1.0" fill="#6b6b6b" fill-opacity="1" filter="url(#b2)"/>
<ellipse cx="500.5" cy="68.8" rx="1.6900000000000002" ry="1.0" fill="#6b6b6b" fill-opacity="1" filter="url(#b2)"/>
<ellipse cx="517" cy="76" rx="2.3400000000000003" ry="1.0" fill="#6b6b6b" fill-opacity="1" filter="url(#b2)"/>
<ellipse cx="510.7" cy="79.4" rx="2.08" ry="1.0" fill="#6b6b6b" fill-opacity="1" filter="url(#b2)"/>
<ellipse cx="519.6" cy="84.7" rx="3.3800000000000003" ry="1.0" fill="#6b6b6b" fill-opacity="1" filter="url(#b2)"/>
<ellipse cx="473.8" cy="84.7" rx="3.12" ry="1.0" fill="#6b6b6b" fill-opacity="1" filter="url(#b2)"/>
<ellipse cx="485.3" cy="84" rx="2.8600000000000003" ry="1.0" fill="#6b6b6b" fill-opacity="1" filter="url(#b2)"/>
<ellipse cx="510" cy="87" rx="2.3400000000000003" ry="1.0" fill="#6b6b6b" fill-opacity="1" filter="url(#b2)"/>
<ellipse cx="504.4" cy="89.8" rx="2.6" ry="1.0" fill="#6b6b6b" fill-opacity="1" filter="url(#b2)"/>
<ellipse cx="463.2" cy="74.8" rx="3.12" ry="1.0" fill="#6b6b6b" fill-opacity="1" filter="url(#b2)"/>
<ellipse cx="469.5" cy="81.5" rx="1.9500000000000002" ry="1.0" fill="#6b6b6b" fill-opacity="1" filter="url(#b2)"/>
<ellipse cx="431.4" cy="60.5" rx="1.9500000000000002" ry="1.0" fill="#6b6b6b" fill-opacity="1" filter="url(#b2)"/>
<ellipse cx="476.4" cy="74.5" rx="1.9500000000000002" ry="1.0" fill="#9e9e9e" fill-opacity="1" filter="url(#b2)"/>
<ellipse cx="499.3" cy="76.5" rx="1.6900000000000002" ry="1.0" fill="#9e9e9e" fill-opacity="1" filter="url(#b2)"/>
<ellipse cx="484" cy="87.9" rx="2.08" ry="1.0" fill="#9e9e9e" fill-opacity="1" filter="url(#b2)"/>
<ellipse cx="475" cy="81" rx="1.56" ry="1.0" fill="#9e9e9e" fill-opacity="1" filter="url(#b2)"/>
<ellipse cx="462.5" cy="66.3" rx="1.3" ry="1.0" fill="#9e9e9e" fill-opacity="1" filter="url(#b2)"/>
<ellipse cx="470.8" cy="77.7" rx="1.56" ry="1.0" fill="#9e9e9e" fill-opacity="1" filter="url(#b2)"/>
<ellipse cx="468.3" cy="84.7" rx="1.8199999999999998" ry="1.0" fill="#9e9e9e" fill-opacity="1" filter="url(#b2)"/>
<ellipse cx="458" cy="40.7" rx="1.1700000000000002" ry="1.0" fill="#9e9e9e" fill-opacity="1" filter="url(#b2)"/>
<ellipse cx="459.6" cy="32.5" rx="1.1700000000000002" ry="1.0" fill="#9e9e9e" fill-opacity="1" filter="url(#b2)"/>
<ellipse cx="477.5" cy="46" rx="1.3" ry="1.0" fill="#9e9e9e" fill-opacity="1" filter="url(#b2)"/>
<path d="M427.00 93.60 C428.50 93.60 433.00 93.61 436.00 93.61 C439.00 93.61 443.50 93.60 445.00 93.60" fill="none" stroke="url(#tg103)" stroke-width="1.68" stroke-opacity="1" stroke-linecap="round" stroke-linejoin="round" filter="url(#b2)"/>
<path d="M454.00 49.40 C454.27 48.93 455.13 47.50 455.60 46.60 C456.07 45.70 456.47 44.85 456.80 44.00 C457.13 43.15 457.47 41.92 457.60 41.50" fill="none" stroke="#9e9e9e" stroke-width="1.5" stroke-opacity="0.9" stroke-linecap="round" stroke-linejoin="round" filter="url(#b2)"/>
<ellipse cx="450.5" cy="58.6" rx="3.0" ry="1.0" fill="#a8a8a8" fill-opacity="1" filter="url(#b2)"/>
<ellipse cx="446.0" cy="56.4" rx="1.6" ry="1.2" fill="#545454" fill-opacity="1" filter="url(#b2)"/>
<g transform="rotate(-18 451.7 51.2)">
<ellipse cx="451.7" cy="51.2" rx="5.0" ry="2.6" fill="#adadad" fill-opacity="1" filter="url(#b2)"/>
<ellipse cx="451.7" cy="51.2" rx="3.8" ry="1.7" fill="#ffffff" fill-opacity="1" filter="url(#b1)"/>
</g>
<g transform="rotate(-14 451.5 55.2)">
<ellipse cx="451.5" cy="55.4" rx="5.0" ry="2.3" fill="#525252" fill-opacity="1" filter="url(#b2)"/>
<ellipse cx="451.5" cy="55.3" rx="3.8" ry="1.55" fill="#000000" fill-opacity="1" filter="url(#b1)"/>
</g>
<ellipse cx="458.7" cy="57.9" rx="1.5" ry="1.4" fill="#bdbdbd" fill-opacity="1" filter="url(#b1)"/>
<ellipse cx="458.3" cy="49.0" rx="1.5" ry="1.5" fill="#666666" fill-opacity="1" filter="url(#b2)"/>
<ellipse cx="492.7" cy="68.8" rx="4.4" ry="1.5" fill="#b3b3b3" fill-opacity="1" filter="url(#b2)"/>
<ellipse cx="492.7" cy="68.8" rx="2.4" ry="0.7" fill="#bdbdbd" fill-opacity="1" filter="url(#b1)"/>
<ellipse cx="493.0" cy="72.9" rx="7.0" ry="1.4" fill="#545454" fill-opacity="1" filter="url(#b2)"/>
<ellipse cx="492.7" cy="72.9" rx="3.4" ry="0.8" fill="#404040" fill-opacity="1" filter="url(#b1)"/>
</g></g>
<rect x="427.6" y="30.4" width="99.0" height="63.4" fill="none" stroke="#333" stroke-width="0.25" stroke-opacity="0.6"/>
<g clip-path="url(#cp11)"><g filter="url(#jf11)">
<rect x="425.6" y="112.7" width="106.19999999999993" height="67.3" fill="#717171"/>
<path d="M450.0 129.3 L457.6 116.6" fill="none" stroke="url(#tg104)" stroke-width="3.1" stroke-opacity="1" stroke-linecap="butt" stroke-linejoin="round" filter="url(#b2)"/>
<path d="M451.6 132.4 L460.2 119.6" fill="none" stroke="url(#tg105)" stroke-width="2.3" stroke-opacity="1" stroke-linecap="butt" stroke-linejoin="round" filter="url(#b1)"/>
<ellipse cx="454.6" cy="132.4" rx="1.2" ry="1.3" fill="#b8b8b8" fill-opacity="1" filter="url(#b1)"/>
<ellipse cx="449.2" cy="129.8" rx="1.0" ry="1.3" fill="#545454" fill-opacity="1" filter="url(#b1)"/>
<path d="M463.0 147.9 L473.6 137.0" fill="none" stroke="url(#tg106)" stroke-width="2.5" stroke-opacity="1" stroke-linecap="butt" stroke-linejoin="round" filter="url(#b1)"/>
<path d="M461.8 152.0 L478.2 136.3" fill="none" stroke="url(#tg107)" stroke-width="2.6" stroke-opacity="1" stroke-linecap="butt" stroke-linejoin="round" filter="url(#b1)"/>
<ellipse cx="473.1" cy="145.7" rx="1.0" ry="1.2" fill="#adadad" fill-opacity="1" filter="url(#b1)"/>
<ellipse cx="468.6" cy="150.3" rx="1.1" ry="1.1" fill="#adadad" fill-opacity="1" filter="url(#b1)"/>
<ellipse cx="491.5" cy="131.3" rx="1.5" ry="1.3" fill="#bdbdbd" fill-opacity="1" filter="url(#b1)"/>
<path d="M487.6 132.8 L510 145.3" fill="none" stroke="url(#tg108)" stroke-width="1.8" stroke-opacity="1" stroke-linecap="butt" stroke-linejoin="round" filter="url(#b1)"/>
<ellipse cx="485.8" cy="124.1" rx="1.4" ry="1.4" fill="#5c5c5c" fill-opacity="1" filter="url(#b2)"/>
<ellipse cx="452" cy="161" rx="1.6" ry="1.6" fill="#666666" fill-opacity="1" filter="url(#b2)"/>
<ellipse cx="451.5" cy="165.5" rx="1.2" ry="1.2" fill="#808080" fill-opacity="1" filter="url(#b2)"/>
<ellipse cx="492" cy="157.5" rx="3" ry="1" fill="#696969" fill-opacity="1" filter="url(#b2)"/>
</g></g>
<rect x="427.6" y="114.7" width="102.19999999999993" height="63.3" fill="none" stroke="#333" stroke-width="0.25" stroke-opacity="0.6"/>
<g clip-path="url(#cp12)"><g filter="url(#jf12)">
<rect x="425.6" y="200.7" width="106.19999999999993" height="67.69999999999999" fill="#777777"/>
<ellipse cx="477.7" cy="217.7" rx="3.0" ry="2.25" fill="#a6a6a6" fill-opacity="1" filter="url(#b2)"/>
<ellipse cx="477.7" cy="217.7" rx="2.0" ry="1.5" fill="#ffffff" fill-opacity="1" filter="url(#b1)"/>
<ellipse cx="481.4" cy="219.3" rx="2.4000000000000004" ry="2.4000000000000004" fill="#595959" fill-opacity="1" filter="url(#b2)"/>
<ellipse cx="481.4" cy="219.3" rx="1.6" ry="1.6" fill="#000000" fill-opacity="1" filter="url(#b1)"/>
<ellipse cx="476.3" cy="222.8" rx="2.55" ry="2.4000000000000004" fill="#595959" fill-opacity="1" filter="url(#b2)"/>
<ellipse cx="476.3" cy="222.8" rx="1.7" ry="1.6" fill="#000000" fill-opacity="1" filter="url(#b1)"/>
<ellipse cx="481.2" cy="223.1" rx="2.4000000000000004" ry="1.9500000000000002" fill="#9e9e9e" fill-opacity="1" filter="url(#b2)"/>
<ellipse cx="481.2" cy="223.1" rx="1.6" ry="1.3" fill="#e6e6e6" fill-opacity="1" filter="url(#b1)"/>
<ellipse cx="474.8" cy="226.6" rx="2.0999999999999996" ry="2.0999999999999996" fill="#9a9a9a" fill-opacity="1" filter="url(#b2)"/>
<ellipse cx="474.8" cy="226.6" rx="1.4" ry="1.4" fill="#d9d9d9" fill-opacity="1" filter="url(#b1)"/>
<ellipse cx="483.1" cy="228.3" rx="2.4000000000000004" ry="1.9500000000000002" fill="#9e9e9e" fill-opacity="1" filter="url(#b2)"/>
<ellipse cx="483.1" cy="228.3" rx="1.6" ry="1.3" fill="#e6e6e6" fill-opacity="1" filter="url(#b1)"/>
<ellipse cx="473.9" cy="230.8" rx="2.25" ry="2.55" fill="#5b5b5b" fill-opacity="1" filter="url(#b2)"/>
<ellipse cx="473.9" cy="230.8" rx="1.5" ry="1.7" fill="#050505" fill-opacity="1" filter="url(#b1)"/>
<ellipse cx="472.9" cy="220.9" rx="1.38" ry="1.2" fill="#b3b3b3" fill-opacity="1" filter="url(#b1)"/>
<ellipse cx="484.7" cy="210.7" rx="1.15" ry="1.0" fill="#adadad" fill-opacity="1" filter="url(#b1)"/>
<ellipse cx="486.3" cy="214.2" rx="1.6099999999999999" ry="1.4" fill="#474747" fill-opacity="1" filter="url(#b1)"/>
<ellipse cx="478.6" cy="227.3" rx="1.7249999999999999" ry="1.5" fill="#4d4d4d" fill-opacity="1" filter="url(#b1)"/>
<ellipse cx="482.5" cy="231.7" rx="1.15" ry="1.0" fill="#4d4d4d" fill-opacity="1" filter="url(#b1)"/>
<ellipse cx="473.5" cy="235.2" rx="1.15" ry="1.0" fill="#adadad" fill-opacity="1" filter="url(#b1)"/>
<ellipse cx="479" cy="233.6" rx="1.035" ry="0.9" fill="#a8a8a8" fill-opacity="1" filter="url(#b1)"/>
<ellipse cx="470.4" cy="239.4" rx="1.15" ry="1.0" fill="#a3a3a3" fill-opacity="1" filter="url(#b1)"/>
<ellipse cx="454.5" cy="242.4" rx="1.4949999999999999" ry="1.3" fill="#adadad" fill-opacity="1" filter="url(#b1)"/>
<ellipse cx="482" cy="246" rx="1.4949999999999999" ry="1.3" fill="#b8b8b8" fill-opacity="1" filter="url(#b1)"/>
<ellipse cx="474" cy="235.2" rx="1.035" ry="0.9" fill="#a3a3a3" fill-opacity="1" filter="url(#b1)"/>
<ellipse cx="470.8" cy="239.6" rx="1.035" ry="0.9" fill="#9e9e9e" fill-opacity="1" filter="url(#b1)"/>
<ellipse cx="478.9" cy="223.0" rx="1.035" ry="0.9" fill="#575757" fill-opacity="1" filter="url(#b1)"/>
<ellipse cx="484.6" cy="221.6" rx="0.9199999999999999" ry="0.8" fill="#9e9e9e" fill-opacity="1" filter="url(#b1)"/>
<ellipse cx="491.4" cy="239.5" rx="2.2" ry="0.8" fill="#a3a3a3" fill-opacity="1" filter="url(#b1)"/>
<ellipse cx="469" cy="221" rx="1.56" ry="0.9" fill="#696969" fill-opacity="1" filter="url(#b2)"/>
<ellipse cx="459" cy="234.3" rx="1.92" ry="0.9" fill="#6b6b6b" fill-opacity="1" filter="url(#b2)"/>
<ellipse cx="515.5" cy="228" rx="1.92" ry="0.9" fill="#696969" fill-opacity="1" filter="url(#b2)"/>
<ellipse cx="441.5" cy="244.7" rx="1.92" ry="0.9" fill="#696969" fill-opacity="1" filter="url(#b2)"/>
<ellipse cx="494.4" cy="247.9" rx="1.68" ry="0.9" fill="#616161" fill-opacity="1" filter="url(#b2)"/>
<ellipse cx="459.4" cy="234" rx="1.44" ry="0.9" fill="#696969" fill-opacity="1" filter="url(#b2)"/>
<ellipse cx="435.2" cy="246" rx="1.92" ry="0.9" fill="#8c8c8c" fill-opacity="1" filter="url(#b2)"/>
<ellipse cx="464.5" cy="258.5" rx="3.12" ry="0.9" fill="#8f8f8f" fill-opacity="1" filter="url(#b2)"/>
<ellipse cx="508" cy="222" rx="1.44" ry="0.9" fill="#6b6b6b" fill-opacity="1" filter="url(#b2)"/>
<ellipse cx="446" cy="266.0" rx="2.0" ry="0.9" fill="#b8b8b8" fill-opacity="1" filter="url(#b1)"/>
</g></g>
<rect x="427.6" y="202.7" width="102.19999999999993" height="63.69999999999999" fill="none" stroke="#333" stroke-width="0.25" stroke-opacity="0.6"/>
<text x="426.40000000000003" y="46.05" font-size="5.4" text-anchor="end" font-family="Liberation Serif, serif" font-weight="normal" fill="#2a2a2a" stroke="#2a2a2a" stroke-width="0">0.2</text>
<path d="M427.6 44.3 h1" stroke="#333" stroke-width="0.25"/>
<text x="426.40000000000003" y="59.95" font-size="5.4" text-anchor="end" font-family="Liberation Serif, serif" font-weight="normal" fill="#2a2a2a" stroke="#2a2a2a" stroke-width="0">0.4</text>
<path d="M427.6 58.2 h1" stroke="#333" stroke-width="0.25"/>
<text x="426.40000000000003" y="73.85" font-size="5.4" text-anchor="end" font-family="Liberation Serif, serif" font-weight="normal" fill="#2a2a2a" stroke="#2a2a2a" stroke-width="0">0.6</text>
<path d="M427.6 72.1 h1" stroke="#333" stroke-width="0.25"/>
<text x="426.40000000000003" y="87.75" font-size="5.4" text-anchor="end" font-family="Liberation Serif, serif" font-weight="normal" fill="#2a2a2a" stroke="#2a2a2a" stroke-width="0">0.8</text>
<path d="M427.6 86.0 h1" stroke="#333" stroke-width="0.25"/>
<text x="457.45000000000005" y="100.7" font-size="5.4" text-anchor="middle" font-family="Liberation Serif, serif" font-weight="normal" fill="#2a2a2a" stroke="#2a2a2a" stroke-width="0">0.5</text>
<path d="M457.45000000000005 93.8 v-1" stroke="#333" stroke-width="0.25"/>
<text x="487.8" y="100.7" font-size="5.4" text-anchor="middle" font-family="Liberation Serif, serif" font-weight="normal" fill="#2a2a2a" stroke="#2a2a2a" stroke-width="0">1</text>
<path d="M487.8 93.8 v-1" stroke="#333" stroke-width="0.25"/>
<text x="518.1500000000001" y="100.7" font-size="5.4" text-anchor="middle" font-family="Liberation Serif, serif" font-weight="normal" fill="#2a2a2a" stroke="#2a2a2a" stroke-width="0">1.5</text>
<path d="M518.1500000000001 93.8 v-1" stroke="#333" stroke-width="0.25"/>
<text x="479.3" y="106.89999999999999" font-size="5.6" text-anchor="middle" font-family="Liberation Serif, serif" font-weight="normal" fill="#111" stroke="#111" stroke-width="0.03">Y-Direction</text>
<text x="417.70000000000005" y="62.39999999999999" font-size="5.5" text-anchor="middle" font-family="Liberation Serif, serif" font-weight="normal" fill="#111" stroke="#111" stroke-width="0.03" transform="rotate(-90 417.70000000000005 62.39999999999999)">X-Direction</text>
<text x="426.40000000000003" y="130.35" font-size="5.4" text-anchor="end" font-family="Liberation Serif, serif" font-weight="normal" fill="#2a2a2a" stroke="#2a2a2a" stroke-width="0">0.2</text>
<path d="M427.6 128.6 h1" stroke="#333" stroke-width="0.25"/>
<text x="426.40000000000003" y="144.25" font-size="5.4" text-anchor="end" font-family="Liberation Serif, serif" font-weight="normal" fill="#2a2a2a" stroke="#2a2a2a" stroke-width="0">0.4</text>
<path d="M427.6 142.5 h1" stroke="#333" stroke-width="0.25"/>
<text x="426.40000000000003" y="158.15" font-size="5.4" text-anchor="end" font-family="Liberation Serif, serif" font-weight="normal" fill="#2a2a2a" stroke="#2a2a2a" stroke-width="0">0.6</text>
<path d="M427.6 156.4 h1" stroke="#333" stroke-width="0.25"/>
<text x="426.40000000000003" y="172.05" font-size="5.4" text-anchor="end" font-family="Liberation Serif, serif" font-weight="normal" fill="#2a2a2a" stroke="#2a2a2a" stroke-width="0">0.8</text>
<path d="M427.6 170.3 h1" stroke="#333" stroke-width="0.25"/>
<text x="457.45000000000005" y="184.9" font-size="5.4" text-anchor="middle" font-family="Liberation Serif, serif" font-weight="normal" fill="#2a2a2a" stroke="#2a2a2a" stroke-width="0">0.5</text>
<path d="M457.45000000000005 178.0 v-1" stroke="#333" stroke-width="0.25"/>
<text x="487.8" y="184.9" font-size="5.4" text-anchor="middle" font-family="Liberation Serif, serif" font-weight="normal" fill="#2a2a2a" stroke="#2a2a2a" stroke-width="0">1</text>
<path d="M487.8 178.0 v-1" stroke="#333" stroke-width="0.25"/>
<text x="518.1500000000001" y="184.9" font-size="5.4" text-anchor="middle" font-family="Liberation Serif, serif" font-weight="normal" fill="#2a2a2a" stroke="#2a2a2a" stroke-width="0">1.5</text>
<path d="M518.1500000000001 178.0 v-1" stroke="#333" stroke-width="0.25"/>
<text x="479.3" y="191.1" font-size="5.6" text-anchor="middle" font-family="Liberation Serif, serif" font-weight="normal" fill="#111" stroke="#111" stroke-width="0.03">Y-Direction</text>
<text x="417.70000000000005" y="146.65" font-size="5.5" text-anchor="middle" font-family="Liberation Serif, serif" font-weight="normal" fill="#111" stroke="#111" stroke-width="0.03" transform="rotate(-90 417.70000000000005 146.65)">X-Direction</text>
<text x="426.40000000000003" y="218.35" font-size="5.4" text-anchor="end" font-family="Liberation Serif, serif" font-weight="normal" fill="#2a2a2a" stroke="#2a2a2a" stroke-width="0">0.2</text>
<path d="M427.6 216.6 h1" stroke="#333" stroke-width="0.25"/>
<text x="426.40000000000003" y="232.25" font-size="5.4" text-anchor="end" font-family="Liberation Serif, serif" font-weight="normal" fill="#2a2a2a" stroke="#2a2a2a" stroke-width="0">0.4</text>
<path d="M427.6 230.5 h1" stroke="#333" stroke-width="0.25"/>
<text x="426.40000000000003" y="246.14999999999998" font-size="5.4" text-anchor="end" font-family="Liberation Serif, serif" font-weight="normal" fill="#2a2a2a" stroke="#2a2a2a" stroke-width="0">0.6</text>
<path d="M427.6 244.39999999999998 h1" stroke="#333" stroke-width="0.25"/>
<text x="426.40000000000003" y="260.05" font-size="5.4" text-anchor="end" font-family="Liberation Serif, serif" font-weight="normal" fill="#2a2a2a" stroke="#2a2a2a" stroke-width="0">0.8</text>
<path d="M427.6 258.3 h1" stroke="#333" stroke-width="0.25"/>
<text x="457.45000000000005" y="273.29999999999995" font-size="5.4" text-anchor="middle" font-family="Liberation Serif, serif" font-weight="normal" fill="#2a2a2a" stroke="#2a2a2a" stroke-width="0">0.5</text>
<path d="M457.45000000000005 266.4 v-1" stroke="#333" stroke-width="0.25"/>
<text x="487.8" y="273.29999999999995" font-size="5.4" text-anchor="middle" font-family="Liberation Serif, serif" font-weight="normal" fill="#2a2a2a" stroke="#2a2a2a" stroke-width="0">1</text>
<path d="M487.8 266.4 v-1" stroke="#333" stroke-width="0.25"/>
<text x="518.1500000000001" y="273.29999999999995" font-size="5.4" text-anchor="middle" font-family="Liberation Serif, serif" font-weight="normal" fill="#2a2a2a" stroke="#2a2a2a" stroke-width="0">1.5</text>
<path d="M518.1500000000001 266.4 v-1" stroke="#333" stroke-width="0.25"/>
<text x="479.3" y="279.5" font-size="5.6" text-anchor="middle" font-family="Liberation Serif, serif" font-weight="normal" fill="#111" stroke="#111" stroke-width="0.03">Y-Direction</text>
<text x="417.70000000000005" y="234.85" font-size="5.5" text-anchor="middle" font-family="Liberation Serif, serif" font-weight="normal" fill="#111" stroke="#111" stroke-width="0.03" transform="rotate(-90 417.70000000000005 234.85)">X-Direction</text>
<rect x="527.9" y="27.4" width="2.2000000000000455" height="65.19999999999999" fill="url(#jetg)"/>
<rect x="527.9" y="27.4" width="2.2000000000000455" height="65.19999999999999" fill="none" stroke="#333" stroke-width="0.2" stroke-opacity="0.6"/>
<rect x="531.0" y="114.7" width="2.8999999999999773" height="63.3" fill="url(#jetg)"/>
<rect x="531.0" y="114.7" width="2.8999999999999773" height="63.3" fill="none" stroke="#333" stroke-width="0.2" stroke-opacity="0.6"/>
<rect x="531.0" y="202.7" width="2.8999999999999773" height="63.69999999999999" fill="url(#jetg)"/>
<rect x="531.0" y="202.7" width="2.8999999999999773" height="63.69999999999999" fill="none" stroke="#333" stroke-width="0.2" stroke-opacity="0.6"/>
<text x="418.9" y="29.2" font-size="8" text-anchor="middle" font-family="Liberation Serif, serif" font-weight="bold" fill="#111" stroke="#111" stroke-width="0.12">(d)</text>
<text x="418.5" y="116.0" font-size="8" text-anchor="middle" font-family="Liberation Serif, serif" font-weight="bold" fill="#111" stroke="#111" stroke-width="0.12">(h)</text>
<text x="417.6" y="203.3" font-size="9" text-anchor="middle" font-family="Liberation Serif, serif" font-weight="normal" fill="#111" stroke="#111" stroke-width="0.12">(l)</text>
<text x="531.2" y="28.8" font-size="2.9" text-anchor="start" font-family="Liberation Sans, sans-serif" font-weight="normal" fill="#555" stroke="#555" stroke-width="0">0.01</text>
<text x="531.2" y="44.9" font-size="2.9" text-anchor="start" font-family="Liberation Sans, sans-serif" font-weight="normal" fill="#555" stroke="#555" stroke-width="0">0.005</text>
<text x="531.2" y="61.2" font-size="2.9" text-anchor="start" font-family="Liberation Sans, sans-serif" font-weight="normal" fill="#555" stroke="#555" stroke-width="0">0</text>
<text x="531.2" y="77.0" font-size="2.9" text-anchor="start" font-family="Liberation Sans, sans-serif" font-weight="normal" fill="#555" stroke="#555" stroke-width="0">-0.005</text>
<text x="531.2" y="93.0" font-size="2.9" text-anchor="start" font-family="Liberation Sans, sans-serif" font-weight="normal" fill="#555" stroke="#555" stroke-width="0">-0.01</text>
<text x="545.4" y="76.0" font-size="5.8" text-anchor="middle" font-family="Liberation Serif, serif" font-weight="normal" fill="#222" stroke="#222" stroke-width="0">5</text>
<text x="535.4" y="121.10000000000001" font-size="5.3" text-anchor="start" font-family="Liberation Sans, sans-serif" font-weight="normal" fill="#444" stroke="#444" stroke-width="0">0.06</text>
<text x="535.4" y="131.4" font-size="5.3" text-anchor="start" font-family="Liberation Sans, sans-serif" font-weight="normal" fill="#444" stroke="#444" stroke-width="0">0.04</text>
<text x="535.4" y="141.8" font-size="5.3" text-anchor="start" font-family="Liberation Sans, sans-serif" font-weight="normal" fill="#444" stroke="#444" stroke-width="0">0.02</text>
<text x="535.4" y="152.1" font-size="5.3" text-anchor="start" font-family="Liberation Sans, sans-serif" font-weight="normal" fill="#444" stroke="#444" stroke-width="0">0</text>
<text x="535.4" y="162.4" font-size="5.3" text-anchor="start" font-family="Liberation Sans, sans-serif" font-weight="normal" fill="#444" stroke="#444" stroke-width="0">-0.02</text>
<text x="535.4" y="172.6" font-size="5.3" text-anchor="start" font-family="Liberation Sans, sans-serif" font-weight="normal" fill="#444" stroke="#444" stroke-width="0">-0.04</text>
<text x="535.4" y="205.4" font-size="5.3" text-anchor="start" font-family="Liberation Sans, sans-serif" font-weight="normal" fill="#444" stroke="#444" stroke-width="0">0.04</text>
<text x="535.4" y="221.8" font-size="5.3" text-anchor="start" font-family="Liberation Sans, sans-serif" font-weight="normal" fill="#444" stroke="#444" stroke-width="0">0.02</text>
<text x="535.4" y="237.8" font-size="5.3" text-anchor="start" font-family="Liberation Sans, sans-serif" font-weight="normal" fill="#444" stroke="#444" stroke-width="0">0</text>
<text x="535.4" y="254.0" font-size="5.3" text-anchor="start" font-family="Liberation Sans, sans-serif" font-weight="normal" fill="#444" stroke="#444" stroke-width="0">-0.02</text></svg></body></html>
